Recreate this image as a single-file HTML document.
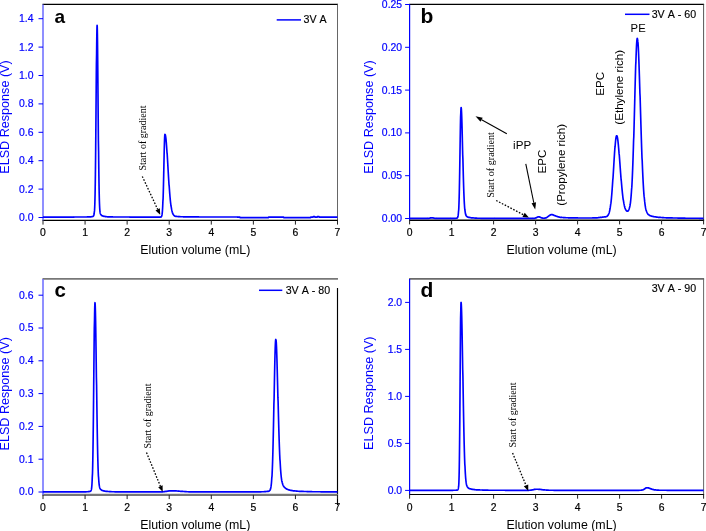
<!DOCTYPE html>
<html lang="en"><head><meta charset="utf-8"><title>ELSD chromatograms</title>
<style>html,body{margin:0;padding:0;background:#fff}svg{display:block}</style>
</head><body>
<svg width="706" height="531" viewBox="0 0 706 531" font-family='"Liberation Sans", Arial, Helvetica, sans-serif'>
<rect width="706" height="531" fill="#fff"/>
<line x1="42.5" y1="4.4" x2="338.0" y2="4.4" stroke="#000" stroke-width="1.3"/>
<line x1="337.5" y1="4.4" x2="337.5" y2="220.4" stroke="#666" stroke-width="1"/>
<line x1="42.5" y1="220.4" x2="338.0" y2="220.4" stroke="#000" stroke-width="1.3"/>
<line x1="43.0" y1="4.4" x2="43.0" y2="220.4" stroke="#6a6aff" stroke-width="1.5"/>
<line x1="43.00" y1="220.4" x2="43.00" y2="224.6" stroke="#222" stroke-width="1"/>
<text x="43.00" y="236.3" text-anchor="middle" font-size="10.4" fill="#000" stroke="#000" stroke-width="0.2">0</text>
<line x1="85.07" y1="220.4" x2="85.07" y2="224.6" stroke="#222" stroke-width="1"/>
<text x="85.07" y="236.3" text-anchor="middle" font-size="10.4" fill="#000" stroke="#000" stroke-width="0.2">1</text>
<line x1="127.14" y1="220.4" x2="127.14" y2="224.6" stroke="#222" stroke-width="1"/>
<text x="127.14" y="236.3" text-anchor="middle" font-size="10.4" fill="#000" stroke="#000" stroke-width="0.2">2</text>
<line x1="169.21" y1="220.4" x2="169.21" y2="224.6" stroke="#222" stroke-width="1"/>
<text x="169.21" y="236.3" text-anchor="middle" font-size="10.4" fill="#000" stroke="#000" stroke-width="0.2">3</text>
<line x1="211.29" y1="220.4" x2="211.29" y2="224.6" stroke="#222" stroke-width="1"/>
<text x="211.29" y="236.3" text-anchor="middle" font-size="10.4" fill="#000" stroke="#000" stroke-width="0.2">4</text>
<line x1="253.36" y1="220.4" x2="253.36" y2="224.6" stroke="#222" stroke-width="1"/>
<text x="253.36" y="236.3" text-anchor="middle" font-size="10.4" fill="#000" stroke="#000" stroke-width="0.2">5</text>
<line x1="295.43" y1="220.4" x2="295.43" y2="224.6" stroke="#222" stroke-width="1"/>
<text x="295.43" y="236.3" text-anchor="middle" font-size="10.4" fill="#000" stroke="#000" stroke-width="0.2">6</text>
<line x1="337.50" y1="220.4" x2="337.50" y2="224.6" stroke="#222" stroke-width="1"/>
<text x="337.50" y="236.3" text-anchor="middle" font-size="10.4" fill="#000" stroke="#000" stroke-width="0.2">7</text>
<line x1="38.5" y1="217.50" x2="43.0" y2="217.50" stroke="#0000ff" stroke-width="1"/>
<text x="33.5" y="220.90" text-anchor="end" font-size="10.4" fill="#0000ff" stroke="#0000ff" stroke-width="0.2">0.0</text>
<line x1="38.5" y1="189.10" x2="43.0" y2="189.10" stroke="#0000ff" stroke-width="1"/>
<text x="33.5" y="192.50" text-anchor="end" font-size="10.4" fill="#0000ff" stroke="#0000ff" stroke-width="0.2">0.2</text>
<line x1="38.5" y1="160.70" x2="43.0" y2="160.70" stroke="#0000ff" stroke-width="1"/>
<text x="33.5" y="164.10" text-anchor="end" font-size="10.4" fill="#0000ff" stroke="#0000ff" stroke-width="0.2">0.4</text>
<line x1="38.5" y1="132.30" x2="43.0" y2="132.30" stroke="#0000ff" stroke-width="1"/>
<text x="33.5" y="135.70" text-anchor="end" font-size="10.4" fill="#0000ff" stroke="#0000ff" stroke-width="0.2">0.6</text>
<line x1="38.5" y1="103.90" x2="43.0" y2="103.90" stroke="#0000ff" stroke-width="1"/>
<text x="33.5" y="107.30" text-anchor="end" font-size="10.4" fill="#0000ff" stroke="#0000ff" stroke-width="0.2">0.8</text>
<line x1="38.5" y1="75.50" x2="43.0" y2="75.50" stroke="#0000ff" stroke-width="1"/>
<text x="33.5" y="78.90" text-anchor="end" font-size="10.4" fill="#0000ff" stroke="#0000ff" stroke-width="0.2">1.0</text>
<line x1="38.5" y1="47.10" x2="43.0" y2="47.10" stroke="#0000ff" stroke-width="1"/>
<text x="33.5" y="50.50" text-anchor="end" font-size="10.4" fill="#0000ff" stroke="#0000ff" stroke-width="0.2">1.2</text>
<line x1="38.5" y1="18.70" x2="43.0" y2="18.70" stroke="#0000ff" stroke-width="1"/>
<text x="33.5" y="22.10" text-anchor="end" font-size="10.4" fill="#0000ff" stroke="#0000ff" stroke-width="0.2">1.4</text>
<polyline points="43.0,217.1 43.1,217.1 43.2,217.1 43.3,217.1 43.4,217.1 43.5,217.1 43.6,217.1 43.7,217.1 43.8,217.1 43.9,217.1 44.1,217.1 44.2,217.1 44.3,217.1 44.4,217.1 44.5,217.1 44.6,217.1 44.7,217.1 44.8,217.1 44.9,217.1 45.0,217.1 45.1,217.1 45.2,217.1 45.3,217.1 45.4,217.1 45.5,217.1 45.6,217.1 45.7,217.1 45.8,217.1 45.9,217.1 46.1,217.1 46.2,217.1 46.3,217.1 46.4,217.1 46.5,217.1 46.6,217.1 46.7,217.1 46.8,217.1 46.9,217.1 47.0,217.1 47.1,217.1 47.2,217.1 47.3,217.1 47.4,217.1 47.5,217.1 47.6,217.1 47.7,217.1 47.8,217.1 47.9,217.1 48.1,217.1 48.2,217.1 48.3,217.1 48.4,217.1 48.5,217.1 48.6,217.1 48.7,217.1 48.8,217.1 48.9,217.1 49.0,217.1 49.1,217.1 49.2,217.1 49.3,217.1 49.4,217.1 49.5,217.1 49.6,217.1 49.7,217.1 49.8,217.1 49.9,217.1 50.0,217.1 50.2,217.1 50.3,217.1 50.4,217.1 50.5,217.1 50.6,217.1 50.7,217.1 50.8,217.1 50.9,217.1 51.0,217.1 51.1,217.1 51.2,217.1 51.3,217.1 51.4,217.1 51.5,217.1 51.6,217.1 51.7,217.1 51.8,217.1 51.9,217.1 52.0,217.1 52.2,217.1 52.3,217.1 52.4,217.1 52.5,217.1 52.6,217.1 52.7,217.1 52.8,217.1 52.9,217.1 53.0,217.1 53.1,217.1 53.2,217.1 53.3,217.1 53.4,217.1 53.5,217.1 53.6,217.1 53.7,217.1 53.8,217.1 53.9,217.1 54.0,217.1 54.2,217.1 54.3,217.1 54.4,217.1 54.5,217.1 54.6,217.1 54.7,217.1 54.8,217.1 54.9,217.1 55.0,217.1 55.1,217.1 55.2,217.1 55.3,217.1 55.4,217.1 55.5,217.1 55.6,217.1 55.7,217.1 55.8,217.1 55.9,217.1 56.0,217.1 56.2,217.1 56.3,217.1 56.4,217.1 56.5,217.1 56.6,217.1 56.7,217.1 56.8,217.1 56.9,217.1 57.0,217.1 57.1,217.1 57.2,217.1 57.3,217.1 57.4,217.1 57.5,217.1 57.6,217.1 57.7,217.1 57.8,217.1 57.9,217.1 58.0,217.1 58.2,217.1 58.3,217.1 58.4,217.1 58.5,217.1 58.6,217.1 58.7,217.1 58.8,217.1 58.9,217.1 59.0,217.1 59.1,217.1 59.2,217.1 59.3,217.1 59.4,217.1 59.5,217.1 59.6,217.1 59.7,217.1 59.8,217.1 59.9,217.1 60.0,217.1 60.2,217.1 60.3,217.1 60.4,217.1 60.5,217.1 60.6,217.1 60.7,217.1 60.8,217.1 60.9,217.1 61.0,217.1 61.1,217.1 61.2,217.1 61.3,217.1 61.4,217.1 61.5,217.1 61.6,217.1 61.7,217.1 61.8,217.1 61.9,217.1 62.0,217.1 62.1,217.1 62.3,217.1 62.4,217.1 62.5,217.1 62.6,217.1 62.7,217.1 62.8,217.1 62.9,217.1 63.0,217.1 63.1,217.1 63.2,217.1 63.3,217.1 63.4,217.1 63.5,217.1 63.6,217.1 63.7,217.1 63.8,217.1 63.9,217.1 64.0,217.1 64.1,217.1 64.3,217.1 64.4,217.1 64.5,217.1 64.6,217.1 64.7,217.1 64.8,217.1 64.9,217.1 65.0,217.1 65.1,217.1 65.2,217.1 65.3,217.1 65.4,217.1 65.5,217.1 65.6,217.1 65.7,217.1 65.8,217.1 65.9,217.1 66.0,217.1 66.1,217.1 66.3,217.1 66.4,217.1 66.5,217.1 66.6,217.1 66.7,217.1 66.8,217.1 66.9,217.1 67.0,217.1 67.1,217.1 67.2,217.1 67.3,217.1 67.4,217.1 67.5,217.1 67.6,217.1 67.7,217.1 67.8,217.1 67.9,217.1 68.0,217.1 68.1,217.1 68.3,217.1 68.4,217.1 68.5,217.1 68.6,217.1 68.7,217.1 68.8,217.1 68.9,217.1 69.0,217.1 69.1,217.1 69.2,217.1 69.3,217.1 69.4,217.1 69.5,217.1 69.6,217.1 69.7,217.1 69.8,217.1 69.9,217.1 70.0,217.1 70.1,217.1 70.3,217.1 70.4,217.1 70.5,217.1 70.6,217.1 70.7,217.1 70.8,217.1 70.9,217.1 71.0,217.1 71.1,217.1 71.2,217.1 71.3,217.1 71.4,217.1 71.5,217.1 71.6,217.1 71.7,217.1 71.8,217.1 71.9,217.1 72.0,217.1 72.1,217.1 72.3,217.1 72.4,217.1 72.5,217.1 72.6,217.1 72.7,217.1 72.8,217.1 72.9,217.1 73.0,217.1 73.1,217.1 73.2,217.1 73.3,217.1 73.4,217.1 73.5,217.1 73.6,217.1 73.7,217.1 73.8,217.1 73.9,217.1 74.0,217.1 74.1,217.0 74.2,217.0 74.4,217.0 74.5,217.0 74.6,217.0 74.7,217.0 74.8,217.0 74.9,217.0 75.0,217.0 75.1,217.0 75.2,217.0 75.3,217.0 75.4,217.0 75.5,217.0 75.6,217.0 75.7,217.0 75.8,217.0 75.9,217.0 76.0,217.0 76.1,217.0 76.2,217.0 76.4,217.0 76.5,217.0 76.6,217.0 76.7,217.0 76.8,217.0 76.9,217.0 77.0,217.0 77.1,217.0 77.2,217.0 77.3,217.0 77.4,217.0 77.5,217.0 77.6,217.0 77.7,217.0 77.8,217.0 77.9,217.0 78.0,217.0 78.1,217.0 78.2,217.0 78.4,217.0 78.5,217.0 78.6,217.0 78.7,217.0 78.8,217.0 78.9,217.0 79.0,217.0 79.1,217.0 79.2,217.0 79.3,217.0 79.4,217.0 79.5,217.0 79.6,217.0 79.7,217.0 79.8,217.0 79.9,217.0 80.0,217.0 80.1,217.0 80.2,217.0 80.4,217.0 80.5,217.0 80.6,217.0 80.7,217.0 80.8,217.0 80.9,217.0 81.0,217.0 81.1,217.0 81.2,217.0 81.3,217.0 81.4,217.0 81.5,217.0 81.6,217.0 81.7,217.0 81.8,217.0 81.9,217.0 82.0,217.0 82.1,217.0 82.2,217.0 82.4,217.0 82.5,217.0 82.6,217.0 82.7,217.0 82.8,217.0 82.9,217.0 83.0,217.0 83.1,217.0 83.2,217.0 83.3,217.0 83.4,217.0 83.5,217.0 83.6,217.0 83.7,217.0 83.8,217.0 83.9,217.0 84.0,217.0 84.1,217.0 84.2,217.0 84.3,217.0 84.5,217.0 84.6,217.0 84.7,217.0 84.8,217.0 84.9,217.0 85.0,217.0 85.1,217.0 85.2,217.0 85.3,217.0 85.4,217.0 85.5,217.0 85.6,217.0 85.7,217.0 85.8,217.0 85.9,217.0 86.0,217.0 86.1,217.0 86.2,217.0 86.3,217.0 86.5,217.0 86.6,217.0 86.7,217.0 86.8,217.0 86.9,217.0 87.0,217.0 87.1,216.9 87.2,216.9 87.3,216.9 87.4,216.9 87.5,216.9 87.6,216.9 87.7,216.9 87.8,216.9 87.9,216.9 88.0,216.9 88.1,216.9 88.2,216.9 88.3,216.9 88.5,216.9 88.6,216.9 88.7,216.9 88.8,216.9 88.9,216.9 89.0,216.9 89.1,216.9 89.2,216.9 89.3,216.9 89.4,216.9 89.5,216.9 89.6,216.9 89.7,216.8 89.8,216.8 89.9,216.8 90.0,216.8 90.1,216.8 90.2,216.8 90.3,216.8 90.5,216.8 90.6,216.8 90.7,216.8 90.8,216.8 90.9,216.8 91.0,216.7 91.1,216.7 91.2,216.7 91.3,216.7 91.4,216.7 91.5,216.7 91.6,216.7 91.7,216.7 91.8,216.6 91.9,216.6 92.0,216.6 92.1,216.6 92.2,216.6 92.3,216.5 92.5,216.5 92.6,216.5 92.7,216.5 92.8,216.4 92.9,216.4 93.0,216.4 93.1,216.3 93.2,216.2 93.3,216.2 93.4,216.1 93.5,216.0 93.6,215.8 93.7,215.6 93.8,215.4 93.9,215.0 94.0,214.6 94.1,214.0 94.2,213.2 94.3,212.2 94.5,210.9 94.6,209.3 94.7,207.3 94.8,204.7 94.9,201.6 95.0,197.8 95.1,193.2 95.2,187.8 95.3,181.5 95.4,174.3 95.5,166.1 95.6,156.9 95.7,146.8 95.8,136.0 95.9,124.4 96.0,112.4 96.1,100.0 96.2,87.7 96.3,75.6 96.4,64.2 96.6,53.7 96.7,44.4 96.8,36.7 96.9,30.9 97.0,27.0 97.1,25.4 97.2,26.1 97.3,29.0 97.4,34.1 97.5,41.1 97.6,49.8 97.7,59.9 97.8,70.8 97.9,82.4 98.0,94.5 98.1,106.6 98.2,118.6 98.3,130.1 98.4,141.1 98.6,151.3 98.7,160.7 98.8,169.1 98.9,176.6 99.0,183.2 99.1,188.9 99.2,193.7 99.3,197.8 99.4,201.2 99.5,204.0 99.6,206.3 99.7,208.1 99.8,209.6 99.9,210.8 100.0,211.7 100.1,212.4 100.2,213.0 100.3,213.5 100.4,213.8 100.6,214.1 100.7,214.3 100.8,214.5 100.9,214.7 101.0,214.8 101.1,214.9 101.2,215.0 101.3,215.1 101.4,215.2 101.5,215.3 101.6,215.4 101.7,215.4 101.8,215.5 101.9,215.6 102.0,215.6 102.1,215.7 102.2,215.7 102.3,215.8 102.4,215.8 102.6,215.9 102.7,215.9 102.8,215.9 102.9,216.0 103.0,216.0 103.1,216.0 103.2,216.1 103.3,216.1 103.4,216.1 103.5,216.2 103.6,216.2 103.7,216.2 103.8,216.2 103.9,216.3 104.0,216.3 104.1,216.3 104.2,216.3 104.3,216.4 104.4,216.4 104.6,216.4 104.7,216.4 104.8,216.4 104.9,216.5 105.0,216.5 105.1,216.5 105.2,216.5 105.3,216.5 105.4,216.5 105.5,216.6 105.6,216.6 105.7,216.6 105.8,216.6 105.9,216.6 106.0,216.6 106.1,216.6 106.2,216.6 106.3,216.6 106.4,216.7 106.6,216.7 106.7,216.7 106.8,216.7 106.9,216.7 107.0,216.7 107.1,216.7 107.2,216.7 107.3,216.7 107.4,216.7 107.5,216.7 107.6,216.8 107.7,216.8 107.8,216.8 107.9,216.8 108.0,216.8 108.1,216.8 108.2,216.8 108.3,216.8 108.4,216.8 108.5,216.8 108.7,216.8 108.8,216.8 108.9,216.8 109.0,216.8 109.1,216.8 109.2,216.8 109.3,216.8 109.4,216.9 109.5,216.9 109.6,216.9 109.7,216.9 109.8,216.9 109.9,216.9 110.0,216.9 110.1,216.9 110.2,216.9 110.3,216.9 110.4,216.9 110.5,216.9 110.7,216.9 110.8,216.9 110.9,216.9 111.0,216.9 111.1,216.9 111.2,216.9 111.3,216.9 111.4,216.9 111.5,216.9 111.6,216.9 111.7,216.9 111.8,216.9 111.9,216.9 112.0,216.9 112.1,216.9 112.2,216.9 112.3,216.9 112.4,216.9 112.5,216.9 112.7,216.9 112.8,217.0 112.9,217.0 113.0,217.0 113.1,217.0 113.2,217.0 113.3,217.0 113.4,217.0 113.5,217.0 113.6,217.0 113.7,217.0 113.8,217.0 113.9,217.0 114.0,217.0 114.1,217.0 114.2,217.0 114.3,217.0 114.4,217.0 114.5,217.0 114.7,217.0 114.8,217.0 114.9,217.0 115.0,217.0 115.1,217.0 115.2,217.0 115.3,217.0 115.4,217.0 115.5,217.0 115.6,217.0 115.7,217.0 115.8,217.0 115.9,217.0 116.0,217.0 116.1,217.0 116.2,217.0 116.3,217.0 116.4,217.0 116.5,217.0 116.7,217.0 116.8,217.0 116.9,217.0 117.0,217.0 117.1,217.0 117.2,217.0 117.3,217.0 117.4,217.0 117.5,217.0 117.6,217.0 117.7,217.0 117.8,217.0 117.9,217.0 118.0,217.0 118.1,217.0 118.2,217.0 118.3,217.0 118.4,217.0 118.5,217.0 118.7,217.0 118.8,217.0 118.9,217.0 119.0,217.0 119.1,217.0 119.2,217.0 119.3,217.0 119.4,217.0 119.5,217.0 119.6,217.0 119.7,217.0 119.8,217.0 119.9,217.0 120.0,217.0 120.1,217.0 120.2,217.0 120.3,217.0 120.4,217.0 120.5,217.0 120.6,217.0 120.8,217.0 120.9,217.0 121.0,217.0 121.1,217.0 121.2,217.0 121.3,217.0 121.4,217.0 121.5,217.0 121.6,217.0 121.7,217.0 121.8,217.0 121.9,217.0 122.0,217.0 122.1,217.0 122.2,217.0 122.3,217.0 122.4,217.0 122.5,217.0 122.6,217.0 122.8,217.0 122.9,217.0 123.0,217.0 123.1,217.0 123.2,217.0 123.3,217.0 123.4,217.0 123.5,217.0 123.6,217.0 123.7,217.0 123.8,217.0 123.9,217.0 124.0,217.0 124.1,217.0 124.2,217.0 124.3,217.0 124.4,217.0 124.5,217.0 124.6,217.0 124.8,217.0 124.9,217.0 125.0,217.0 125.1,217.0 125.2,217.0 125.3,217.0 125.4,217.0 125.5,217.0 125.6,217.0 125.7,217.0 125.8,217.0 125.9,217.0 126.0,217.0 126.1,217.0 126.2,217.0 126.3,217.0 126.4,217.0 126.5,217.0 126.6,217.0 126.8,217.0 126.9,217.0 127.0,217.0 127.1,217.0 127.2,217.0 127.3,217.0 127.4,217.0 127.5,217.0 127.6,217.0 127.7,217.0 127.8,217.0 127.9,217.0 128.0,217.0 128.1,217.0 128.2,217.0 128.3,217.0 128.4,217.0 128.5,217.0 128.6,217.0 128.8,217.0 128.9,217.0 129.0,217.0 129.1,217.0 129.2,217.0 129.3,217.0 129.4,217.0 129.5,217.0 129.6,217.0 129.7,217.0 129.8,217.1 129.9,217.1 130.0,217.1 130.1,217.1 130.2,217.1 130.3,217.1 130.4,217.1 130.5,217.1 130.6,217.1 130.8,217.1 130.9,217.1 131.0,217.1 131.1,217.1 131.2,217.1 131.3,217.1 131.4,217.1 131.5,217.1 131.6,217.1 131.7,217.1 131.8,217.1 131.9,217.1 132.0,217.1 132.1,217.1 132.2,217.1 132.3,217.1 132.4,217.1 132.5,217.1 132.6,217.1 132.7,217.1 132.9,217.1 133.0,217.1 133.1,217.1 133.2,217.1 133.3,217.1 133.4,217.1 133.5,217.1 133.6,217.1 133.7,217.1 133.8,217.1 133.9,217.1 134.0,217.1 134.1,217.1 134.2,217.1 134.3,217.1 134.4,217.1 134.5,217.1 134.6,217.1 134.7,217.1 134.9,217.1 135.0,217.1 135.1,217.1 135.2,217.1 135.3,217.1 135.4,217.1 135.5,217.1 135.6,217.1 135.7,217.1 135.8,217.1 135.9,217.1 136.0,217.1 136.1,217.1 136.2,217.1 136.3,217.1 136.4,217.1 136.5,217.1 136.6,217.1 136.7,217.1 136.9,217.1 137.0,217.1 137.1,217.1 137.2,217.1 137.3,217.1 137.4,217.1 137.5,217.1 137.6,217.1 137.7,217.1 137.8,217.1 137.9,217.1 138.0,217.1 138.1,217.1 138.2,217.1 138.3,217.1 138.4,217.1 138.5,217.1 138.6,217.1 138.7,217.1 138.9,217.1 139.0,217.1 139.1,217.1 139.2,217.1 139.3,217.1 139.4,217.1 139.5,217.1 139.6,217.1 139.7,217.1 139.8,217.1 139.9,217.1 140.0,217.1 140.1,217.1 140.2,217.1 140.3,217.1 140.4,217.1 140.5,217.1 140.6,217.1 140.7,217.1 140.9,217.1 141.0,217.1 141.1,217.1 141.2,217.1 141.3,217.1 141.4,217.1 141.5,217.1 141.6,217.1 141.7,217.1 141.8,217.1 141.9,217.1 142.0,217.1 142.1,217.1 142.2,217.1 142.3,217.1 142.4,217.1 142.5,217.1 142.6,217.1 142.7,217.1 142.9,217.1 143.0,217.1 143.1,217.1 143.2,217.1 143.3,217.1 143.4,217.1 143.5,217.1 143.6,217.1 143.7,217.1 143.8,217.1 143.9,217.1 144.0,217.1 144.1,217.1 144.2,217.1 144.3,217.1 144.4,217.1 144.5,217.1 144.6,217.1 144.7,217.1 144.8,217.1 145.0,217.1 145.1,217.1 145.2,217.1 145.3,217.1 145.4,217.1 145.5,217.1 145.6,217.1 145.7,217.1 145.8,217.1 145.9,217.1 146.0,217.1 146.1,217.1 146.2,217.1 146.3,217.1 146.4,217.1 146.5,217.1 146.6,217.1 146.7,217.1 146.8,217.1 147.0,217.1 147.1,217.1 147.2,217.1 147.3,217.1 147.4,217.1 147.5,217.1 147.6,217.1 147.7,217.1 147.8,217.1 147.9,217.1 148.0,217.1 148.1,217.1 148.2,217.1 148.3,217.1 148.4,217.1 148.5,217.1 148.6,217.1 148.7,217.1 148.8,217.1 149.0,217.1 149.1,217.1 149.2,217.1 149.3,217.1 149.4,217.1 149.5,217.1 149.6,217.1 149.7,217.1 149.8,217.1 149.9,217.1 150.0,217.1 150.1,217.1 150.2,217.1 150.3,217.1 150.4,217.1 150.5,217.1 150.6,217.1 150.7,217.1 150.8,217.1 151.0,217.1 151.1,217.1 151.2,217.1 151.3,217.1 151.4,217.1 151.5,217.1 151.6,217.1 151.7,217.1 151.8,217.1 151.9,217.1 152.0,217.1 152.1,217.1 152.2,217.1 152.3,217.1 152.4,217.1 152.5,217.1 152.6,217.1 152.7,217.1 152.8,217.1 153.0,217.1 153.1,217.1 153.2,217.1 153.3,217.1 153.4,217.1 153.5,217.1 153.6,217.1 153.7,217.1 153.8,217.1 153.9,217.1 154.0,217.1 154.1,217.1 154.2,217.1 154.3,217.1 154.4,217.1 154.5,217.1 154.6,217.1 154.7,217.1 154.8,217.1 154.9,217.1 155.1,217.1 155.2,217.1 155.3,217.1 155.4,217.1 155.5,217.1 155.6,217.1 155.7,217.1 155.8,217.1 155.9,217.1 156.0,217.1 156.1,217.1 156.2,217.1 156.3,217.1 156.4,217.1 156.5,217.1 156.6,217.1 156.7,217.1 156.8,217.1 156.9,217.1 157.1,217.1 157.2,217.1 157.3,217.1 157.4,217.1 157.5,217.1 157.6,217.1 157.7,217.1 157.8,217.1 157.9,217.1 158.0,217.1 158.1,217.1 158.2,217.1 158.3,217.1 158.4,217.1 158.5,217.1 158.6,217.1 158.7,217.1 158.8,217.1 158.9,217.1 159.1,217.1 159.2,217.1 159.3,217.1 159.4,217.1 159.5,217.1 159.6,217.1 159.7,217.1 159.8,217.1 159.9,217.1 160.0,217.1 160.1,217.1 160.2,217.1 160.3,217.1 160.4,217.0 160.5,217.0 160.6,217.0 160.7,217.0 160.8,217.0 160.9,217.0 161.1,216.9 161.2,216.8 161.3,216.8 161.4,216.7 161.5,216.5 161.6,216.3 161.7,216.1 161.8,215.7 161.9,215.3 162.0,214.8 162.1,214.2 162.2,213.4 162.3,212.4 162.4,211.2 162.5,209.8 162.6,208.2 162.7,206.2 162.8,204.0 162.9,201.4 163.1,198.6 163.2,195.4 163.3,191.8 163.4,188.0 163.5,183.8 163.6,179.4 163.7,174.9 163.8,170.2 163.9,165.4 164.0,160.7 164.1,156.0 164.2,151.6 164.3,147.6 164.4,143.9 164.5,140.7 164.6,138.1 164.7,136.2 164.8,134.9 164.9,134.4 165.1,134.5 165.2,134.6 165.3,134.8 165.4,135.2 165.5,135.6 165.6,136.2 165.7,136.8 165.8,137.6 165.9,138.4 166.0,139.4 166.1,140.4 166.2,141.5 166.3,142.6 166.4,143.9 166.5,145.2 166.6,146.6 166.7,148.0 166.8,149.5 166.9,151.0 167.0,152.6 167.2,154.2 167.3,155.9 167.4,157.6 167.5,159.3 167.6,161.0 167.7,162.7 167.8,164.5 167.9,166.2 168.0,168.0 168.1,169.7 168.2,171.4 168.3,173.2 168.4,174.9 168.5,176.6 168.6,178.2 168.7,179.9 168.8,181.5 168.9,183.1 169.0,184.6 169.2,186.1 169.3,187.6 169.4,189.0 169.5,190.4 169.6,191.8 169.7,193.1 169.8,194.3 169.9,195.5 170.0,196.7 170.1,197.8 170.2,198.9 170.3,200.0 170.4,201.0 170.5,201.9 170.6,202.8 170.7,203.7 170.8,204.5 170.9,205.3 171.0,206.0 171.2,206.7 171.3,207.4 171.4,208.0 171.5,208.6 171.6,209.2 171.7,209.7 171.8,210.2 171.9,210.7 172.0,211.1 172.1,211.5 172.2,211.9 172.3,212.3 172.4,212.6 172.5,212.9 172.6,213.2 172.7,213.4 172.8,213.7 172.9,213.9 173.0,214.1 173.2,214.3 173.3,214.5 173.4,214.7 173.5,214.8 173.6,215.0 173.7,215.1 173.8,215.2 173.9,215.3 174.0,215.4 174.1,215.5 174.2,215.6 174.3,215.7 174.4,215.8 174.5,215.8 174.6,215.9 174.7,215.9 174.8,216.0 174.9,216.0 175.0,216.1 175.2,216.1 175.3,216.2 175.4,216.2 175.5,216.2 175.6,216.2 175.7,216.3 175.8,216.3 175.9,216.3 176.0,216.3 176.1,216.4 176.2,216.4 176.3,216.4 176.4,216.4 176.5,216.4 176.6,216.4 176.7,216.4 176.8,216.5 176.9,216.5 177.0,216.5 177.2,216.5 177.3,216.5 177.4,216.5 177.5,216.5 177.6,216.5 177.7,216.5 177.8,216.5 177.9,216.5 178.0,216.5 178.1,216.6 178.2,216.6 178.3,216.6 178.4,216.6 178.5,216.6 178.6,216.6 178.7,216.6 178.8,216.6 178.9,216.6 179.0,216.6 179.1,216.6 179.3,216.6 179.4,216.6 179.5,216.6 179.6,216.6 179.7,216.6 179.8,216.6 179.9,216.6 180.0,216.6 180.1,216.6 180.2,216.7 180.3,216.7 180.4,216.7 180.5,216.7 180.6,216.7 180.7,216.7 180.8,216.7 180.9,216.7 181.0,216.7 181.1,216.7 181.3,216.7 181.4,216.7 181.5,216.7 181.6,216.7 181.7,216.7 181.8,216.7 181.9,216.7 182.0,216.7 182.1,216.7 182.2,216.7 182.3,216.7 182.4,216.7 182.5,216.7 182.6,216.7 182.7,216.7 182.8,216.7 182.9,216.7 183.0,216.7 183.1,216.7 183.3,216.7 183.4,216.8 183.5,216.8 183.6,216.8 183.7,216.8 183.8,216.8 183.9,216.8 184.0,216.8 184.1,216.8 184.2,216.8 184.3,216.8 184.4,216.8 184.5,216.8 184.6,216.8 184.7,216.8 184.8,216.8 184.9,216.8 185.0,216.8 185.1,216.8 185.3,216.8 185.4,216.8 185.5,216.8 185.6,216.8 185.7,216.8 185.8,216.8 185.9,216.8 186.0,216.8 186.1,216.8 186.2,216.8 186.3,216.8 186.4,216.8 186.5,216.8 186.6,216.8 186.7,216.8 186.8,216.8 186.9,216.8 187.0,216.8 187.1,216.8 187.3,216.8 187.4,216.8 187.5,216.8 187.6,216.8 187.7,216.8 187.8,216.8 187.9,216.8 188.0,216.8 188.1,216.8 188.2,216.8 188.3,216.8 188.4,216.8 188.5,216.8 188.6,216.9 188.7,216.9 188.8,216.9 188.9,216.9 189.0,216.9 189.1,216.9 189.3,216.9 189.4,216.9 189.5,216.9 189.6,216.9 189.7,216.9 189.8,216.9 189.9,216.9 190.0,216.9 190.1,216.9 190.2,216.9 190.3,216.9 190.4,216.9 190.5,216.9 190.6,216.9 190.7,216.9 190.8,216.9 190.9,216.9 191.0,216.9 191.1,216.9 191.2,216.9 191.4,216.9 191.5,216.9 191.6,216.9 191.7,216.9 191.8,216.9 191.9,216.9 192.0,216.9 192.1,216.9 192.2,216.9 192.3,216.9 192.4,216.9 192.5,216.9 192.6,216.9 192.7,216.9 192.8,216.9 192.9,216.9 193.0,216.9 193.1,216.9 193.2,216.9 193.4,216.9 193.5,216.9 193.6,216.9 193.7,216.9 193.8,216.9 193.9,216.9 194.0,216.9 194.1,216.9 194.2,216.9 194.3,216.9 194.4,216.9 194.5,216.9 194.6,216.9 194.7,216.9 194.8,216.9 194.9,216.9 195.0,216.9 195.1,216.9 195.2,216.9 195.4,216.9 195.5,216.9 195.6,216.9 195.7,216.9 195.8,216.9 195.9,216.9 196.0,216.9 196.1,216.9 196.2,216.9 196.3,216.9 196.4,216.9 196.5,216.9 196.6,216.9 196.7,216.9 196.8,216.9 196.9,216.9 197.0,216.9 197.1,216.9 197.2,216.9 197.4,216.9 197.5,216.9 197.6,216.9 197.7,216.9 197.8,216.9 197.9,216.9 198.0,216.9 198.1,216.9 198.2,216.9 198.3,216.9 198.4,216.9 198.5,216.9 198.6,216.9 198.7,216.9 198.8,216.9 198.9,217.0 199.0,217.0 199.1,217.0 199.2,217.0 199.4,217.0 199.5,217.0 199.6,217.0 199.7,217.0 199.8,217.0 199.9,217.0 200.0,217.0 200.1,217.0 200.2,217.0 200.3,217.0 200.4,217.0 200.5,217.0 200.6,217.0 200.7,217.0 200.8,217.0 200.9,217.0 201.0,217.0 201.1,217.0 201.2,217.0 201.4,217.0 201.5,217.0 201.6,217.0 201.7,217.0 201.8,217.0 201.9,217.0 202.0,217.0 202.1,217.0 202.2,217.0 202.3,217.0 202.4,217.0 202.5,217.0 202.6,217.0 202.7,217.0 202.8,217.0 202.9,217.0 203.0,217.0 203.1,217.0 203.2,217.0 203.3,217.0 203.5,217.0 203.6,217.0 203.7,217.0 203.8,217.0 203.9,217.0 204.0,217.0 204.1,217.0 204.2,217.0 204.3,217.0 204.4,217.0 204.5,217.0 204.6,217.0 204.7,217.0 204.8,217.0 204.9,217.0 205.0,217.0 205.1,217.0 205.2,217.0 205.3,217.0 205.5,217.0 205.6,217.0 205.7,217.0 205.8,217.0 205.9,217.0 206.0,217.0 206.1,217.0 206.2,217.0 206.3,217.0 206.4,217.0 206.5,217.0 206.6,217.0 206.7,217.0 206.8,217.0 206.9,217.0 207.0,217.0 207.1,217.0 207.2,217.0 207.3,217.0 207.5,217.0 207.6,217.0 207.7,217.0 207.8,217.0 207.9,217.0 208.0,217.0 208.1,217.0 208.2,217.0 208.3,217.0 208.4,217.0 208.5,217.0 208.6,217.0 208.7,217.0 208.8,217.0 208.9,217.0 209.0,217.0 209.1,217.0 209.2,217.0 209.3,217.0 209.5,217.0 209.6,217.0 209.7,217.0 209.8,217.0 209.9,217.0 210.0,217.0 210.1,217.0 210.2,217.0 210.3,217.0 210.4,217.0 210.5,217.0 210.6,217.0 210.7,217.0 210.8,217.0 210.9,217.0 211.0,217.0 211.1,217.0 211.2,217.0 211.3,217.0 211.5,217.0 211.6,217.0 211.7,217.0 211.8,217.0 211.9,217.0 212.0,217.0 212.1,217.0 212.2,217.0 212.3,217.0 212.4,217.0 212.5,217.0 212.6,217.0 212.7,217.0 212.8,217.0 212.9,217.0 213.0,217.0 213.1,217.0 213.2,217.0 213.3,217.0 213.5,217.0 213.6,217.0 213.7,217.0 213.8,217.0 213.9,217.0 214.0,217.0 214.1,217.0 214.2,217.0 214.3,217.0 214.4,217.0 214.5,217.0 214.6,217.0 214.7,217.0 214.8,217.0 214.9,217.0 215.0,217.0 215.1,217.0 215.2,217.0 215.3,217.0 215.4,217.0 215.6,217.0 215.7,217.0 215.8,217.0 215.9,217.0 216.0,217.0 216.1,217.0 216.2,217.0 216.3,217.0 216.4,217.0 216.5,217.0 216.6,217.0 216.7,217.0 216.8,217.0 216.9,217.0 217.0,217.0 217.1,217.0 217.2,217.0 217.3,217.0 217.4,217.0 217.6,217.0 217.7,217.0 217.8,217.0 217.9,217.0 218.0,217.0 218.1,217.0 218.2,217.0 218.3,217.0 218.4,217.0 218.5,217.0 218.6,217.0 218.7,217.0 218.8,217.0 218.9,217.0 219.0,217.0 219.1,217.0 219.2,217.0 219.3,217.0 219.4,217.0 219.6,217.0 219.7,217.0 219.8,217.0 219.9,217.0 220.0,217.0 220.1,217.0 220.2,217.0 220.3,217.0 220.4,217.0 220.5,217.0 220.6,217.0 220.7,217.0 220.8,217.0 220.9,217.0 221.0,217.0 221.1,217.0 221.2,217.0 221.3,217.0 221.4,217.0 221.6,217.0 221.7,217.0 221.8,217.0 221.9,217.0 222.0,217.0 222.1,217.0 222.2,217.0 222.3,217.0 222.4,217.0 222.5,217.0 222.6,217.0 222.7,217.0 222.8,217.0 222.9,217.0 223.0,217.0 223.1,217.0 223.2,217.0 223.3,217.0 223.4,217.0 223.6,217.0 223.7,217.0 223.8,217.0 223.9,217.0 224.0,217.0 224.1,217.0 224.2,217.0 224.3,217.0 224.4,217.0 224.5,217.0 224.6,217.0 224.7,217.0 224.8,217.0 224.9,217.0 225.0,217.0 225.1,217.0 225.2,217.0 225.3,217.0 225.4,217.0 225.6,217.0 225.7,217.0 225.8,217.0 225.9,217.0 226.0,217.0 226.1,217.0 226.2,217.0 226.3,217.0 226.4,217.0 226.5,217.0 226.6,217.0 226.7,217.0 226.8,217.0 226.9,217.0 227.0,217.0 227.1,217.0 227.2,217.0 227.3,217.0 227.4,217.0 227.5,217.0 227.7,217.0 227.8,217.0 227.9,217.0 228.0,217.0 228.1,217.0 228.2,217.0 228.3,217.0 228.4,217.0 228.5,217.0 228.6,217.0 228.7,217.0 228.8,217.0 228.9,217.0 229.0,217.0 229.1,217.0 229.2,217.0 229.3,217.0 229.4,217.0 229.5,217.0 229.7,217.0 229.8,217.0 229.9,217.0 230.0,217.0 230.1,217.0 230.2,217.0 230.3,217.0 230.4,217.0 230.5,217.0 230.6,217.0 230.7,217.0 230.8,217.0 230.9,217.0 231.0,217.0 231.1,217.0 231.2,217.0 231.3,217.0 231.4,217.0 231.5,217.0 231.7,217.0 231.8,217.0 231.9,217.0 232.0,217.0 232.1,217.0 232.2,217.0 232.3,217.0 232.4,217.0 232.5,217.0 232.6,217.0 232.7,217.0 232.8,217.0 232.9,217.0 233.0,217.0 233.1,217.0 233.2,217.0 233.3,217.0 233.4,217.0 233.5,217.0 233.7,217.0 233.8,217.0 233.9,217.0 234.0,217.0 234.1,217.0 234.2,217.0 234.3,217.0 234.4,217.0 234.5,217.0 234.6,217.0 234.7,217.0 234.8,217.0 234.9,217.0 235.0,217.0 235.1,217.0 235.2,217.0 235.3,217.0 235.4,217.0 235.5,217.0 235.7,217.0 235.8,217.0 235.9,217.0 236.0,217.0 236.1,217.0 236.2,217.0 236.3,217.0 236.4,217.0 236.5,217.0 236.6,217.0 236.7,217.0 236.8,217.0 236.9,217.0 237.0,217.0 237.1,217.0 237.2,217.0 237.3,217.0 237.4,217.1 237.5,217.1 237.6,217.1 237.8,217.1 237.9,217.1 238.0,217.1 238.1,217.1 238.2,217.1 238.3,217.1 238.4,217.1 238.5,217.1 238.6,217.1 238.7,217.1 238.8,217.1 238.9,217.1 239.0,217.1 239.1,217.1 239.2,217.1 239.3,217.1 239.4,217.1 239.5,217.1 239.6,217.1 239.8,217.1 239.9,217.1 240.0,217.6 240.1,217.6 240.2,217.6 240.3,217.6 240.4,217.6 240.5,217.6 240.6,217.6 240.7,217.6 240.8,217.6 240.9,217.6 241.0,217.6 241.1,217.6 241.2,217.6 241.3,217.6 241.4,217.6 241.5,217.6 241.6,217.6 241.8,217.6 241.9,217.6 242.0,217.6 242.1,217.6 242.2,217.6 242.3,217.6 242.4,217.6 242.5,217.6 242.6,217.6 242.7,217.6 242.8,217.6 242.9,217.6 243.0,217.6 243.1,217.6 243.2,217.6 243.3,217.6 243.4,217.6 243.5,217.6 243.6,217.6 243.8,217.6 243.9,217.6 244.0,217.6 244.1,217.6 244.2,217.6 244.3,217.6 244.4,217.6 244.5,217.6 244.6,217.6 244.7,217.6 244.8,217.6 244.9,217.6 245.0,217.6 245.1,217.6 245.2,217.6 245.3,217.6 245.4,217.6 245.5,217.6 245.6,217.6 245.8,217.6 245.9,217.6 246.0,217.6 246.1,217.6 246.2,217.6 246.3,217.6 246.4,217.6 246.5,217.6 246.6,217.6 246.7,217.6 246.8,217.6 246.9,217.6 247.0,217.6 247.1,217.6 247.2,217.6 247.3,217.6 247.4,217.6 247.5,217.6 247.6,217.6 247.8,217.6 247.9,217.6 248.0,217.6 248.1,217.6 248.2,217.6 248.3,217.6 248.4,217.6 248.5,217.6 248.6,217.6 248.7,217.6 248.8,217.6 248.9,217.6 249.0,217.6 249.1,217.6 249.2,217.6 249.3,217.6 249.4,217.6 249.5,217.6 249.6,217.6 249.7,217.6 249.9,217.6 250.0,217.6 250.1,217.6 250.2,217.6 250.3,217.6 250.4,217.6 250.5,217.6 250.6,217.6 250.7,217.6 250.8,217.6 250.9,217.6 251.0,217.6 251.1,217.6 251.2,217.6 251.3,217.6 251.4,217.6 251.5,217.6 251.6,217.6 251.7,217.6 251.9,217.6 252.0,217.6 252.1,217.6 252.2,217.6 252.3,217.6 252.4,217.6 252.5,217.6 252.6,217.6 252.7,217.6 252.8,217.6 252.9,217.6 253.0,217.6 253.1,217.6 253.2,217.6 253.3,217.6 253.4,217.6 253.5,217.6 253.6,217.6 253.7,217.6 253.9,217.6 254.0,217.6 254.1,217.6 254.2,217.6 254.3,217.6 254.4,217.6 254.5,217.6 254.6,217.6 254.7,217.6 254.8,217.6 254.9,217.6 255.0,217.6 255.1,217.6 255.2,217.6 255.3,217.6 255.4,217.6 255.5,217.6 255.6,217.6 255.7,217.6 255.9,217.6 256.0,217.6 256.1,217.6 256.2,217.6 256.3,217.6 256.4,217.6 256.5,217.6 256.6,217.6 256.7,217.6 256.8,217.6 256.9,217.6 257.0,217.6 257.1,217.6 257.2,217.6 257.3,217.6 257.4,217.6 257.5,217.6 257.6,217.6 257.7,217.6 257.9,217.6 258.0,217.6 258.1,217.6 258.2,217.6 258.3,217.6 258.4,217.6 258.5,217.6 258.6,217.6 258.7,217.6 258.8,217.6 258.9,217.6 259.0,217.6 259.1,217.6 259.2,217.6 259.3,217.6 259.4,217.6 259.5,217.6 259.6,217.6 259.7,217.6 259.9,217.6 260.0,217.6 260.1,217.6 260.2,217.6 260.3,217.6 260.4,217.6 260.5,217.6 260.6,217.6 260.7,217.6 260.8,217.6 260.9,217.6 261.0,217.6 261.1,217.6 261.2,217.6 261.3,217.6 261.4,217.6 261.5,217.6 261.6,217.6 261.7,217.6 261.8,217.6 262.0,217.6 262.1,217.6 262.2,217.6 262.3,217.6 262.4,217.6 262.5,217.6 262.6,217.6 262.7,217.6 262.8,217.6 262.9,217.6 263.0,217.6 263.1,217.6 263.2,217.6 263.3,217.6 263.4,217.6 263.5,217.6 263.6,217.6 263.7,217.6 263.8,217.6 264.0,217.6 264.1,217.6 264.2,217.6 264.3,217.6 264.4,217.6 264.5,217.6 264.6,217.6 264.7,217.6 264.8,217.6 264.9,217.6 265.0,217.6 265.1,217.6 265.2,217.6 265.3,217.6 265.4,217.6 265.5,217.6 265.6,217.6 265.7,217.6 265.8,217.6 266.0,217.6 266.1,217.6 266.2,217.6 266.3,217.6 266.4,217.6 266.5,217.6 266.6,217.6 266.7,217.6 266.8,217.6 266.9,217.6 267.0,217.6 267.1,217.6 267.2,217.6 267.3,217.6 267.4,217.6 267.5,217.6 267.6,217.6 267.7,217.6 267.8,217.6 268.0,217.6 268.1,217.6 268.2,217.6 268.3,217.6 268.4,217.6 268.5,217.6 268.6,217.1 268.7,217.1 268.8,217.1 268.9,217.1 269.0,217.1 269.1,217.1 269.2,217.1 269.3,217.1 269.4,217.1 269.5,217.1 269.6,217.1 269.7,217.1 269.8,217.1 270.0,217.1 270.1,217.1 270.2,217.1 270.3,217.1 270.4,217.1 270.5,217.1 270.6,217.1 270.7,217.1 270.8,217.1 270.9,217.1 271.0,217.1 271.1,217.1 271.2,217.1 271.3,217.1 271.4,217.1 271.5,217.1 271.6,217.1 271.7,217.1 271.8,217.1 272.0,217.1 272.1,217.1 272.2,217.1 272.3,217.1 272.4,217.1 272.5,217.1 272.6,217.1 272.7,217.1 272.8,217.1 272.9,217.1 273.0,217.1 273.1,217.1 273.2,217.1 273.3,217.1 273.4,217.1 273.5,217.1 273.6,217.1 273.7,217.1 273.8,217.1 273.9,217.1 274.1,217.1 274.2,217.1 274.3,217.1 274.4,217.1 274.5,217.1 274.6,217.1 274.7,217.1 274.8,217.1 274.9,217.1 275.0,217.1 275.1,217.1 275.2,217.1 275.3,217.1 275.4,217.1 275.5,217.1 275.6,217.1 275.7,217.1 275.8,217.1 275.9,217.1 276.1,217.1 276.2,217.1 276.3,217.1 276.4,217.1 276.5,217.1 276.6,217.1 276.7,217.1 276.8,217.1 276.9,217.1 277.0,217.1 277.1,217.1 277.2,217.1 277.3,217.1 277.4,217.1 277.5,217.1 277.6,217.1 277.7,217.1 277.8,217.1 277.9,217.1 278.1,217.1 278.2,217.1 278.3,217.1 278.4,217.1 278.5,217.1 278.6,217.1 278.7,217.1 278.8,217.1 278.9,217.1 279.0,217.1 279.1,217.1 279.2,217.1 279.3,217.1 279.4,217.1 279.5,217.1 279.6,217.1 279.7,217.1 279.8,217.1 279.9,217.1 280.1,217.1 280.2,217.1 280.3,217.1 280.4,217.1 280.5,217.1 280.6,217.1 280.7,217.1 280.8,217.1 280.9,217.1 281.0,217.1 281.1,217.1 281.2,217.1 281.3,217.1 281.4,217.1 281.5,217.1 281.6,217.1 281.7,217.1 281.8,217.1 281.9,217.1 282.1,217.1 282.2,217.1 282.3,217.1 282.4,217.1 282.5,217.1 282.6,217.1 282.7,217.1 282.8,217.1 282.9,217.1 283.0,217.1 283.1,217.1 283.2,217.1 283.3,217.1 283.4,217.1 283.5,217.1 283.6,217.1 283.7,217.6 283.8,217.6 283.9,217.6 284.1,217.6 284.2,217.6 284.3,217.6 284.4,217.6 284.5,217.6 284.6,217.6 284.7,217.6 284.8,217.6 284.9,217.6 285.0,217.6 285.1,217.6 285.2,217.6 285.3,217.6 285.4,217.6 285.5,217.6 285.6,217.6 285.7,217.6 285.8,217.6 285.9,217.6 286.0,217.6 286.2,217.6 286.3,217.6 286.4,217.6 286.5,217.6 286.6,217.6 286.7,217.6 286.8,217.6 286.9,217.6 287.0,217.6 287.1,217.6 287.2,217.6 287.3,217.6 287.4,217.6 287.5,217.6 287.6,217.6 287.7,217.6 287.8,217.6 287.9,217.6 288.0,217.6 288.2,217.6 288.3,217.6 288.4,217.6 288.5,217.6 288.6,217.6 288.7,217.6 288.8,217.6 288.9,217.6 289.0,217.6 289.1,217.6 289.2,217.6 289.3,217.6 289.4,217.6 289.5,217.6 289.6,217.6 289.7,217.6 289.8,217.6 289.9,217.6 290.0,217.6 290.2,217.6 290.3,217.6 290.4,217.6 290.5,217.6 290.6,217.6 290.7,217.6 290.8,217.6 290.9,217.6 291.0,217.6 291.1,217.6 291.2,217.6 291.3,217.6 291.4,217.6 291.5,217.6 291.6,217.6 291.7,217.6 291.8,217.6 291.9,217.6 292.0,217.6 292.2,217.6 292.3,217.6 292.4,217.6 292.5,217.6 292.6,217.6 292.7,217.6 292.8,217.6 292.9,217.6 293.0,217.6 293.1,217.6 293.2,217.6 293.3,217.6 293.4,217.6 293.5,217.6 293.6,217.6 293.7,217.6 293.8,217.6 293.9,217.6 294.0,217.6 294.2,217.6 294.3,217.6 294.4,217.6 294.5,217.6 294.6,217.6 294.7,217.6 294.8,217.6 294.9,217.6 295.0,217.6 295.1,217.6 295.2,217.6 295.3,217.6 295.4,217.6 295.5,217.6 295.6,217.6 295.7,217.6 295.8,217.6 295.9,217.6 296.0,217.6 296.2,217.6 296.3,217.6 296.4,217.6 296.5,217.6 296.6,217.6 296.7,217.6 296.8,217.6 296.9,217.6 297.0,217.6 297.1,217.6 297.2,217.6 297.3,217.6 297.4,217.6 297.5,217.6 297.6,217.6 297.7,217.6 297.8,217.6 297.9,217.6 298.0,217.6 298.1,217.6 298.3,217.6 298.4,217.6 298.5,217.6 298.6,217.6 298.7,217.6 298.8,217.6 298.9,217.6 299.0,217.6 299.1,217.6 299.2,217.6 299.3,217.6 299.4,217.6 299.5,217.6 299.6,217.6 299.7,217.6 299.8,217.6 299.9,217.6 300.0,217.6 300.1,217.6 300.3,217.6 300.4,217.6 300.5,217.6 300.6,217.6 300.7,217.6 300.8,217.6 300.9,217.6 301.0,217.6 301.1,217.6 301.2,217.6 301.3,217.6 301.4,217.6 301.5,217.6 301.6,217.6 301.7,217.6 301.8,217.6 301.9,217.6 302.0,217.6 302.1,217.6 302.3,217.6 302.4,217.6 302.5,217.6 302.6,217.6 302.7,217.6 302.8,217.6 302.9,217.6 303.0,217.6 303.1,217.6 303.2,217.6 303.3,217.6 303.4,217.6 303.5,217.6 303.6,217.6 303.7,217.6 303.8,217.6 303.9,217.6 304.0,217.6 304.1,217.6 304.3,217.6 304.4,217.6 304.5,217.6 304.6,217.6 304.7,217.6 304.8,217.6 304.9,217.6 305.0,217.6 305.1,217.6 305.2,217.6 305.3,217.6 305.4,217.6 305.5,217.6 305.6,217.6 305.7,217.6 305.8,217.6 305.9,217.6 306.0,217.6 306.1,217.6 306.3,217.6 306.4,217.6 306.5,217.6 306.6,217.6 306.7,217.6 306.8,217.6 306.9,217.6 307.0,217.6 307.1,217.6 307.2,217.6 307.3,217.6 307.4,217.6 307.5,217.6 307.6,217.6 307.7,217.6 307.8,217.6 307.9,217.6 308.0,217.6 308.1,217.6 308.2,217.6 308.4,217.6 308.5,217.6 308.6,217.6 308.7,217.6 308.8,217.6 308.9,217.6 309.0,217.6 309.1,217.6 309.2,217.6 309.3,217.6 309.4,217.6 309.5,217.6 309.6,217.6 309.7,217.6 309.8,217.6 309.9,217.6 310.0,217.6 310.1,217.6 310.2,217.6 310.4,217.6 310.5,217.6 310.6,217.6 310.7,217.1 310.8,217.1 310.9,217.1 311.0,217.1 311.1,217.1 311.2,217.1 311.3,217.1 311.4,217.1 311.5,217.1 311.6,217.1 311.7,217.1 311.8,217.1 311.9,217.1 312.0,217.1 312.1,217.1 312.2,217.1 312.4,217.1 312.5,217.1 312.6,217.1 312.7,217.1 312.8,217.1 312.9,217.1 313.0,217.1 313.1,217.1 313.2,216.6 313.3,216.6 313.4,216.6 313.5,216.6 313.6,216.6 313.7,216.6 313.8,216.6 313.9,216.6 314.0,216.6 314.1,216.6 314.2,216.6 314.4,216.6 314.5,216.6 314.6,216.6 314.7,216.6 314.8,216.6 314.9,217.1 315.0,217.1 315.1,217.1 315.2,217.1 315.3,217.1 315.4,217.1 315.5,217.1 315.6,217.1 315.7,217.1 315.8,217.1 315.9,217.1 316.0,217.1 316.1,217.1 316.2,217.1 316.4,217.1 316.5,217.1 316.6,217.1 316.7,217.1 316.8,217.1 316.9,217.1 317.0,217.1 317.1,217.1 317.2,217.1 317.3,217.1 317.4,216.6 317.5,216.6 317.6,216.6 317.7,216.6 317.8,216.6 317.9,216.6 318.0,216.6 318.1,216.6 318.2,216.6 318.4,216.6 318.5,216.6 318.6,216.6 318.7,216.6 318.8,216.6 318.9,216.6 319.0,216.6 319.1,217.1 319.2,217.1 319.3,217.1 319.4,217.1 319.5,217.1 319.6,217.1 319.7,217.1 319.8,217.1 319.9,217.1 320.0,217.1 320.1,217.1 320.2,217.1 320.3,217.1 320.5,217.1 320.6,217.1 320.7,217.1 320.8,217.1 320.9,217.1 321.0,217.1 321.1,217.1 321.2,217.1 321.3,217.1 321.4,217.1 321.5,217.1 321.6,217.1 321.7,217.1 321.8,217.1 321.9,217.1 322.0,217.1 322.1,217.1 322.2,217.1 322.3,217.1 322.5,217.1 322.6,217.1 322.7,217.1 322.8,217.1 322.9,217.1 323.0,217.1 323.1,217.1 323.2,217.1 323.3,217.1 323.4,217.1 323.5,217.1 323.6,217.1 323.7,217.1 323.8,217.1 323.9,217.1 324.0,217.1 324.1,217.1 324.2,217.1 324.3,217.1 324.5,217.1 324.6,217.1 324.7,217.1 324.8,217.1 324.9,217.1 325.0,217.1 325.1,217.1 325.2,217.1 325.3,217.1 325.4,217.1 325.5,217.1 325.6,217.1 325.7,217.1 325.8,217.1 325.9,217.1 326.0,217.1 326.1,217.1 326.2,217.1 326.3,217.1 326.5,217.1 326.6,217.1 326.7,217.1 326.8,217.1 326.9,217.1 327.0,217.1 327.1,217.1 327.2,217.1 327.3,217.1 327.4,217.1 327.5,217.1 327.6,217.1 327.7,217.1 327.8,217.1 327.9,217.1 328.0,217.1 328.1,217.1 328.2,217.1 328.3,217.1 328.5,217.1 328.6,217.1 328.7,217.1 328.8,217.1 328.9,217.1 329.0,217.1 329.1,217.1 329.2,217.1 329.3,217.1 329.4,217.1 329.5,217.1 329.6,217.1 329.7,217.1 329.8,217.1 329.9,217.1 330.0,217.1 330.1,217.1 330.2,217.1 330.3,217.1 330.5,217.1 330.6,217.1 330.7,217.1 330.8,217.1 330.9,217.1 331.0,217.1 331.1,217.1 331.2,217.1 331.3,217.1 331.4,217.1 331.5,217.1 331.6,217.1 331.7,217.1 331.8,217.1 331.9,217.1 332.0,217.1 332.1,217.1 332.2,217.1 332.3,217.1 332.4,217.1 332.6,217.1 332.7,217.1 332.8,217.1 332.9,217.1 333.0,217.1 333.1,217.1 333.2,217.1 333.3,217.1 333.4,217.1 333.5,217.1 333.6,217.1 333.7,217.1 333.8,217.1 333.9,217.1 334.0,217.1 334.1,217.1 334.2,217.1 334.3,217.1 334.4,217.1 334.6,217.1 334.7,217.1 334.8,217.1 334.9,217.1 335.0,217.1 335.1,217.1 335.2,217.1 335.3,217.1 335.4,217.1 335.5,217.1 335.6,217.1 335.7,217.1 335.8,217.1 335.9,217.1 336.0,217.1 336.1,217.1 336.2,217.1 336.3,217.1 336.4,217.1 336.6,217.1 336.7,217.1 336.8,217.1 336.9,217.1 337.0,217.1 337.1,217.1 337.2,217.1 337.3,217.1 337.4,217.1 337.5,217.1" fill="none" stroke="#0000ff" stroke-width="1.65" stroke-linejoin="round"/>
<text x="195.25" y="254.0" text-anchor="middle" font-size="12.4" fill="#000">Elution volume (mL)</text>
<text transform="translate(9.2,117.0) rotate(-90)" text-anchor="middle" font-size="12.6" fill="#0000ff">ELSD Response (V)</text>
<text x="54.5" y="23.2" font-size="19" font-weight="bold" fill="#000">a</text>
<line x1="276.7" y1="19.9" x2="301.0" y2="19.9" stroke="#0000ff" stroke-width="1.5"/>
<text x="303.5" y="23.1" font-size="10.65" style="font-kerning:none" fill="#000" stroke="#000" stroke-width="0.15">3V A</text>
<text transform="translate(146.3,138.0) rotate(-90)" text-anchor="middle" font-family='"Liberation Serif", "Times New Roman", serif' font-size="10" fill="#000">Start of gradient</text>
<line x1="142.30" y1="176.40" x2="157.67" y2="209.36" stroke="#000" stroke-width="1.3" stroke-dasharray="1.6 1.6"/>
<polygon points="160.20,214.80 155.49,210.38 159.84,208.35" fill="#000"/>
<line x1="409.1" y1="4.4" x2="704.1" y2="4.4" stroke="#000" stroke-width="1.3"/>
<line x1="703.6" y1="4.4" x2="703.6" y2="220.2" stroke="#555" stroke-width="1"/>
<line x1="409.1" y1="220.2" x2="704.1" y2="220.2" stroke="#000" stroke-width="1.6"/>
<line x1="409.6" y1="4.4" x2="409.6" y2="220.2" stroke="#0000ff" stroke-width="1.2"/>
<line x1="409.60" y1="220.2" x2="409.60" y2="224.39999999999998" stroke="#222" stroke-width="1"/>
<text x="409.60" y="236.3" text-anchor="middle" font-size="10.4" fill="#000" stroke="#000" stroke-width="0.2">0</text>
<line x1="451.60" y1="220.2" x2="451.60" y2="224.39999999999998" stroke="#222" stroke-width="1"/>
<text x="451.60" y="236.3" text-anchor="middle" font-size="10.4" fill="#000" stroke="#000" stroke-width="0.2">1</text>
<line x1="493.60" y1="220.2" x2="493.60" y2="224.39999999999998" stroke="#222" stroke-width="1"/>
<text x="493.60" y="236.3" text-anchor="middle" font-size="10.4" fill="#000" stroke="#000" stroke-width="0.2">2</text>
<line x1="535.60" y1="220.2" x2="535.60" y2="224.39999999999998" stroke="#222" stroke-width="1"/>
<text x="535.60" y="236.3" text-anchor="middle" font-size="10.4" fill="#000" stroke="#000" stroke-width="0.2">3</text>
<line x1="577.60" y1="220.2" x2="577.60" y2="224.39999999999998" stroke="#222" stroke-width="1"/>
<text x="577.60" y="236.3" text-anchor="middle" font-size="10.4" fill="#000" stroke="#000" stroke-width="0.2">4</text>
<line x1="619.60" y1="220.2" x2="619.60" y2="224.39999999999998" stroke="#222" stroke-width="1"/>
<text x="619.60" y="236.3" text-anchor="middle" font-size="10.4" fill="#000" stroke="#000" stroke-width="0.2">5</text>
<line x1="661.60" y1="220.2" x2="661.60" y2="224.39999999999998" stroke="#222" stroke-width="1"/>
<text x="661.60" y="236.3" text-anchor="middle" font-size="10.4" fill="#000" stroke="#000" stroke-width="0.2">6</text>
<line x1="703.60" y1="220.2" x2="703.60" y2="224.39999999999998" stroke="#222" stroke-width="1"/>
<text x="703.60" y="236.3" text-anchor="middle" font-size="10.4" fill="#000" stroke="#000" stroke-width="0.2">7</text>
<line x1="405.1" y1="218.50" x2="409.6" y2="218.50" stroke="#0000ff" stroke-width="1"/>
<text x="402.1" y="221.90" text-anchor="end" font-size="10.4" fill="#0000ff" stroke="#0000ff" stroke-width="0.2">0.00</text>
<line x1="405.1" y1="175.70" x2="409.6" y2="175.70" stroke="#0000ff" stroke-width="1"/>
<text x="402.1" y="179.10" text-anchor="end" font-size="10.4" fill="#0000ff" stroke="#0000ff" stroke-width="0.2">0.05</text>
<line x1="405.1" y1="132.90" x2="409.6" y2="132.90" stroke="#0000ff" stroke-width="1"/>
<text x="402.1" y="136.30" text-anchor="end" font-size="10.4" fill="#0000ff" stroke="#0000ff" stroke-width="0.2">0.10</text>
<line x1="405.1" y1="90.10" x2="409.6" y2="90.10" stroke="#0000ff" stroke-width="1"/>
<text x="402.1" y="93.50" text-anchor="end" font-size="10.4" fill="#0000ff" stroke="#0000ff" stroke-width="0.2">0.15</text>
<line x1="405.1" y1="47.30" x2="409.6" y2="47.30" stroke="#0000ff" stroke-width="1"/>
<text x="402.1" y="50.70" text-anchor="end" font-size="10.4" fill="#0000ff" stroke="#0000ff" stroke-width="0.2">0.20</text>
<line x1="405.1" y1="4.50" x2="409.6" y2="4.50" stroke="#0000ff" stroke-width="1"/>
<text x="402.1" y="7.90" text-anchor="end" font-size="10.4" fill="#0000ff" stroke="#0000ff" stroke-width="0.2">0.25</text>
<polyline points="409.6,218.4 409.7,218.4 409.8,218.4 409.9,218.4 410.0,218.4 410.1,218.4 410.2,218.4 410.3,218.4 410.4,218.4 410.5,218.4 410.7,218.4 410.8,218.4 410.9,218.4 411.0,218.4 411.1,218.4 411.2,218.4 411.3,218.4 411.4,218.4 411.5,218.4 411.6,218.4 411.7,218.4 411.8,218.4 411.9,218.4 412.0,218.4 412.1,218.4 412.2,218.4 412.3,218.4 412.4,218.4 412.5,218.4 412.6,218.4 412.8,218.4 412.9,218.4 413.0,218.4 413.1,218.4 413.2,218.4 413.3,218.4 413.4,218.4 413.5,218.4 413.6,218.4 413.7,218.4 413.8,218.4 413.9,218.4 414.0,218.4 414.1,218.4 414.2,218.4 414.3,218.4 414.4,218.4 414.5,218.4 414.6,218.4 414.7,218.4 414.9,218.4 415.0,218.4 415.1,218.4 415.2,218.4 415.3,218.4 415.4,218.4 415.5,218.4 415.6,218.4 415.7,218.4 415.8,218.4 415.9,218.4 416.0,218.4 416.1,218.4 416.2,218.4 416.3,218.4 416.4,218.4 416.5,218.4 416.6,218.4 416.7,218.4 416.8,218.4 417.0,218.4 417.1,218.4 417.2,218.4 417.3,218.4 417.4,218.4 417.5,218.4 417.6,218.4 417.7,218.4 417.8,218.4 417.9,218.4 418.0,218.4 418.1,218.4 418.2,218.4 418.3,218.4 418.4,218.4 418.5,218.4 418.6,218.4 418.7,218.4 418.8,218.4 418.9,218.4 419.1,218.4 419.2,218.4 419.3,218.4 419.4,218.4 419.5,218.4 419.6,218.4 419.7,218.4 419.8,218.4 419.9,218.4 420.0,218.4 420.1,218.4 420.2,218.4 420.3,218.4 420.4,218.4 420.5,218.4 420.6,218.4 420.7,218.4 420.8,218.4 420.9,218.4 421.0,218.4 421.2,218.4 421.3,218.4 421.4,218.4 421.5,218.4 421.6,218.4 421.7,218.4 421.8,218.4 421.9,218.4 422.0,218.4 422.1,218.4 422.2,218.4 422.3,218.4 422.4,218.4 422.5,218.4 422.6,218.4 422.7,218.4 422.8,218.4 422.9,218.4 423.0,218.4 423.1,218.4 423.3,218.4 423.4,218.4 423.5,218.4 423.6,218.4 423.7,218.4 423.8,218.4 423.9,218.4 424.0,218.4 424.1,218.4 424.2,218.4 424.3,218.4 424.4,218.4 424.5,218.4 424.6,218.4 424.7,218.4 424.8,218.4 424.9,218.4 425.0,218.4 425.1,218.4 425.3,218.4 425.4,218.4 425.5,218.4 425.6,218.4 425.7,218.4 425.8,218.4 425.9,218.4 426.0,218.4 426.1,218.4 426.2,218.4 426.3,218.4 426.4,218.4 426.5,218.4 426.6,218.4 426.7,218.4 426.8,218.4 426.9,218.4 427.0,218.4 427.1,218.4 427.2,218.4 427.4,218.4 427.5,218.4 427.6,218.4 427.7,218.4 427.8,218.4 427.9,218.3 428.0,218.3 428.1,218.3 428.2,218.3 428.3,218.3 428.4,218.3 428.5,218.3 428.6,218.3 428.7,218.3 428.8,218.3 428.9,218.2 429.0,218.2 429.1,218.2 429.2,218.2 429.3,218.2 429.5,218.2 429.6,218.1 429.7,218.1 429.8,218.1 429.9,218.1 430.0,218.1 430.1,218.0 430.2,218.0 430.3,218.0 430.4,218.0 430.5,217.9 430.6,217.9 430.7,217.9 430.8,217.9 430.9,217.9 431.0,217.9 431.1,217.8 431.2,217.8 431.3,217.8 431.4,217.8 431.6,217.8 431.7,217.8 431.8,217.8 431.9,217.8 432.0,217.8 432.1,217.8 432.2,217.8 432.3,217.8 432.4,217.8 432.5,217.8 432.6,217.8 432.7,217.9 432.8,217.9 432.9,217.9 433.0,217.9 433.1,217.9 433.2,217.9 433.3,218.0 433.4,218.0 433.5,218.0 433.7,218.0 433.8,218.1 433.9,218.1 434.0,218.1 434.1,218.1 434.2,218.1 434.3,218.2 434.4,218.2 434.5,218.2 434.6,218.2 434.7,218.2 434.8,218.2 434.9,218.3 435.0,218.3 435.1,218.3 435.2,218.3 435.3,218.3 435.4,218.3 435.5,218.3 435.6,218.3 435.8,218.3 435.9,218.3 436.0,218.4 436.1,218.4 436.2,218.4 436.3,218.4 436.4,218.4 436.5,218.4 436.6,218.4 436.7,218.4 436.8,218.4 436.9,218.4 437.0,218.4 437.1,218.4 437.2,218.4 437.3,218.4 437.4,218.4 437.5,218.4 437.6,218.4 437.8,218.4 437.9,218.4 438.0,218.4 438.1,218.4 438.2,218.4 438.3,218.4 438.4,218.4 438.5,218.4 438.6,218.4 438.7,218.4 438.8,218.4 438.9,218.4 439.0,218.4 439.1,218.4 439.2,218.4 439.3,218.4 439.4,218.4 439.5,218.4 439.6,218.4 439.7,218.4 439.9,218.4 440.0,218.4 440.1,218.4 440.2,218.4 440.3,218.4 440.4,218.4 440.5,218.4 440.6,218.4 440.7,218.4 440.8,218.4 440.9,218.4 441.0,218.4 441.1,218.4 441.2,218.4 441.3,218.4 441.4,218.4 441.5,218.4 441.6,218.4 441.7,218.4 441.8,218.4 442.0,218.4 442.1,218.4 442.2,218.4 442.3,218.4 442.4,218.4 442.5,218.4 442.6,218.4 442.7,218.4 442.8,218.4 442.9,218.4 443.0,218.4 443.1,218.4 443.2,218.4 443.3,218.4 443.4,218.4 443.5,218.4 443.6,218.4 443.7,218.4 443.8,218.4 443.9,218.4 444.1,218.4 444.2,218.4 444.3,218.4 444.4,218.4 444.5,218.4 444.6,218.4 444.7,218.4 444.8,218.4 444.9,218.4 445.0,218.4 445.1,218.4 445.2,218.4 445.3,218.4 445.4,218.4 445.5,218.4 445.6,218.4 445.7,218.4 445.8,218.4 445.9,218.4 446.0,218.4 446.2,218.4 446.3,218.4 446.4,218.4 446.5,218.4 446.6,218.4 446.7,218.4 446.8,218.4 446.9,218.4 447.0,218.4 447.1,218.4 447.2,218.4 447.3,218.4 447.4,218.4 447.5,218.4 447.6,218.4 447.7,218.4 447.8,218.4 447.9,218.4 448.0,218.4 448.1,218.4 448.3,218.4 448.4,218.4 448.5,218.4 448.6,218.4 448.7,218.4 448.8,218.4 448.9,218.4 449.0,218.4 449.1,218.4 449.2,218.4 449.3,218.4 449.4,218.4 449.5,218.4 449.6,218.4 449.7,218.4 449.8,218.4 449.9,218.4 450.0,218.4 450.1,218.4 450.2,218.4 450.4,218.4 450.5,218.4 450.6,218.4 450.7,218.4 450.8,218.4 450.9,218.4 451.0,218.3 451.1,218.3 451.2,218.3 451.3,218.3 451.4,218.3 451.5,218.3 451.6,218.3 451.7,218.3 451.8,218.3 451.9,218.3 452.0,218.3 452.1,218.3 452.2,218.3 452.4,218.3 452.5,218.3 452.6,218.3 452.7,218.3 452.8,218.3 452.9,218.3 453.0,218.3 453.1,218.3 453.2,218.3 453.3,218.3 453.4,218.3 453.5,218.3 453.6,218.3 453.7,218.3 453.8,218.3 453.9,218.3 454.0,218.3 454.1,218.3 454.2,218.3 454.3,218.3 454.5,218.3 454.6,218.3 454.7,218.3 454.8,218.3 454.9,218.3 455.0,218.3 455.1,218.3 455.2,218.3 455.3,218.3 455.4,218.2 455.5,218.2 455.6,218.2 455.7,218.2 455.8,218.2 455.9,218.2 456.0,218.2 456.1,218.2 456.2,218.2 456.3,218.2 456.4,218.2 456.6,218.2 456.7,218.1 456.8,218.1 456.9,218.1 457.0,218.1 457.1,218.0 457.2,218.0 457.3,217.9 457.4,217.8 457.5,217.7 457.6,217.5 457.7,217.3 457.8,217.1 457.9,216.7 458.0,216.3 458.1,215.7 458.2,215.0 458.3,214.1 458.4,213.0 458.5,211.7 458.7,210.0 458.8,208.1 458.9,205.7 459.0,203.0 459.1,199.9 459.2,196.2 459.3,192.2 459.4,187.6 459.5,182.6 459.6,177.1 459.7,171.2 459.8,165.0 459.9,158.6 460.0,152.0 460.1,145.4 460.2,138.9 460.3,132.7 460.4,126.8 460.5,121.5 460.6,116.9 460.8,113.1 460.9,110.2 461.0,108.4 461.1,107.6 461.2,107.7 461.3,108.4 461.4,109.5 461.5,111.2 461.6,113.3 461.7,115.8 461.8,118.7 461.9,122.0 462.0,125.5 462.1,129.3 462.2,133.4 462.3,137.5 462.4,141.9 462.5,146.2 462.6,150.4 462.7,154.6 462.9,158.9 463.0,163.0 463.1,167.1 463.2,171.0 463.3,174.9 463.4,178.5 463.5,182.0 463.6,185.3 463.7,188.3 463.8,191.2 463.9,193.9 464.0,196.4 464.1,198.6 464.2,200.7 464.3,202.6 464.4,204.3 464.5,205.8 464.6,207.2 464.7,208.4 464.8,209.5 465.0,210.5 465.1,211.3 465.2,212.1 465.3,212.7 465.4,213.3 465.5,213.8 465.6,214.2 465.7,214.6 465.8,214.9 465.9,215.2 466.0,215.4 466.1,215.6 466.2,215.8 466.3,216.0 466.4,216.1 466.5,216.2 466.6,216.3 466.7,216.4 466.8,216.5 467.0,216.6 467.1,216.7 467.2,216.7 467.3,216.8 467.4,216.8 467.5,216.9 467.6,216.9 467.7,217.0 467.8,217.0 467.9,217.0 468.0,217.1 468.1,217.1 468.2,217.1 468.3,217.2 468.4,217.2 468.5,217.2 468.6,217.3 468.7,217.3 468.8,217.3 468.9,217.3 469.1,217.4 469.2,217.4 469.3,217.4 469.4,217.4 469.5,217.4 469.6,217.5 469.7,217.5 469.8,217.5 469.9,217.5 470.0,217.5 470.1,217.6 470.2,217.6 470.3,217.6 470.4,217.6 470.5,217.6 470.6,217.7 470.7,217.7 470.8,217.7 470.9,217.7 471.0,217.7 471.2,217.7 471.3,217.7 471.4,217.8 471.5,217.8 471.6,217.8 471.7,217.8 471.8,217.8 471.9,217.8 472.0,217.8 472.1,217.8 472.2,217.8 472.3,217.9 472.4,217.9 472.5,217.9 472.6,217.9 472.7,217.9 472.8,217.9 472.9,217.9 473.0,217.9 473.1,217.9 473.3,217.9 473.4,217.9 473.5,218.0 473.6,218.0 473.7,218.0 473.8,218.0 473.9,218.0 474.0,218.0 474.1,218.0 474.2,218.0 474.3,218.0 474.4,218.0 474.5,218.0 474.6,218.0 474.7,218.0 474.8,218.0 474.9,218.1 475.0,218.1 475.1,218.1 475.2,218.1 475.4,218.1 475.5,218.1 475.6,218.1 475.7,218.1 475.8,218.1 475.9,218.1 476.0,218.1 476.1,218.1 476.2,218.1 476.3,218.1 476.4,218.1 476.5,218.1 476.6,218.1 476.7,218.1 476.8,218.1 476.9,218.1 477.0,218.2 477.1,218.2 477.2,218.2 477.3,218.2 477.5,218.2 477.6,218.2 477.7,218.2 477.8,218.2 477.9,218.2 478.0,218.2 478.1,218.2 478.2,218.2 478.3,218.2 478.4,218.2 478.5,218.2 478.6,218.2 478.7,218.2 478.8,218.2 478.9,218.2 479.0,218.2 479.1,218.2 479.2,218.2 479.3,218.2 479.4,218.2 479.6,218.2 479.7,218.2 479.8,218.2 479.9,218.2 480.0,218.2 480.1,218.2 480.2,218.2 480.3,218.2 480.4,218.2 480.5,218.2 480.6,218.2 480.7,218.2 480.8,218.3 480.9,218.3 481.0,218.3 481.1,218.3 481.2,218.3 481.3,218.3 481.4,218.3 481.6,218.3 481.7,218.3 481.8,218.3 481.9,218.3 482.0,218.3 482.1,218.3 482.2,218.3 482.3,218.3 482.4,218.3 482.5,218.3 482.6,218.3 482.7,218.3 482.8,218.3 482.9,218.3 483.0,218.3 483.1,218.3 483.2,218.3 483.3,218.3 483.4,218.3 483.5,218.3 483.7,218.3 483.8,218.3 483.9,218.3 484.0,218.3 484.1,218.3 484.2,218.3 484.3,218.3 484.4,218.3 484.5,218.3 484.6,218.3 484.7,218.3 484.8,218.3 484.9,218.3 485.0,218.3 485.1,218.3 485.2,218.3 485.3,218.3 485.4,218.3 485.5,218.3 485.6,218.3 485.8,218.3 485.9,218.3 486.0,218.3 486.1,218.3 486.2,218.3 486.3,218.3 486.4,218.3 486.5,218.3 486.6,218.3 486.7,218.3 486.8,218.3 486.9,218.3 487.0,218.3 487.1,218.3 487.2,218.3 487.3,218.3 487.4,218.3 487.5,218.3 487.6,218.3 487.7,218.3 487.9,218.3 488.0,218.3 488.1,218.3 488.2,218.3 488.3,218.3 488.4,218.3 488.5,218.3 488.6,218.3 488.7,218.3 488.8,218.3 488.9,218.3 489.0,218.3 489.1,218.3 489.2,218.3 489.3,218.3 489.4,218.3 489.5,218.3 489.6,218.3 489.7,218.3 489.8,218.3 490.0,218.3 490.1,218.3 490.2,218.3 490.3,218.3 490.4,218.3 490.5,218.3 490.6,218.3 490.7,218.3 490.8,218.3 490.9,218.3 491.0,218.3 491.1,218.3 491.2,218.3 491.3,218.3 491.4,218.3 491.5,218.3 491.6,218.3 491.7,218.3 491.8,218.3 491.9,218.3 492.1,218.3 492.2,218.3 492.3,218.3 492.4,218.3 492.5,218.3 492.6,218.3 492.7,218.3 492.8,218.3 492.9,218.3 493.0,218.3 493.1,218.3 493.2,218.3 493.3,218.3 493.4,218.3 493.5,218.3 493.6,218.3 493.7,218.3 493.8,218.3 493.9,218.3 494.1,218.3 494.2,218.4 494.3,218.4 494.4,218.4 494.5,218.4 494.6,218.4 494.7,218.4 494.8,218.4 494.9,218.4 495.0,218.4 495.1,218.4 495.2,218.4 495.3,218.4 495.4,218.4 495.5,218.4 495.6,218.4 495.7,218.4 495.8,218.4 495.9,218.4 496.0,218.4 496.2,218.4 496.3,218.4 496.4,218.4 496.5,218.4 496.6,218.4 496.7,218.4 496.8,218.4 496.9,218.4 497.0,218.4 497.1,218.4 497.2,218.4 497.3,218.4 497.4,218.4 497.5,218.4 497.6,218.4 497.7,218.4 497.8,218.4 497.9,218.4 498.0,218.4 498.1,218.4 498.3,218.4 498.4,218.4 498.5,218.4 498.6,218.4 498.7,218.4 498.8,218.4 498.9,218.4 499.0,218.4 499.1,218.4 499.2,218.4 499.3,218.4 499.4,218.4 499.5,218.4 499.6,218.4 499.7,218.4 499.8,218.4 499.9,218.4 500.0,218.4 500.1,218.4 500.2,218.4 500.4,218.4 500.5,218.4 500.6,218.4 500.7,218.4 500.8,218.4 500.9,218.4 501.0,218.4 501.1,218.4 501.2,218.4 501.3,218.4 501.4,218.4 501.5,218.4 501.6,218.4 501.7,218.4 501.8,218.4 501.9,218.4 502.0,218.4 502.1,218.4 502.2,218.4 502.3,218.4 502.5,218.4 502.6,218.4 502.7,218.4 502.8,218.4 502.9,218.4 503.0,218.4 503.1,218.4 503.2,218.4 503.3,218.4 503.4,218.4 503.5,218.4 503.6,218.4 503.7,218.4 503.8,218.4 503.9,218.4 504.0,218.4 504.1,218.4 504.2,218.4 504.3,218.4 504.4,218.4 504.6,218.4 504.7,218.4 504.8,218.4 504.9,218.4 505.0,218.4 505.1,218.4 505.2,218.4 505.3,218.4 505.4,218.4 505.5,218.4 505.6,218.4 505.7,218.4 505.8,218.4 505.9,218.4 506.0,218.4 506.1,218.4 506.2,218.4 506.3,218.4 506.4,218.4 506.5,218.4 506.7,218.4 506.8,218.4 506.9,218.4 507.0,218.4 507.1,218.4 507.2,218.4 507.3,218.4 507.4,218.4 507.5,218.4 507.6,218.4 507.7,218.4 507.8,218.4 507.9,218.4 508.0,218.4 508.1,218.4 508.2,218.4 508.3,218.4 508.4,218.4 508.5,218.4 508.7,218.4 508.8,218.4 508.9,218.4 509.0,218.4 509.1,218.4 509.2,218.4 509.3,218.4 509.4,218.4 509.5,218.4 509.6,218.4 509.7,218.4 509.8,218.4 509.9,218.4 510.0,218.4 510.1,218.4 510.2,218.4 510.3,218.4 510.4,218.4 510.5,218.4 510.6,218.4 510.8,218.4 510.9,218.4 511.0,218.4 511.1,218.4 511.2,218.4 511.3,218.4 511.4,218.4 511.5,218.4 511.6,218.4 511.7,218.4 511.8,218.4 511.9,218.4 512.0,218.4 512.1,218.4 512.2,218.4 512.3,218.4 512.4,218.4 512.5,218.4 512.6,218.4 512.7,218.4 512.9,218.4 513.0,218.4 513.1,218.4 513.2,218.4 513.3,218.4 513.4,218.4 513.5,218.4 513.6,218.4 513.7,218.4 513.8,218.4 513.9,218.4 514.0,218.4 514.1,218.4 514.2,218.4 514.3,218.4 514.4,218.4 514.5,218.4 514.6,218.4 514.7,218.4 514.8,218.4 515.0,218.4 515.1,218.4 515.2,218.4 515.3,218.4 515.4,218.4 515.5,218.4 515.6,218.4 515.7,218.4 515.8,218.4 515.9,218.4 516.0,218.4 516.1,218.4 516.2,218.4 516.3,218.4 516.4,218.4 516.5,218.4 516.6,218.4 516.7,218.4 516.8,218.4 516.9,218.4 517.1,218.4 517.2,218.4 517.3,218.4 517.4,218.4 517.5,218.4 517.6,218.4 517.7,218.4 517.8,218.4 517.9,218.4 518.0,218.4 518.1,218.4 518.2,218.4 518.3,218.4 518.4,218.4 518.5,218.4 518.6,218.4 518.7,218.4 518.8,218.4 518.9,218.4 519.0,218.4 519.2,218.4 519.3,218.4 519.4,218.4 519.5,218.4 519.6,218.4 519.7,218.4 519.8,218.4 519.9,218.4 520.0,218.4 520.1,218.4 520.2,218.4 520.3,218.4 520.4,218.4 520.5,218.4 520.6,218.4 520.7,218.4 520.8,218.4 520.9,218.4 521.0,218.4 521.1,218.4 521.3,218.4 521.4,218.4 521.5,218.4 521.6,218.4 521.7,218.4 521.8,218.4 521.9,218.4 522.0,218.4 522.1,218.4 522.2,218.4 522.3,218.4 522.4,218.4 522.5,218.4 522.6,218.4 522.7,218.4 522.8,218.4 522.9,218.4 523.0,218.4 523.1,218.4 523.3,218.4 523.4,218.4 523.5,218.4 523.6,218.4 523.7,218.4 523.8,218.4 523.9,218.4 524.0,218.4 524.1,218.4 524.2,218.4 524.3,218.4 524.4,218.4 524.5,218.4 524.6,218.4 524.7,218.4 524.8,218.4 524.9,218.4 525.0,218.4 525.1,218.4 525.2,218.4 525.4,218.4 525.5,218.4 525.6,218.4 525.7,218.4 525.8,218.4 525.9,218.4 526.0,218.4 526.1,218.4 526.2,218.4 526.3,218.4 526.4,218.4 526.5,218.4 526.6,218.4 526.7,218.4 526.8,218.4 526.9,218.4 527.0,218.4 527.1,218.4 527.2,218.4 527.3,218.4 527.5,218.4 527.6,218.4 527.7,218.4 527.8,218.4 527.9,218.4 528.0,218.4 528.1,218.4 528.2,218.4 528.3,218.4 528.4,218.4 528.5,218.4 528.6,218.4 528.7,218.4 528.8,218.4 528.9,218.4 529.0,218.4 529.1,218.4 529.2,218.4 529.3,218.4 529.4,218.4 529.6,218.4 529.7,218.4 529.8,218.4 529.9,218.4 530.0,218.4 530.1,218.4 530.2,218.4 530.3,218.4 530.4,218.4 530.5,218.4 530.6,218.4 530.7,218.4 530.8,218.4 530.9,218.4 531.0,218.4 531.1,218.4 531.2,218.4 531.3,218.4 531.4,218.4 531.5,218.4 531.7,218.4 531.8,218.4 531.9,218.4 532.0,218.4 532.1,218.4 532.2,218.4 532.3,218.4 532.4,218.4 532.5,218.4 532.6,218.4 532.7,218.3 532.8,218.3 532.9,218.3 533.0,218.3 533.1,218.3 533.2,218.3 533.3,218.3 533.4,218.3 533.5,218.3 533.6,218.3 533.8,218.3 533.9,218.3 534.0,218.3 534.1,218.3 534.2,218.3 534.3,218.3 534.4,218.3 534.5,218.2 534.6,218.2 534.7,218.2 534.8,218.2 534.9,218.2 535.0,218.1 535.1,218.1 535.2,218.1 535.3,218.0 535.4,218.0 535.5,218.0 535.6,217.9 535.8,217.9 535.9,217.9 536.0,217.8 536.1,217.8 536.2,217.7 536.3,217.7 536.4,217.6 536.5,217.6 536.6,217.5 536.7,217.5 536.8,217.4 536.9,217.3 537.0,217.3 537.1,217.2 537.2,217.2 537.3,217.1 537.4,217.1 537.5,217.0 537.6,217.0 537.7,217.0 537.9,216.9 538.0,216.9 538.1,216.9 538.2,216.8 538.3,216.8 538.4,216.8 538.5,216.8 538.6,216.8 538.7,216.8 538.8,216.8 538.9,216.8 539.0,216.8 539.1,216.9 539.2,216.9 539.3,216.9 539.4,216.9 539.5,217.0 539.6,217.0 539.7,217.0 539.8,217.1 540.0,217.1 540.1,217.1 540.2,217.2 540.3,217.2 540.4,217.3 540.5,217.3 540.6,217.4 540.7,217.4 540.8,217.5 540.9,217.5 541.0,217.5 541.1,217.6 541.2,217.6 541.3,217.7 541.4,217.7 541.5,217.8 541.6,217.8 541.7,217.8 541.8,217.9 541.9,217.9 542.1,217.9 542.2,218.0 542.3,218.0 542.4,218.0 542.5,218.0 542.6,218.1 542.7,218.1 542.8,218.1 542.9,218.1 543.0,218.1 543.1,218.1 543.2,218.2 543.3,218.2 543.4,218.2 543.5,218.2 543.6,218.2 543.7,218.2 543.8,218.2 543.9,218.2 544.0,218.2 544.2,218.2 544.3,218.2 544.4,218.1 544.5,218.1 544.6,218.1 544.7,218.1 544.8,218.1 544.9,218.1 545.0,218.1 545.1,218.0 545.2,218.0 545.3,218.0 545.4,218.0 545.5,217.9 545.6,217.9 545.7,217.9 545.8,217.8 545.9,217.8 546.0,217.8 546.1,217.7 546.3,217.7 546.4,217.6 546.5,217.6 546.6,217.5 546.7,217.5 546.8,217.4 546.9,217.4 547.0,217.3 547.1,217.2 547.2,217.2 547.3,217.1 547.4,217.0 547.5,217.0 547.6,216.9 547.7,216.8 547.8,216.7 547.9,216.7 548.0,216.6 548.1,216.5 548.2,216.4 548.4,216.3 548.5,216.2 548.6,216.2 548.7,216.1 548.8,216.0 548.9,215.9 549.0,215.8 549.1,215.7 549.2,215.7 549.3,215.6 549.4,215.5 549.5,215.4 549.6,215.3 549.7,215.3 549.8,215.2 549.9,215.1 550.0,215.1 550.1,215.0 550.2,214.9 550.4,214.9 550.5,214.8 550.6,214.8 550.7,214.7 550.8,214.7 550.9,214.7 551.0,214.6 551.1,214.6 551.2,214.6 551.3,214.6 551.4,214.6 551.5,214.6 551.6,214.6 551.7,214.6 551.8,214.6 551.9,214.6 552.0,214.6 552.1,214.6 552.2,214.6 552.3,214.6 552.5,214.7 552.6,214.7 552.7,214.7 552.8,214.8 552.9,214.8 553.0,214.8 553.1,214.9 553.2,214.9 553.3,214.9 553.4,215.0 553.5,215.0 553.6,215.1 553.7,215.1 553.8,215.2 553.9,215.2 554.0,215.3 554.1,215.3 554.2,215.4 554.3,215.4 554.4,215.5 554.6,215.5 554.7,215.6 554.8,215.6 554.9,215.6 555.0,215.6 555.1,215.7 555.2,215.7 555.3,215.7 555.4,215.8 555.5,215.8 555.6,215.8 555.7,215.9 555.8,215.9 555.9,216.0 556.0,216.0 556.1,216.0 556.2,216.1 556.3,216.1 556.4,216.2 556.5,216.2 556.7,216.2 556.8,216.3 556.9,216.3 557.0,216.4 557.1,216.4 557.2,216.4 557.3,216.5 557.4,216.5 557.5,216.5 557.6,216.6 557.7,216.6 557.8,216.6 557.9,216.7 558.0,216.7 558.1,216.7 558.2,216.8 558.3,216.8 558.4,216.8 558.5,216.9 558.6,216.9 558.8,216.9 558.9,217.0 559.0,217.0 559.1,217.0 559.2,217.0 559.3,217.1 559.4,217.1 559.5,217.1 559.6,217.1 559.7,217.1 559.8,217.2 559.9,217.2 560.0,217.2 560.1,217.2 560.2,217.2 560.3,217.3 560.4,217.3 560.5,217.3 560.6,217.3 560.7,217.3 560.9,217.3 561.0,217.3 561.1,217.4 561.2,217.4 561.3,217.4 561.4,217.4 561.5,217.4 561.6,217.4 561.7,217.4 561.8,217.4 561.9,217.4 562.0,217.5 562.1,217.5 562.2,217.5 562.3,217.5 562.4,217.5 562.5,217.5 562.6,217.5 562.7,217.5 562.8,217.5 563.0,217.5 563.1,217.5 563.2,217.5 563.3,217.5 563.4,217.6 563.5,217.6 563.6,217.6 563.7,217.6 563.8,217.6 563.9,217.6 564.0,217.6 564.1,217.6 564.2,217.6 564.3,217.6 564.4,217.6 564.5,217.6 564.6,217.6 564.7,217.6 564.8,217.6 565.0,217.6 565.1,217.6 565.2,217.6 565.3,217.6 565.4,217.6 565.5,217.7 565.6,217.7 565.7,217.7 565.8,217.7 565.9,217.7 566.0,217.7 566.1,217.7 566.2,217.7 566.3,217.7 566.4,217.7 566.5,217.7 566.6,217.7 566.7,217.7 566.8,217.7 566.9,217.7 567.1,217.7 567.2,217.7 567.3,217.7 567.4,217.7 567.5,217.7 567.6,217.7 567.7,217.7 567.8,217.7 567.9,217.7 568.0,217.7 568.1,217.7 568.2,217.7 568.3,217.7 568.4,217.8 568.5,217.8 568.6,217.8 568.7,217.8 568.8,217.8 568.9,217.8 569.0,217.8 569.2,217.8 569.3,217.8 569.4,217.8 569.5,217.8 569.6,217.8 569.7,217.8 569.8,217.8 569.9,217.8 570.0,217.8 570.1,217.8 570.2,217.8 570.3,217.8 570.4,217.8 570.5,217.8 570.6,217.8 570.7,217.8 570.8,217.8 570.9,217.8 571.0,217.8 571.1,217.8 571.3,217.8 571.4,217.8 571.5,217.8 571.6,217.8 571.7,217.8 571.8,217.8 571.9,217.8 572.0,217.8 572.1,217.9 572.2,217.9 572.3,217.9 572.4,217.9 572.5,217.9 572.6,217.9 572.7,217.9 572.8,217.9 572.9,217.9 573.0,217.9 573.1,217.9 573.2,217.9 573.4,217.9 573.5,217.9 573.6,217.9 573.7,217.9 573.8,217.9 573.9,217.9 574.0,217.9 574.1,217.9 574.2,217.9 574.3,217.9 574.4,217.9 574.5,217.9 574.6,217.9 574.7,217.9 574.8,217.9 574.9,217.9 575.0,217.9 575.1,217.9 575.2,217.9 575.3,217.9 575.5,217.9 575.6,217.9 575.7,217.9 575.8,217.9 575.9,217.9 576.0,217.9 576.1,217.9 576.2,217.9 576.3,217.9 576.4,217.9 576.5,217.9 576.6,217.9 576.7,217.9 576.8,217.9 576.9,217.9 577.0,217.9 577.1,217.9 577.2,217.9 577.3,217.9 577.4,217.9 577.6,217.9 577.7,217.9 577.8,218.0 577.9,218.0 578.0,218.0 578.1,218.0 578.2,218.0 578.3,218.0 578.4,218.0 578.5,218.0 578.6,218.0 578.7,218.0 578.8,218.0 578.9,218.0 579.0,218.0 579.1,218.0 579.2,218.0 579.3,218.0 579.4,218.0 579.6,218.0 579.7,218.0 579.8,218.0 579.9,218.0 580.0,218.0 580.1,218.0 580.2,218.0 580.3,218.0 580.4,218.0 580.5,218.0 580.6,218.0 580.7,218.0 580.8,218.0 580.9,218.0 581.0,218.0 581.1,218.0 581.2,218.0 581.3,218.0 581.4,218.0 581.5,218.0 581.7,218.0 581.8,218.0 581.9,218.0 582.0,218.0 582.1,218.0 582.2,218.0 582.3,218.0 582.4,218.0 582.5,218.0 582.6,218.0 582.7,218.0 582.8,218.0 582.9,218.0 583.0,218.0 583.1,218.0 583.2,218.0 583.3,218.0 583.4,218.0 583.5,218.0 583.6,218.0 583.8,218.0 583.9,218.0 584.0,218.0 584.1,218.0 584.2,218.0 584.3,218.0 584.4,218.0 584.5,218.0 584.6,218.0 584.7,218.0 584.8,218.0 584.9,218.0 585.0,218.0 585.1,218.0 585.2,218.0 585.3,218.0 585.4,218.0 585.5,218.0 585.6,218.0 585.7,218.0 585.9,218.0 586.0,218.0 586.1,218.0 586.2,218.0 586.3,218.0 586.4,218.0 586.5,218.0 586.6,218.0 586.7,218.0 586.8,218.0 586.9,218.0 587.0,218.0 587.1,218.0 587.2,218.0 587.3,218.0 587.4,218.0 587.5,218.0 587.6,218.0 587.7,218.0 587.8,218.0 588.0,218.0 588.1,218.0 588.2,218.0 588.3,218.0 588.4,218.0 588.5,218.0 588.6,218.0 588.7,218.0 588.8,218.0 588.9,218.0 589.0,218.0 589.1,218.0 589.2,218.0 589.3,218.0 589.4,218.0 589.5,218.0 589.6,218.0 589.7,218.0 589.8,218.0 589.9,218.0 590.1,218.0 590.2,218.0 590.3,218.0 590.4,218.0 590.5,218.0 590.6,218.0 590.7,218.0 590.8,218.0 590.9,218.0 591.0,218.0 591.1,218.0 591.2,218.0 591.3,218.0 591.4,218.0 591.5,218.0 591.6,218.0 591.7,218.0 591.8,218.0 591.9,218.0 592.1,218.0 592.2,218.0 592.3,218.0 592.4,218.0 592.5,217.9 592.6,217.9 592.7,217.9 592.8,217.9 592.9,217.9 593.0,217.9 593.1,217.9 593.2,217.9 593.3,217.9 593.4,217.9 593.5,217.9 593.6,217.9 593.7,217.9 593.8,217.9 593.9,217.9 594.0,217.9 594.2,217.9 594.3,217.9 594.4,217.9 594.5,217.9 594.6,217.9 594.7,217.9 594.8,217.9 594.9,217.9 595.0,217.9 595.1,217.9 595.2,217.9 595.3,217.9 595.4,217.9 595.5,217.9 595.6,217.9 595.7,217.8 595.8,217.8 595.9,217.8 596.0,217.8 596.1,217.8 596.3,217.8 596.4,217.8 596.5,217.8 596.6,217.8 596.7,217.8 596.8,217.8 596.9,217.8 597.0,217.8 597.1,217.8 597.2,217.8 597.3,217.7 597.4,217.7 597.5,217.7 597.6,217.7 597.7,217.7 597.8,217.7 597.9,217.7 598.0,217.7 598.1,217.7 598.2,217.7 598.4,217.6 598.5,217.6 598.6,217.6 598.7,217.6 598.8,217.6 598.9,217.6 599.0,217.6 599.1,217.6 599.2,217.5 599.3,217.5 599.4,217.5 599.5,217.5 599.6,217.5 599.7,217.5 599.8,217.5 599.9,217.5 600.0,217.4 600.1,217.4 600.2,217.4 600.3,217.4 600.5,217.4 600.6,217.4 600.7,217.4 600.8,217.3 600.9,217.3 601.0,217.3 601.1,217.3 601.2,217.3 601.3,217.3 601.4,217.3 601.5,217.2 601.6,217.2 601.7,217.2 601.8,217.2 601.9,217.2 602.0,217.2 602.1,217.2 602.2,217.2 602.3,217.1 602.4,217.1 602.6,217.1 602.7,217.1 602.8,217.1 602.9,217.1 603.0,217.1 603.1,217.1 603.2,217.0 603.3,217.0 603.4,217.0 603.5,217.0 603.6,217.0 603.7,217.0 603.8,217.0 603.9,217.0 604.0,217.0 604.1,217.0 604.2,216.9 604.3,216.9 604.4,216.9 604.5,216.9 604.7,216.9 604.8,216.9 604.9,216.9 605.0,216.9 605.1,216.8 605.2,216.8 605.3,216.8 605.4,216.8 605.5,216.8 605.6,216.8 605.7,216.7 605.8,216.7 605.9,216.7 606.0,216.7 606.1,216.6 606.2,216.6 606.3,216.6 606.4,216.5 606.5,216.5 606.7,216.4 606.8,216.4 606.9,216.3 607.0,216.3 607.1,216.2 607.2,216.1 607.3,216.1 607.4,216.0 607.5,215.9 607.6,215.8 607.7,215.7 607.8,215.5 607.9,215.4 608.0,215.3 608.1,215.1 608.2,214.9 608.3,214.7 608.4,214.5 608.5,214.3 608.6,214.1 608.8,213.8 608.9,213.6 609.0,213.3 609.1,213.0 609.2,212.6 609.3,212.3 609.4,211.9 609.5,211.5 609.6,211.1 609.7,210.6 609.8,210.1 609.9,209.6 610.0,209.0 610.1,208.5 610.2,207.8 610.3,207.2 610.4,206.5 610.5,205.8 610.6,205.0 610.7,204.2 610.9,203.4 611.0,202.5 611.1,201.6 611.2,200.6 611.3,199.6 611.4,198.6 611.5,197.5 611.6,196.3 611.7,195.2 611.8,194.0 611.9,192.7 612.0,191.4 612.1,190.1 612.2,188.7 612.3,187.3 612.4,185.9 612.5,184.4 612.6,182.9 612.7,181.4 612.8,179.8 613.0,178.2 613.1,176.6 613.2,175.0 613.3,173.4 613.4,171.7 613.5,170.0 613.6,168.4 613.7,166.7 613.8,165.0 613.9,163.3 614.0,161.7 614.1,160.0 614.2,158.4 614.3,156.8 614.4,155.2 614.5,153.7 614.6,152.1 614.7,150.7 614.8,149.2 614.9,147.8 615.1,146.5 615.2,145.2 615.3,144.0 615.4,142.9 615.5,141.8 615.6,140.8 615.7,139.9 615.8,139.1 615.9,138.3 616.0,137.7 616.1,137.1 616.2,136.6 616.3,136.2 616.4,136.0 616.5,135.8 616.6,135.7 616.7,135.7 616.8,135.8 616.9,135.9 617.0,136.2 617.2,136.5 617.3,136.9 617.4,137.3 617.5,137.9 617.6,138.5 617.7,139.1 617.8,139.9 617.9,140.6 618.0,141.5 618.1,142.4 618.2,143.4 618.3,144.4 618.4,145.4 618.5,146.5 618.6,147.7 618.7,148.8 618.8,150.1 618.9,151.3 619.0,152.6 619.1,153.9 619.3,155.2 619.4,156.5 619.5,157.9 619.6,159.2 619.7,160.6 619.8,162.0 619.9,163.4 620.0,164.7 620.1,166.1 620.2,167.5 620.3,168.9 620.4,170.3 620.5,171.6 620.6,173.0 620.7,174.3 620.8,175.6 620.9,176.9 621.0,178.2 621.1,179.5 621.3,180.8 621.4,182.0 621.5,183.2 621.6,184.4 621.7,185.5 621.8,186.7 621.9,187.8 622.0,188.9 622.1,189.9 622.2,190.9 622.3,191.9 622.4,192.9 622.5,193.8 622.6,194.7 622.7,195.6 622.8,196.5 622.9,197.3 623.0,198.1 623.1,198.8 623.2,199.6 623.4,200.3 623.5,200.9 623.6,201.6 623.7,202.2 623.8,202.8 623.9,203.4 624.0,203.9 624.1,204.4 624.2,204.9 624.3,205.4 624.4,205.9 624.5,206.3 624.6,206.7 624.7,207.1 624.8,207.4 624.9,207.8 625.0,208.1 625.1,208.4 625.2,208.7 625.3,208.9 625.5,209.2 625.6,209.4 625.7,209.6 625.8,209.8 625.9,210.0 626.0,210.2 626.1,210.3 626.2,210.5 626.3,210.6 626.4,210.7 626.5,210.8 626.6,210.9 626.7,211.0 626.8,211.0 626.9,211.1 627.0,211.1 627.1,211.1 627.2,211.2 627.3,211.2 627.4,211.2 627.6,211.1 627.7,211.1 627.8,211.1 627.9,211.0 628.0,210.9 628.1,210.9 628.2,210.8 628.3,210.6 628.4,210.5 628.5,210.4 628.6,210.2 628.7,210.0 628.8,209.8 628.9,209.6 629.0,209.3 629.1,209.0 629.2,208.7 629.3,208.4 629.4,208.0 629.5,207.6 629.7,207.2 629.8,206.7 629.9,206.2 630.0,205.7 630.1,205.1 630.2,204.5 630.3,203.8 630.4,203.1 630.5,202.3 630.6,201.4 630.7,200.5 630.8,199.5 630.9,198.5 631.0,197.4 631.1,196.2 631.2,194.9 631.3,193.6 631.4,192.2 631.5,190.7 631.6,189.1 631.8,187.4 631.9,185.6 632.0,183.8 632.1,181.8 632.2,179.7 632.3,177.6 632.4,175.3 632.5,172.9 632.6,170.4 632.7,167.9 632.8,165.2 632.9,162.4 633.0,159.5 633.1,156.5 633.2,153.4 633.3,150.2 633.4,147.0 633.5,143.6 633.6,140.2 633.8,136.6 633.9,133.0 634.0,129.4 634.1,125.6 634.2,121.8 634.3,118.0 634.4,114.1 634.5,110.2 634.6,106.3 634.7,102.4 634.8,98.4 634.9,94.5 635.0,90.6 635.1,86.8 635.2,83.0 635.3,79.2 635.4,75.5 635.5,72.0 635.6,68.5 635.7,65.1 635.9,61.9 636.0,58.8 636.1,55.9 636.2,53.2 636.3,50.7 636.4,48.3 636.5,46.2 636.6,44.3 636.7,42.7 636.8,41.3 636.9,40.2 637.0,39.3 637.1,38.7 637.2,38.4 637.3,38.4 637.4,38.6 637.5,39.0 637.6,39.6 637.7,40.4 637.8,41.4 638.0,42.6 638.1,44.0 638.2,45.6 638.3,47.4 638.4,49.4 638.5,51.5 638.6,53.7 638.7,56.2 638.8,58.7 638.9,61.4 639.0,64.2 639.1,67.1 639.2,70.1 639.3,73.2 639.4,76.3 639.5,79.6 639.6,82.9 639.7,86.2 639.8,89.6 639.9,93.1 640.1,96.5 640.2,100.0 640.3,103.5 640.4,107.0 640.5,110.4 640.6,113.9 640.7,117.3 640.8,120.8 640.9,124.2 641.0,127.5 641.1,130.8 641.2,134.1 641.3,137.3 641.4,140.4 641.5,143.5 641.6,146.6 641.7,149.5 641.8,152.4 641.9,155.2 642.0,158.0 642.2,160.6 642.3,163.2 642.4,165.7 642.5,168.2 642.6,170.5 642.7,172.8 642.8,175.0 642.9,177.1 643.0,179.1 643.1,181.1 643.2,182.9 643.3,184.7 643.4,186.4 643.5,188.1 643.6,189.7 643.7,191.1 643.8,192.6 643.9,193.9 644.0,195.2 644.1,196.4 644.3,197.6 644.4,198.7 644.5,199.7 644.6,200.7 644.7,201.7 644.8,202.5 644.9,203.4 645.0,204.2 645.1,204.9 645.2,205.6 645.3,206.2 645.4,206.8 645.5,207.4 645.6,208.0 645.7,208.5 645.8,208.9 645.9,209.4 646.0,209.8 646.1,210.2 646.2,210.6 646.4,210.9 646.5,211.2 646.6,211.5 646.7,211.8 646.8,212.0 646.9,212.3 647.0,212.5 647.1,212.7 647.2,212.9 647.3,213.1 647.4,213.3 647.5,213.5 647.6,213.6 647.7,213.8 647.8,213.9 647.9,214.0 648.0,214.1 648.1,214.3 648.2,214.4 648.4,214.5 648.5,214.6 648.6,214.6 648.7,214.7 648.8,214.8 648.9,214.9 649.0,215.0 649.1,215.0 649.2,215.1 649.3,215.2 649.4,215.2 649.5,215.3 649.6,215.3 649.7,215.4 649.8,215.4 649.9,215.5 650.0,215.5 650.1,215.6 650.2,215.6 650.3,215.7 650.5,215.7 650.6,215.7 650.7,215.8 650.8,215.8 650.9,215.9 651.0,215.9 651.1,215.9 651.2,216.0 651.3,216.0 651.4,216.0 651.5,216.1 651.6,216.1 651.7,216.1 651.8,216.2 651.9,216.2 652.0,216.2 652.1,216.2 652.2,216.3 652.3,216.3 652.4,216.3 652.6,216.3 652.7,216.4 652.8,216.4 652.9,216.4 653.0,216.4 653.1,216.5 653.2,216.5 653.3,216.5 653.4,216.5 653.5,216.6 653.6,216.6 653.7,216.6 653.8,216.6 653.9,216.6 654.0,216.7 654.1,216.7 654.2,216.7 654.3,216.7 654.4,216.7 654.5,216.7 654.7,216.8 654.8,216.8 654.9,216.8 655.0,216.8 655.1,216.8 655.2,216.8 655.3,216.9 655.4,216.9 655.5,216.9 655.6,216.9 655.7,216.9 655.8,216.9 655.9,217.0 656.0,217.0 656.1,217.0 656.2,217.0 656.3,217.0 656.4,217.0 656.5,217.0 656.6,217.1 656.8,217.1 656.9,217.1 657.0,217.1 657.1,217.1 657.2,217.1 657.3,217.1 657.4,217.1 657.5,217.2 657.6,217.2 657.7,217.2 657.8,217.2 657.9,217.2 658.0,217.2 658.1,217.2 658.2,217.2 658.3,217.2 658.4,217.3 658.5,217.3 658.6,217.3 658.7,217.3 658.9,217.3 659.0,217.3 659.1,217.3 659.2,217.3 659.3,217.3 659.4,217.3 659.5,217.3 659.6,217.4 659.7,217.4 659.8,217.4 659.9,217.4 660.0,217.4 660.1,217.4 660.2,217.4 660.3,217.4 660.4,217.4 660.5,217.4 660.6,217.4 660.7,217.5 660.8,217.5 661.0,217.5 661.1,217.5 661.2,217.5 661.3,217.5 661.4,217.5 661.5,217.5 661.6,217.5 661.7,217.5 661.8,217.5 661.9,217.5 662.0,217.5 662.1,217.5 662.2,217.6 662.3,217.6 662.4,217.6 662.5,217.6 662.6,217.6 662.7,217.6 662.8,217.6 663.0,217.6 663.1,217.6 663.2,217.6 663.3,217.6 663.4,217.6 663.5,217.6 663.6,217.6 663.7,217.6 663.8,217.6 663.9,217.6 664.0,217.7 664.1,217.7 664.2,217.7 664.3,217.7 664.4,217.7 664.5,217.7 664.6,217.7 664.7,217.7 664.8,217.7 664.9,217.7 665.1,217.7 665.2,217.7 665.3,217.7 665.4,217.7 665.5,217.7 665.6,217.7 665.7,217.7 665.8,217.7 665.9,217.7 666.0,217.7 666.1,217.7 666.2,217.8 666.3,217.8 666.4,217.8 666.5,217.8 666.6,217.8 666.7,217.8 666.8,217.8 666.9,217.8 667.0,217.8 667.2,217.8 667.3,217.8 667.4,217.8 667.5,217.8 667.6,217.8 667.7,217.8 667.8,217.8 667.9,217.8 668.0,217.8 668.1,217.8 668.2,217.8 668.3,217.8 668.4,217.8 668.5,217.8 668.6,217.8 668.7,217.8 668.8,217.8 668.9,217.9 669.0,217.9 669.1,217.9 669.3,217.9 669.4,217.9 669.5,217.9 669.6,217.9 669.7,217.9 669.8,217.9 669.9,217.9 670.0,217.9 670.1,217.9 670.2,217.9 670.3,217.9 670.4,217.9 670.5,217.9 670.6,217.9 670.7,217.9 670.8,217.9 670.9,217.9 671.0,217.9 671.1,217.9 671.2,217.9 671.4,217.9 671.5,217.9 671.6,217.9 671.7,217.9 671.8,217.9 671.9,217.9 672.0,217.9 672.1,217.9 672.2,217.9 672.3,217.9 672.4,217.9 672.5,218.0 672.6,218.0 672.7,218.0 672.8,218.0 672.9,218.0 673.0,218.0 673.1,218.0 673.2,218.0 673.3,218.0 673.5,218.0 673.6,218.0 673.7,218.0 673.8,218.0 673.9,218.0 674.0,218.0 674.1,218.0 674.2,218.0 674.3,218.0 674.4,218.0 674.5,218.0 674.6,218.0 674.7,218.0 674.8,218.0 674.9,218.0 675.0,218.0 675.1,218.0 675.2,218.0 675.3,218.0 675.4,218.0 675.6,218.0 675.7,218.0 675.8,218.0 675.9,218.0 676.0,218.0 676.1,218.0 676.2,218.0 676.3,218.0 676.4,218.0 676.5,218.0 676.6,218.0 676.7,218.0 676.8,218.0 676.9,218.0 677.0,218.0 677.1,218.0 677.2,218.0 677.3,218.0 677.4,218.0 677.6,218.1 677.7,218.1 677.8,218.1 677.9,218.1 678.0,218.1 678.1,218.1 678.2,218.1 678.3,218.1 678.4,218.1 678.5,218.1 678.6,218.1 678.7,218.1 678.8,218.1 678.9,218.1 679.0,218.1 679.1,218.1 679.2,218.1 679.3,218.1 679.4,218.1 679.5,218.1 679.7,218.1 679.8,218.1 679.9,218.1 680.0,218.1 680.1,218.1 680.2,218.1 680.3,218.1 680.4,218.1 680.5,218.1 680.6,218.1 680.7,218.1 680.8,218.1 680.9,218.1 681.0,218.1 681.1,218.1 681.2,218.1 681.3,218.1 681.4,218.1 681.5,218.1 681.6,218.1 681.8,218.1 681.9,218.1 682.0,218.1 682.1,218.1 682.2,218.1 682.3,218.1 682.4,218.1 682.5,218.1 682.6,218.1 682.7,218.1 682.8,218.1 682.9,218.1 683.0,218.1 683.1,218.1 683.2,218.1 683.3,218.1 683.4,218.1 683.5,218.1 683.6,218.1 683.7,218.1 683.9,218.1 684.0,218.1 684.1,218.1 684.2,218.1 684.3,218.1 684.4,218.1 684.5,218.1 684.6,218.1 684.7,218.1 684.8,218.1 684.9,218.1 685.0,218.1 685.1,218.1 685.2,218.2 685.3,218.2 685.4,218.2 685.5,218.2 685.6,218.2 685.7,218.2 685.8,218.2 686.0,218.2 686.1,218.2 686.2,218.2 686.3,218.2 686.4,218.2 686.5,218.2 686.6,218.2 686.7,218.2 686.8,218.2 686.9,218.2 687.0,218.2 687.1,218.2 687.2,218.2 687.3,218.2 687.4,218.2 687.5,218.2 687.6,218.2 687.7,218.2 687.8,218.2 687.9,218.2 688.1,218.2 688.2,218.2 688.3,218.2 688.4,218.2 688.5,218.2 688.6,218.2 688.7,218.2 688.8,218.2 688.9,218.2 689.0,218.2 689.1,218.2 689.2,218.2 689.3,218.2 689.4,218.2 689.5,218.2 689.6,218.2 689.7,218.2 689.8,218.2 689.9,218.2 690.1,218.2 690.2,218.2 690.3,218.2 690.4,218.2 690.5,218.2 690.6,218.2 690.7,218.2 690.8,218.2 690.9,218.2 691.0,218.2 691.1,218.2 691.2,218.2 691.3,218.2 691.4,218.2 691.5,218.2 691.6,218.2 691.7,218.2 691.8,218.2 691.9,218.2 692.0,218.2 692.2,218.2 692.3,218.2 692.4,218.2 692.5,218.2 692.6,218.2 692.7,218.2 692.8,218.2 692.9,218.2 693.0,218.2 693.1,218.2 693.2,218.2 693.3,218.2 693.4,218.2 693.5,218.2 693.6,218.2 693.7,218.2 693.8,218.2 693.9,218.2 694.0,218.2 694.1,218.2 694.3,218.2 694.4,218.2 694.5,218.2 694.6,218.2 694.7,218.2 694.8,218.2 694.9,218.2 695.0,218.2 695.1,218.2 695.2,218.2 695.3,218.2 695.4,218.2 695.5,218.2 695.6,218.2 695.7,218.2 695.8,218.2 695.9,218.2 696.0,218.2 696.1,218.2 696.2,218.2 696.4,218.2 696.5,218.2 696.6,218.2 696.7,218.2 696.8,218.2 696.9,218.2 697.0,218.2 697.1,218.2 697.2,218.2 697.3,218.2 697.4,218.2 697.5,218.2 697.6,218.2 697.7,218.2 697.8,218.2 697.9,218.2 698.0,218.2 698.1,218.2 698.2,218.2 698.3,218.2 698.5,218.2 698.6,218.2 698.7,218.2 698.8,218.2 698.9,218.2 699.0,218.2 699.1,218.2 699.2,218.2 699.3,218.2 699.4,218.3 699.5,218.3 699.6,218.3 699.7,218.3 699.8,218.3 699.9,218.3 700.0,218.3 700.1,218.3 700.2,218.3 700.3,218.3 700.4,218.3 700.6,218.3 700.7,218.3 700.8,218.3 700.9,218.3 701.0,218.3 701.1,218.3 701.2,218.3 701.3,218.3 701.4,218.3 701.5,218.3 701.6,218.3 701.7,218.3 701.8,218.3 701.9,218.3 702.0,218.3 702.1,218.3 702.2,218.3 702.3,218.3 702.4,218.3 702.5,218.3 702.7,218.3 702.8,218.3 702.9,218.3 703.0,218.3 703.1,218.3 703.2,218.3 703.3,218.3 703.4,218.3 703.5,218.3 703.6,218.3" fill="none" stroke="#0000ff" stroke-width="1.65" stroke-linejoin="round"/>
<text x="561.60" y="254.0" text-anchor="middle" font-size="12.4" fill="#000">Elution volume (mL)</text>
<text transform="translate(373.0,117.0) rotate(-90)" text-anchor="middle" font-size="12.6" fill="#0000ff">ELSD Response (V)</text>
<text x="420.5" y="23.2" font-size="21" font-weight="bold" fill="#000">b</text>
<line x1="625" y1="14.3" x2="649.5" y2="14.3" stroke="#0000ff" stroke-width="1.5"/>
<text x="651.7" y="18.0" font-size="10.65" style="font-kerning:none" fill="#000" stroke="#000" stroke-width="0.15">3V A - 60</text>
<text transform="translate(494.0,165.0) rotate(-90)" text-anchor="middle" font-family='"Liberation Serif", "Times New Roman", serif' font-size="10.1" fill="#000">Start of gradient</text>
<line x1="496.20" y1="200.50" x2="523.58" y2="214.82" stroke="#000" stroke-width="1.3" stroke-dasharray="1.6 1.6"/>
<polygon points="528.90,217.60 522.47,216.95 524.70,212.69" fill="#000"/>
<line x1="42.5" y1="278.9" x2="338.0" y2="278.9" stroke="#777" stroke-width="1.7"/>
<line x1="337.5" y1="288" x2="337.5" y2="505" stroke="#000" stroke-width="1.15"/>
<line x1="42.5" y1="494.9" x2="338.0" y2="494.9" stroke="#777" stroke-width="2.2"/>
<line x1="43.0" y1="278.9" x2="43.0" y2="494.9" stroke="#6a6aff" stroke-width="1.5"/>
<line x1="43.00" y1="494.9" x2="43.00" y2="499.09999999999997" stroke="#222" stroke-width="1"/>
<text x="43.00" y="510.5" text-anchor="middle" font-size="10.4" fill="#000" stroke="#000" stroke-width="0.2">0</text>
<line x1="85.07" y1="494.9" x2="85.07" y2="499.09999999999997" stroke="#222" stroke-width="1"/>
<text x="85.07" y="510.5" text-anchor="middle" font-size="10.4" fill="#000" stroke="#000" stroke-width="0.2">1</text>
<line x1="127.14" y1="494.9" x2="127.14" y2="499.09999999999997" stroke="#222" stroke-width="1"/>
<text x="127.14" y="510.5" text-anchor="middle" font-size="10.4" fill="#000" stroke="#000" stroke-width="0.2">2</text>
<line x1="169.21" y1="494.9" x2="169.21" y2="499.09999999999997" stroke="#222" stroke-width="1"/>
<text x="169.21" y="510.5" text-anchor="middle" font-size="10.4" fill="#000" stroke="#000" stroke-width="0.2">3</text>
<line x1="211.29" y1="494.9" x2="211.29" y2="499.09999999999997" stroke="#222" stroke-width="1"/>
<text x="211.29" y="510.5" text-anchor="middle" font-size="10.4" fill="#000" stroke="#000" stroke-width="0.2">4</text>
<line x1="253.36" y1="494.9" x2="253.36" y2="499.09999999999997" stroke="#222" stroke-width="1"/>
<text x="253.36" y="510.5" text-anchor="middle" font-size="10.4" fill="#000" stroke="#000" stroke-width="0.2">5</text>
<line x1="295.43" y1="494.9" x2="295.43" y2="499.09999999999997" stroke="#222" stroke-width="1"/>
<text x="295.43" y="510.5" text-anchor="middle" font-size="10.4" fill="#000" stroke="#000" stroke-width="0.2">6</text>
<line x1="337.50" y1="494.9" x2="337.50" y2="499.09999999999997" stroke="#222" stroke-width="1"/>
<text x="337.50" y="510.5" text-anchor="middle" font-size="10.4" fill="#000" stroke="#000" stroke-width="0.2">7</text>
<line x1="38.5" y1="492.00" x2="43.0" y2="492.00" stroke="#0000ff" stroke-width="1"/>
<text x="33.5" y="495.40" text-anchor="end" font-size="10.4" fill="#0000ff" stroke="#0000ff" stroke-width="0.2">0.0</text>
<line x1="38.5" y1="459.20" x2="43.0" y2="459.20" stroke="#0000ff" stroke-width="1"/>
<text x="33.5" y="462.60" text-anchor="end" font-size="10.4" fill="#0000ff" stroke="#0000ff" stroke-width="0.2">0.1</text>
<line x1="38.5" y1="426.40" x2="43.0" y2="426.40" stroke="#0000ff" stroke-width="1"/>
<text x="33.5" y="429.80" text-anchor="end" font-size="10.4" fill="#0000ff" stroke="#0000ff" stroke-width="0.2">0.2</text>
<line x1="38.5" y1="393.60" x2="43.0" y2="393.60" stroke="#0000ff" stroke-width="1"/>
<text x="33.5" y="397.00" text-anchor="end" font-size="10.4" fill="#0000ff" stroke="#0000ff" stroke-width="0.2">0.3</text>
<line x1="38.5" y1="360.80" x2="43.0" y2="360.80" stroke="#0000ff" stroke-width="1"/>
<text x="33.5" y="364.20" text-anchor="end" font-size="10.4" fill="#0000ff" stroke="#0000ff" stroke-width="0.2">0.4</text>
<line x1="38.5" y1="328.00" x2="43.0" y2="328.00" stroke="#0000ff" stroke-width="1"/>
<text x="33.5" y="331.40" text-anchor="end" font-size="10.4" fill="#0000ff" stroke="#0000ff" stroke-width="0.2">0.5</text>
<line x1="38.5" y1="295.20" x2="43.0" y2="295.20" stroke="#0000ff" stroke-width="1"/>
<text x="33.5" y="298.60" text-anchor="end" font-size="10.4" fill="#0000ff" stroke="#0000ff" stroke-width="0.2">0.6</text>
<polyline points="43.0,491.9 43.1,491.9 43.2,491.9 43.3,491.9 43.4,491.9 43.5,491.9 43.6,491.9 43.7,491.9 43.8,491.9 43.9,491.9 44.1,491.9 44.2,491.9 44.3,491.9 44.4,491.9 44.5,491.9 44.6,491.9 44.7,491.9 44.8,491.9 44.9,491.9 45.0,491.9 45.1,491.9 45.2,491.9 45.3,491.9 45.4,491.9 45.5,491.9 45.6,491.9 45.7,491.9 45.8,491.9 45.9,491.9 46.1,491.9 46.2,491.9 46.3,491.9 46.4,491.9 46.5,491.9 46.6,491.9 46.7,491.9 46.8,491.9 46.9,491.9 47.0,491.9 47.1,491.9 47.2,491.9 47.3,491.9 47.4,491.9 47.5,491.9 47.6,491.9 47.7,491.9 47.8,491.9 47.9,491.9 48.1,491.9 48.2,491.9 48.3,491.9 48.4,491.9 48.5,491.9 48.6,491.9 48.7,491.9 48.8,491.9 48.9,491.9 49.0,491.9 49.1,491.9 49.2,491.9 49.3,491.9 49.4,491.9 49.5,491.9 49.6,491.9 49.7,491.9 49.8,491.9 49.9,491.9 50.0,491.9 50.2,491.9 50.3,491.9 50.4,491.9 50.5,491.9 50.6,491.9 50.7,491.9 50.8,491.9 50.9,491.9 51.0,491.9 51.1,491.9 51.2,491.9 51.3,491.9 51.4,491.9 51.5,491.9 51.6,491.9 51.7,491.9 51.8,491.9 51.9,491.9 52.0,491.9 52.2,491.9 52.3,491.9 52.4,491.9 52.5,491.9 52.6,491.9 52.7,491.9 52.8,491.9 52.9,491.9 53.0,491.9 53.1,491.9 53.2,491.9 53.3,491.9 53.4,491.9 53.5,491.9 53.6,491.9 53.7,491.9 53.8,491.9 53.9,491.9 54.0,491.9 54.2,491.9 54.3,491.9 54.4,491.9 54.5,491.9 54.6,491.9 54.7,491.9 54.8,491.9 54.9,491.9 55.0,491.9 55.1,491.9 55.2,491.9 55.3,491.9 55.4,491.9 55.5,491.9 55.6,491.9 55.7,491.9 55.8,491.9 55.9,491.9 56.0,491.9 56.2,491.9 56.3,491.9 56.4,491.9 56.5,491.9 56.6,491.9 56.7,491.9 56.8,491.9 56.9,491.9 57.0,491.9 57.1,491.9 57.2,491.9 57.3,491.9 57.4,491.9 57.5,491.9 57.6,491.9 57.7,491.9 57.8,491.9 57.9,491.9 58.0,491.9 58.2,491.9 58.3,491.9 58.4,491.9 58.5,491.9 58.6,491.9 58.7,491.9 58.8,491.9 58.9,491.9 59.0,491.9 59.1,491.9 59.2,491.9 59.3,491.9 59.4,491.9 59.5,491.9 59.6,491.9 59.7,491.9 59.8,491.9 59.9,491.9 60.0,491.9 60.2,491.9 60.3,491.9 60.4,491.9 60.5,491.9 60.6,491.9 60.7,491.9 60.8,491.9 60.9,491.9 61.0,491.9 61.1,491.9 61.2,491.9 61.3,491.9 61.4,491.9 61.5,491.9 61.6,491.9 61.7,491.9 61.8,491.9 61.9,491.9 62.0,491.9 62.1,491.9 62.3,491.9 62.4,491.9 62.5,491.9 62.6,491.9 62.7,491.9 62.8,491.9 62.9,491.9 63.0,491.9 63.1,491.9 63.2,491.9 63.3,491.9 63.4,491.9 63.5,491.9 63.6,491.9 63.7,491.9 63.8,491.9 63.9,491.9 64.0,491.9 64.1,491.9 64.3,491.9 64.4,491.9 64.5,491.9 64.6,491.9 64.7,491.9 64.8,491.9 64.9,491.9 65.0,491.9 65.1,491.9 65.2,491.9 65.3,491.9 65.4,491.9 65.5,491.9 65.6,491.9 65.7,491.9 65.8,491.9 65.9,491.9 66.0,491.9 66.1,491.9 66.3,491.9 66.4,491.9 66.5,491.9 66.6,491.9 66.7,491.9 66.8,491.9 66.9,491.9 67.0,491.9 67.1,491.9 67.2,491.9 67.3,491.9 67.4,491.9 67.5,491.9 67.6,491.9 67.7,491.9 67.8,491.9 67.9,491.9 68.0,491.9 68.1,491.9 68.3,491.9 68.4,491.9 68.5,491.9 68.6,491.9 68.7,491.9 68.8,491.9 68.9,491.9 69.0,491.9 69.1,491.9 69.2,491.9 69.3,491.9 69.4,491.9 69.5,491.9 69.6,491.9 69.7,491.9 69.8,491.9 69.9,491.9 70.0,491.9 70.1,491.9 70.3,491.9 70.4,491.9 70.5,491.9 70.6,491.9 70.7,491.9 70.8,491.9 70.9,491.9 71.0,491.9 71.1,491.9 71.2,491.9 71.3,491.9 71.4,491.9 71.5,491.9 71.6,491.9 71.7,491.9 71.8,491.9 71.9,491.9 72.0,491.9 72.1,491.9 72.3,491.9 72.4,491.9 72.5,491.9 72.6,491.9 72.7,491.9 72.8,491.9 72.9,491.9 73.0,491.9 73.1,491.9 73.2,491.9 73.3,491.9 73.4,491.9 73.5,491.9 73.6,491.9 73.7,491.9 73.8,491.9 73.9,491.9 74.0,491.9 74.1,491.9 74.2,491.9 74.4,491.9 74.5,491.9 74.6,491.9 74.7,491.9 74.8,491.9 74.9,491.9 75.0,491.9 75.1,491.9 75.2,491.9 75.3,491.9 75.4,491.9 75.5,491.9 75.6,491.9 75.7,491.9 75.8,491.9 75.9,491.9 76.0,491.9 76.1,491.9 76.2,491.9 76.4,491.9 76.5,491.9 76.6,491.9 76.7,491.9 76.8,491.9 76.9,491.9 77.0,491.9 77.1,491.9 77.2,491.9 77.3,491.9 77.4,491.9 77.5,491.9 77.6,491.9 77.7,491.9 77.8,491.9 77.9,491.9 78.0,491.9 78.1,491.9 78.2,491.9 78.4,491.9 78.5,491.9 78.6,491.9 78.7,491.9 78.8,491.9 78.9,491.9 79.0,491.9 79.1,491.9 79.2,491.9 79.3,491.9 79.4,491.9 79.5,491.9 79.6,491.9 79.7,491.9 79.8,491.9 79.9,491.9 80.0,491.9 80.1,491.9 80.2,491.9 80.4,491.9 80.5,491.9 80.6,491.9 80.7,491.9 80.8,491.9 80.9,491.9 81.0,491.9 81.1,491.9 81.2,491.9 81.3,491.9 81.4,491.9 81.5,491.9 81.6,491.9 81.7,491.9 81.8,491.9 81.9,491.9 82.0,491.9 82.1,491.8 82.2,491.8 82.4,491.8 82.5,491.8 82.6,491.8 82.7,491.8 82.8,491.8 82.9,491.8 83.0,491.8 83.1,491.8 83.2,491.8 83.3,491.8 83.4,491.8 83.5,491.8 83.6,491.8 83.7,491.8 83.8,491.8 83.9,491.8 84.0,491.8 84.1,491.8 84.2,491.8 84.3,491.8 84.5,491.8 84.6,491.8 84.7,491.8 84.8,491.8 84.9,491.8 85.0,491.8 85.1,491.8 85.2,491.8 85.3,491.8 85.4,491.8 85.5,491.8 85.6,491.8 85.7,491.8 85.8,491.8 85.9,491.8 86.0,491.8 86.1,491.8 86.2,491.8 86.3,491.8 86.5,491.7 86.6,491.7 86.7,491.7 86.8,491.7 86.9,491.7 87.0,491.7 87.1,491.7 87.2,491.7 87.3,491.7 87.4,491.7 87.5,491.7 87.6,491.7 87.7,491.7 87.8,491.7 87.9,491.7 88.0,491.7 88.1,491.6 88.2,491.6 88.3,491.6 88.5,491.6 88.6,491.6 88.7,491.6 88.8,491.6 88.9,491.6 89.0,491.6 89.1,491.6 89.2,491.5 89.3,491.5 89.4,491.5 89.5,491.5 89.6,491.5 89.7,491.5 89.8,491.4 89.9,491.4 90.0,491.4 90.1,491.4 90.2,491.3 90.3,491.3 90.5,491.2 90.6,491.2 90.7,491.1 90.8,491.0 90.9,490.9 91.0,490.7 91.1,490.5 91.2,490.2 91.3,489.9 91.4,489.5 91.5,488.9 91.6,488.3 91.7,487.4 91.8,486.4 91.9,485.1 92.0,483.5 92.1,481.6 92.2,479.4 92.3,476.6 92.5,473.4 92.6,469.7 92.7,465.4 92.8,460.4 92.9,454.8 93.0,448.4 93.1,441.4 93.2,433.7 93.3,425.4 93.4,416.4 93.5,406.9 93.6,397.0 93.7,386.8 93.8,376.4 93.9,366.0 94.0,355.7 94.1,345.9 94.2,336.6 94.3,328.1 94.5,320.5 94.6,314.1 94.7,309.0 94.8,305.3 94.9,303.2 95.0,302.7 95.1,303.4 95.2,305.0 95.3,307.6 95.4,311.1 95.5,315.5 95.6,320.6 95.7,326.3 95.8,332.7 95.9,339.5 96.0,346.8 96.1,354.1 96.2,361.7 96.3,369.4 96.4,377.2 96.6,385.0 96.7,392.7 96.8,400.3 96.9,407.6 97.0,414.7 97.1,421.4 97.2,427.9 97.3,433.9 97.4,439.6 97.5,444.9 97.6,449.8 97.7,454.3 97.8,458.4 97.9,462.1 98.0,465.5 98.1,468.5 98.2,471.2 98.3,473.7 98.4,475.8 98.6,477.7 98.7,479.3 98.8,480.8 98.9,482.0 99.0,483.1 99.1,484.1 99.2,484.9 99.3,485.6 99.4,486.2 99.5,486.7 99.6,487.2 99.7,487.5 99.8,487.9 99.9,488.2 100.0,488.4 100.1,488.6 100.2,488.8 100.3,489.0 100.4,489.1 100.6,489.3 100.7,489.4 100.8,489.5 100.9,489.6 101.0,489.7 101.1,489.7 101.2,489.8 101.3,489.9 101.4,490.0 101.5,490.0 101.6,490.1 101.7,490.1 101.8,490.2 101.9,490.2 102.0,490.3 102.1,490.3 102.2,490.4 102.3,490.4 102.4,490.5 102.6,490.5 102.7,490.5 102.8,490.6 102.9,490.6 103.0,490.6 103.1,490.7 103.2,490.7 103.3,490.7 103.4,490.8 103.5,490.8 103.6,490.8 103.7,490.9 103.8,490.9 103.9,490.9 104.0,490.9 104.1,491.0 104.2,491.0 104.3,491.0 104.4,491.0 104.6,491.0 104.7,491.1 104.8,491.1 104.9,491.1 105.0,491.1 105.1,491.1 105.2,491.2 105.3,491.2 105.4,491.2 105.5,491.2 105.6,491.2 105.7,491.2 105.8,491.2 105.9,491.3 106.0,491.3 106.1,491.3 106.2,491.3 106.3,491.3 106.4,491.3 106.6,491.3 106.7,491.4 106.8,491.4 106.9,491.4 107.0,491.4 107.1,491.4 107.2,491.4 107.3,491.4 107.4,491.4 107.5,491.4 107.6,491.4 107.7,491.5 107.8,491.5 107.9,491.5 108.0,491.5 108.1,491.5 108.2,491.5 108.3,491.5 108.4,491.5 108.5,491.5 108.7,491.5 108.8,491.5 108.9,491.5 109.0,491.5 109.1,491.5 109.2,491.6 109.3,491.6 109.4,491.6 109.5,491.6 109.6,491.6 109.7,491.6 109.8,491.6 109.9,491.6 110.0,491.6 110.1,491.6 110.2,491.6 110.3,491.6 110.4,491.6 110.5,491.6 110.7,491.6 110.8,491.6 110.9,491.6 111.0,491.6 111.1,491.6 111.2,491.6 111.3,491.7 111.4,491.7 111.5,491.7 111.6,491.7 111.7,491.7 111.8,491.7 111.9,491.7 112.0,491.7 112.1,491.7 112.2,491.7 112.3,491.7 112.4,491.7 112.5,491.7 112.7,491.7 112.8,491.7 112.9,491.7 113.0,491.7 113.1,491.7 113.2,491.7 113.3,491.7 113.4,491.7 113.5,491.7 113.6,491.7 113.7,491.7 113.8,491.7 113.9,491.7 114.0,491.7 114.1,491.7 114.2,491.7 114.3,491.7 114.4,491.7 114.5,491.7 114.7,491.7 114.8,491.7 114.9,491.8 115.0,491.8 115.1,491.8 115.2,491.8 115.3,491.8 115.4,491.8 115.5,491.8 115.6,491.8 115.7,491.8 115.8,491.8 115.9,491.8 116.0,491.8 116.1,491.8 116.2,491.8 116.3,491.8 116.4,491.8 116.5,491.8 116.7,491.8 116.8,491.8 116.9,491.8 117.0,491.8 117.1,491.8 117.2,491.8 117.3,491.8 117.4,491.8 117.5,491.8 117.6,491.8 117.7,491.8 117.8,491.8 117.9,491.8 118.0,491.8 118.1,491.8 118.2,491.8 118.3,491.8 118.4,491.8 118.5,491.8 118.7,491.8 118.8,491.8 118.9,491.8 119.0,491.8 119.1,491.8 119.2,491.8 119.3,491.8 119.4,491.8 119.5,491.8 119.6,491.8 119.7,491.8 119.8,491.8 119.9,491.8 120.0,491.8 120.1,491.8 120.2,491.8 120.3,491.8 120.4,491.8 120.5,491.8 120.6,491.8 120.8,491.8 120.9,491.8 121.0,491.8 121.1,491.8 121.2,491.8 121.3,491.8 121.4,491.8 121.5,491.8 121.6,491.8 121.7,491.8 121.8,491.8 121.9,491.8 122.0,491.8 122.1,491.8 122.2,491.8 122.3,491.8 122.4,491.8 122.5,491.8 122.6,491.8 122.8,491.8 122.9,491.8 123.0,491.8 123.1,491.8 123.2,491.8 123.3,491.8 123.4,491.8 123.5,491.8 123.6,491.8 123.7,491.8 123.8,491.8 123.9,491.8 124.0,491.8 124.1,491.9 124.2,491.9 124.3,491.9 124.4,491.9 124.5,491.9 124.6,491.9 124.8,491.9 124.9,491.9 125.0,491.9 125.1,491.9 125.2,491.9 125.3,491.9 125.4,491.9 125.5,491.9 125.6,491.9 125.7,491.9 125.8,491.9 125.9,491.9 126.0,491.9 126.1,491.9 126.2,491.9 126.3,491.9 126.4,491.9 126.5,491.9 126.6,491.9 126.8,491.9 126.9,491.9 127.0,491.9 127.1,491.9 127.2,491.9 127.3,491.9 127.4,491.9 127.5,491.9 127.6,491.9 127.7,491.9 127.8,491.9 127.9,491.9 128.0,491.9 128.1,491.9 128.2,491.9 128.3,491.9 128.4,491.9 128.5,491.9 128.6,491.9 128.8,491.9 128.9,491.9 129.0,491.9 129.1,491.9 129.2,491.9 129.3,491.9 129.4,491.9 129.5,491.9 129.6,491.9 129.7,491.9 129.8,491.9 129.9,491.9 130.0,491.9 130.1,491.9 130.2,491.9 130.3,491.9 130.4,491.9 130.5,491.9 130.6,491.9 130.8,491.9 130.9,491.9 131.0,491.9 131.1,491.9 131.2,491.9 131.3,491.9 131.4,491.9 131.5,491.9 131.6,491.9 131.7,491.9 131.8,491.9 131.9,491.9 132.0,491.9 132.1,491.9 132.2,491.9 132.3,491.9 132.4,491.9 132.5,491.9 132.6,491.9 132.7,491.9 132.9,491.9 133.0,491.9 133.1,491.9 133.2,491.9 133.3,491.9 133.4,491.9 133.5,491.9 133.6,491.9 133.7,491.9 133.8,491.9 133.9,491.9 134.0,491.9 134.1,491.9 134.2,491.9 134.3,491.9 134.4,491.9 134.5,491.9 134.6,491.9 134.7,491.9 134.9,491.9 135.0,491.9 135.1,491.9 135.2,491.9 135.3,491.9 135.4,491.9 135.5,491.9 135.6,491.9 135.7,491.9 135.8,491.9 135.9,491.9 136.0,491.9 136.1,491.9 136.2,491.9 136.3,491.9 136.4,491.9 136.5,491.9 136.6,491.9 136.7,491.9 136.9,491.9 137.0,491.9 137.1,491.9 137.2,491.9 137.3,491.9 137.4,491.9 137.5,491.9 137.6,491.9 137.7,491.9 137.8,491.9 137.9,491.9 138.0,491.9 138.1,491.9 138.2,491.9 138.3,491.9 138.4,491.9 138.5,491.9 138.6,491.9 138.7,491.9 138.9,491.9 139.0,491.9 139.1,491.9 139.2,491.9 139.3,491.9 139.4,491.9 139.5,491.9 139.6,491.9 139.7,491.9 139.8,491.9 139.9,491.9 140.0,491.9 140.1,491.9 140.2,491.9 140.3,491.9 140.4,491.9 140.5,491.9 140.6,491.9 140.7,491.9 140.9,491.9 141.0,491.9 141.1,491.9 141.2,491.9 141.3,491.9 141.4,491.9 141.5,491.9 141.6,491.9 141.7,491.9 141.8,491.9 141.9,491.9 142.0,491.9 142.1,491.9 142.2,491.9 142.3,491.9 142.4,491.9 142.5,491.9 142.6,491.9 142.7,491.9 142.9,491.9 143.0,491.9 143.1,491.9 143.2,491.9 143.3,491.9 143.4,491.9 143.5,491.9 143.6,491.9 143.7,491.9 143.8,491.9 143.9,491.9 144.0,491.9 144.1,491.9 144.2,491.9 144.3,491.9 144.4,491.9 144.5,491.9 144.6,491.9 144.7,491.9 144.8,491.9 145.0,491.9 145.1,491.9 145.2,491.9 145.3,491.9 145.4,491.9 145.5,491.9 145.6,491.9 145.7,491.9 145.8,491.9 145.9,491.9 146.0,491.9 146.1,491.9 146.2,491.9 146.3,491.9 146.4,491.9 146.5,491.9 146.6,491.9 146.7,491.9 146.8,491.9 147.0,491.9 147.1,491.9 147.2,491.9 147.3,491.9 147.4,491.9 147.5,491.9 147.6,491.9 147.7,491.9 147.8,491.9 147.9,491.9 148.0,491.9 148.1,491.9 148.2,491.9 148.3,491.9 148.4,491.9 148.5,491.9 148.6,491.9 148.7,491.9 148.8,491.9 149.0,491.9 149.1,491.9 149.2,491.9 149.3,491.9 149.4,491.9 149.5,491.9 149.6,491.9 149.7,491.9 149.8,491.9 149.9,491.9 150.0,491.9 150.1,491.9 150.2,491.9 150.3,491.9 150.4,491.9 150.5,491.9 150.6,491.9 150.7,491.9 150.8,491.9 151.0,491.9 151.1,491.9 151.2,491.9 151.3,491.9 151.4,491.9 151.5,491.9 151.6,491.9 151.7,491.9 151.8,491.9 151.9,491.9 152.0,491.9 152.1,491.9 152.2,491.9 152.3,491.9 152.4,491.9 152.5,491.9 152.6,491.9 152.7,491.9 152.8,491.9 153.0,491.9 153.1,491.9 153.2,491.9 153.3,491.9 153.4,491.9 153.5,491.9 153.6,491.9 153.7,491.9 153.8,491.9 153.9,491.9 154.0,491.9 154.1,491.9 154.2,491.9 154.3,491.9 154.4,491.9 154.5,491.9 154.6,491.9 154.7,491.9 154.8,491.9 154.9,491.9 155.1,491.9 155.2,491.9 155.3,491.9 155.4,491.9 155.5,491.9 155.6,491.9 155.7,491.9 155.8,491.9 155.9,491.9 156.0,491.9 156.1,491.9 156.2,491.9 156.3,491.9 156.4,491.9 156.5,491.9 156.6,491.9 156.7,491.9 156.8,491.9 156.9,491.9 157.1,491.9 157.2,491.9 157.3,491.9 157.4,491.9 157.5,491.9 157.6,491.9 157.7,491.9 157.8,491.9 157.9,491.9 158.0,491.9 158.1,491.9 158.2,491.9 158.3,491.9 158.4,491.9 158.5,491.9 158.6,491.9 158.7,491.9 158.8,491.9 158.9,491.9 159.1,491.9 159.2,491.9 159.3,491.9 159.4,491.9 159.5,491.9 159.6,491.9 159.7,491.9 159.8,491.9 159.9,491.9 160.0,491.9 160.1,491.9 160.2,491.9 160.3,491.9 160.4,491.9 160.5,491.9 160.6,491.9 160.7,491.9 160.8,491.9 160.9,491.9 161.1,491.8 161.2,491.8 161.3,491.8 161.4,491.8 161.5,491.8 161.6,491.8 161.7,491.8 161.8,491.8 161.9,491.8 162.0,491.8 162.1,491.8 162.2,491.8 162.3,491.8 162.4,491.8 162.5,491.8 162.6,491.8 162.7,491.8 162.8,491.8 162.9,491.7 163.1,491.7 163.2,491.7 163.3,491.7 163.4,491.7 163.5,491.7 163.6,491.7 163.7,491.7 163.8,491.7 163.9,491.7 164.0,491.6 164.1,491.6 164.2,491.6 164.3,491.6 164.4,491.6 164.5,491.6 164.6,491.6 164.7,491.6 164.8,491.6 164.9,491.5 165.1,491.5 165.2,491.5 165.3,491.5 165.4,491.5 165.5,491.5 165.6,491.4 165.7,491.4 165.8,491.4 165.9,491.4 166.0,491.4 166.1,491.4 166.2,491.4 166.3,491.3 166.4,491.3 166.5,491.3 166.6,491.3 166.7,491.3 166.8,491.3 166.9,491.2 167.0,491.2 167.2,491.2 167.3,491.2 167.4,491.2 167.5,491.2 167.6,491.1 167.7,491.1 167.8,491.1 167.9,491.1 168.0,491.1 168.1,491.1 168.2,491.0 168.3,491.0 168.4,491.0 168.5,491.0 168.6,491.0 168.7,491.0 168.8,490.9 168.9,490.9 169.0,490.9 169.2,490.9 169.3,490.9 169.4,490.9 169.5,490.9 169.6,490.9 169.7,490.9 169.8,490.8 169.9,490.8 170.0,490.8 170.1,490.8 170.2,490.8 170.3,490.8 170.4,490.8 170.5,490.8 170.6,490.8 170.7,490.8 170.8,490.8 170.9,490.8 171.0,490.8 171.2,490.8 171.3,490.8 171.4,490.8 171.5,490.8 171.6,490.8 171.7,490.8 171.8,490.8 171.9,490.8 172.0,490.8 172.1,490.8 172.2,490.8 172.3,490.8 172.4,490.8 172.5,490.8 172.6,490.8 172.7,490.8 172.8,490.8 172.9,490.8 173.0,490.8 173.2,490.8 173.3,490.8 173.4,490.8 173.5,490.8 173.6,490.8 173.7,490.8 173.8,490.8 173.9,490.8 174.0,490.8 174.1,490.8 174.2,490.8 174.3,490.8 174.4,490.8 174.5,490.8 174.6,490.8 174.7,490.9 174.8,490.9 174.9,490.9 175.0,490.9 175.2,490.9 175.3,490.9 175.4,490.9 175.5,490.9 175.6,490.9 175.7,490.9 175.8,490.9 175.9,490.9 176.0,490.9 176.1,490.9 176.2,490.9 176.3,490.9 176.4,490.9 176.5,491.0 176.6,491.0 176.7,491.0 176.8,491.0 176.9,491.0 177.0,491.0 177.2,491.0 177.3,491.0 177.4,491.0 177.5,491.0 177.6,491.0 177.7,491.0 177.8,491.0 177.9,491.0 178.0,491.1 178.1,491.1 178.2,491.1 178.3,491.1 178.4,491.1 178.5,491.1 178.6,491.1 178.7,491.1 178.8,491.1 178.9,491.1 179.0,491.1 179.1,491.1 179.3,491.1 179.4,491.2 179.5,491.2 179.6,491.2 179.7,491.2 179.8,491.2 179.9,491.2 180.0,491.2 180.1,491.2 180.2,491.2 180.3,491.2 180.4,491.2 180.5,491.2 180.6,491.3 180.7,491.3 180.8,491.3 180.9,491.3 181.0,491.3 181.1,491.3 181.3,491.3 181.4,491.3 181.5,491.3 181.6,491.3 181.7,491.3 181.8,491.3 181.9,491.4 182.0,491.4 182.1,491.4 182.2,491.4 182.3,491.4 182.4,491.4 182.5,491.4 182.6,491.4 182.7,491.4 182.8,491.4 182.9,491.4 183.0,491.4 183.1,491.4 183.3,491.5 183.4,491.5 183.5,491.5 183.6,491.5 183.7,491.5 183.8,491.5 183.9,491.5 184.0,491.5 184.1,491.5 184.2,491.5 184.3,491.5 184.4,491.5 184.5,491.5 184.6,491.5 184.7,491.5 184.8,491.6 184.9,491.6 185.0,491.6 185.1,491.6 185.3,491.6 185.4,491.6 185.5,491.6 185.6,491.6 185.7,491.6 185.8,491.6 185.9,491.6 186.0,491.6 186.1,491.6 186.2,491.6 186.3,491.6 186.4,491.6 186.5,491.7 186.6,491.7 186.7,491.7 186.8,491.7 186.9,491.7 187.0,491.7 187.1,491.7 187.3,491.7 187.4,491.7 187.5,491.7 187.6,491.7 187.7,491.7 187.8,491.7 187.9,491.7 188.0,491.7 188.1,491.7 188.2,491.7 188.3,491.7 188.4,491.7 188.5,491.7 188.6,491.7 188.7,491.7 188.8,491.8 188.9,491.8 189.0,491.8 189.1,491.8 189.3,491.8 189.4,491.8 189.5,491.8 189.6,491.8 189.7,491.8 189.8,491.8 189.9,491.8 190.0,491.8 190.1,491.8 190.2,491.8 190.3,491.8 190.4,491.8 190.5,491.8 190.6,491.8 190.7,491.8 190.8,491.8 190.9,491.8 191.0,491.8 191.1,491.8 191.2,491.8 191.4,491.8 191.5,491.8 191.6,491.8 191.7,491.8 191.8,491.8 191.9,491.8 192.0,491.8 192.1,491.8 192.2,491.8 192.3,491.8 192.4,491.9 192.5,491.9 192.6,491.9 192.7,491.9 192.8,491.9 192.9,491.9 193.0,491.9 193.1,491.9 193.2,491.9 193.4,491.9 193.5,491.9 193.6,491.9 193.7,491.9 193.8,491.9 193.9,491.9 194.0,491.9 194.1,491.9 194.2,491.9 194.3,491.9 194.4,491.9 194.5,491.9 194.6,491.9 194.7,491.9 194.8,491.9 194.9,491.9 195.0,491.9 195.1,491.9 195.2,491.9 195.4,491.9 195.5,491.9 195.6,491.9 195.7,491.9 195.8,491.9 195.9,491.9 196.0,491.9 196.1,491.9 196.2,491.9 196.3,491.9 196.4,491.9 196.5,491.9 196.6,491.9 196.7,491.9 196.8,491.9 196.9,491.9 197.0,491.9 197.1,491.9 197.2,491.9 197.4,491.9 197.5,491.9 197.6,491.9 197.7,491.9 197.8,491.9 197.9,491.9 198.0,491.9 198.1,491.9 198.2,491.9 198.3,491.9 198.4,491.9 198.5,491.9 198.6,491.9 198.7,491.9 198.8,491.9 198.9,491.9 199.0,491.9 199.1,491.9 199.2,491.9 199.4,491.9 199.5,491.9 199.6,491.9 199.7,491.9 199.8,491.9 199.9,491.9 200.0,491.9 200.1,491.9 200.2,491.9 200.3,491.9 200.4,491.9 200.5,491.9 200.6,491.9 200.7,491.9 200.8,491.9 200.9,491.9 201.0,491.9 201.1,491.9 201.2,491.9 201.4,491.9 201.5,491.9 201.6,491.9 201.7,491.9 201.8,491.9 201.9,491.9 202.0,491.9 202.1,491.9 202.2,491.9 202.3,491.9 202.4,491.9 202.5,491.9 202.6,491.9 202.7,491.9 202.8,491.9 202.9,491.9 203.0,491.9 203.1,491.9 203.2,491.9 203.3,491.9 203.5,491.9 203.6,491.9 203.7,491.9 203.8,491.9 203.9,491.9 204.0,491.9 204.1,491.9 204.2,491.9 204.3,491.9 204.4,491.9 204.5,491.9 204.6,491.9 204.7,491.9 204.8,491.9 204.9,491.9 205.0,491.9 205.1,491.9 205.2,491.9 205.3,491.9 205.5,491.9 205.6,491.9 205.7,491.9 205.8,491.9 205.9,491.9 206.0,491.9 206.1,491.9 206.2,491.9 206.3,491.9 206.4,491.9 206.5,491.9 206.6,491.9 206.7,491.9 206.8,491.9 206.9,491.9 207.0,491.9 207.1,491.9 207.2,491.9 207.3,491.9 207.5,491.9 207.6,491.9 207.7,491.9 207.8,491.9 207.9,491.9 208.0,491.9 208.1,491.9 208.2,491.9 208.3,491.9 208.4,491.9 208.5,491.9 208.6,491.9 208.7,491.9 208.8,491.9 208.9,491.9 209.0,491.9 209.1,491.9 209.2,491.9 209.3,491.9 209.5,491.9 209.6,491.9 209.7,491.9 209.8,491.9 209.9,491.9 210.0,491.9 210.1,491.9 210.2,491.9 210.3,491.9 210.4,491.9 210.5,491.9 210.6,491.9 210.7,491.9 210.8,491.9 210.9,491.9 211.0,491.9 211.1,491.9 211.2,491.9 211.3,491.9 211.5,491.9 211.6,491.9 211.7,491.9 211.8,491.9 211.9,491.9 212.0,491.9 212.1,491.9 212.2,491.9 212.3,491.9 212.4,491.9 212.5,491.9 212.6,491.9 212.7,491.9 212.8,491.9 212.9,491.9 213.0,491.9 213.1,491.9 213.2,491.9 213.3,491.9 213.5,491.9 213.6,491.9 213.7,491.9 213.8,491.9 213.9,491.9 214.0,491.9 214.1,491.9 214.2,491.9 214.3,491.9 214.4,491.9 214.5,491.9 214.6,491.9 214.7,491.9 214.8,491.9 214.9,491.9 215.0,491.9 215.1,491.9 215.2,491.9 215.3,491.9 215.4,491.9 215.6,491.9 215.7,491.9 215.8,491.9 215.9,491.9 216.0,491.9 216.1,491.9 216.2,491.9 216.3,491.9 216.4,491.9 216.5,491.9 216.6,491.9 216.7,491.9 216.8,491.9 216.9,491.9 217.0,491.9 217.1,491.9 217.2,491.9 217.3,491.9 217.4,491.9 217.6,491.9 217.7,491.9 217.8,491.9 217.9,491.9 218.0,491.9 218.1,491.9 218.2,491.9 218.3,491.9 218.4,491.9 218.5,491.9 218.6,491.9 218.7,491.9 218.8,491.9 218.9,491.9 219.0,491.9 219.1,491.9 219.2,491.9 219.3,491.9 219.4,491.9 219.6,491.9 219.7,491.9 219.8,491.9 219.9,491.9 220.0,491.9 220.1,491.9 220.2,491.9 220.3,491.9 220.4,491.9 220.5,491.9 220.6,491.9 220.7,491.9 220.8,491.9 220.9,491.9 221.0,491.9 221.1,491.9 221.2,491.9 221.3,491.9 221.4,491.9 221.6,491.9 221.7,491.9 221.8,491.9 221.9,491.9 222.0,491.9 222.1,491.9 222.2,491.9 222.3,491.9 222.4,491.9 222.5,491.9 222.6,491.9 222.7,491.9 222.8,491.9 222.9,491.9 223.0,491.9 223.1,491.9 223.2,491.9 223.3,491.9 223.4,491.9 223.6,491.9 223.7,491.9 223.8,491.9 223.9,491.9 224.0,491.9 224.1,491.9 224.2,491.9 224.3,491.9 224.4,491.9 224.5,491.9 224.6,491.9 224.7,491.9 224.8,491.9 224.9,491.9 225.0,491.9 225.1,491.9 225.2,491.9 225.3,491.9 225.4,491.9 225.6,491.9 225.7,491.9 225.8,491.9 225.9,491.9 226.0,491.9 226.1,491.9 226.2,491.9 226.3,491.9 226.4,491.9 226.5,491.9 226.6,491.9 226.7,491.9 226.8,491.9 226.9,491.9 227.0,491.9 227.1,491.9 227.2,491.9 227.3,491.9 227.4,491.9 227.5,491.9 227.7,491.9 227.8,491.9 227.9,491.9 228.0,491.9 228.1,491.9 228.2,491.9 228.3,491.9 228.4,491.9 228.5,491.9 228.6,491.9 228.7,491.9 228.8,491.9 228.9,491.9 229.0,491.9 229.1,491.9 229.2,491.9 229.3,491.9 229.4,491.9 229.5,491.9 229.7,491.9 229.8,491.9 229.9,491.9 230.0,491.9 230.1,491.9 230.2,491.9 230.3,491.9 230.4,491.9 230.5,491.9 230.6,491.9 230.7,491.9 230.8,491.9 230.9,491.9 231.0,491.9 231.1,491.9 231.2,491.9 231.3,491.9 231.4,491.9 231.5,491.9 231.7,491.9 231.8,491.9 231.9,491.9 232.0,491.9 232.1,491.9 232.2,491.9 232.3,491.9 232.4,491.9 232.5,491.9 232.6,491.9 232.7,491.9 232.8,491.9 232.9,491.9 233.0,491.9 233.1,491.9 233.2,491.9 233.3,491.9 233.4,491.9 233.5,491.9 233.7,491.9 233.8,491.9 233.9,491.9 234.0,491.9 234.1,491.9 234.2,491.9 234.3,491.9 234.4,491.9 234.5,491.9 234.6,491.9 234.7,491.9 234.8,491.9 234.9,491.9 235.0,491.9 235.1,491.9 235.2,491.9 235.3,491.9 235.4,491.9 235.5,491.9 235.7,491.9 235.8,491.9 235.9,491.9 236.0,491.9 236.1,491.9 236.2,491.9 236.3,491.9 236.4,491.9 236.5,491.9 236.6,491.9 236.7,491.9 236.8,491.9 236.9,491.9 237.0,491.9 237.1,491.9 237.2,491.9 237.3,491.9 237.4,491.9 237.5,491.9 237.6,491.9 237.8,491.9 237.9,491.9 238.0,491.9 238.1,491.9 238.2,491.9 238.3,491.9 238.4,491.9 238.5,491.9 238.6,491.9 238.7,491.9 238.8,491.9 238.9,491.9 239.0,491.9 239.1,491.9 239.2,491.9 239.3,491.9 239.4,491.9 239.5,491.9 239.6,491.9 239.8,491.9 239.9,491.9 240.0,491.9 240.1,491.9 240.2,491.9 240.3,491.9 240.4,491.9 240.5,491.9 240.6,491.9 240.7,491.9 240.8,491.9 240.9,491.9 241.0,491.9 241.1,491.9 241.2,491.9 241.3,491.9 241.4,491.9 241.5,491.9 241.6,491.9 241.8,491.9 241.9,491.9 242.0,491.9 242.1,491.9 242.2,491.9 242.3,491.9 242.4,491.9 242.5,491.9 242.6,491.9 242.7,491.9 242.8,491.9 242.9,491.9 243.0,491.9 243.1,491.9 243.2,491.9 243.3,491.9 243.4,491.9 243.5,491.9 243.6,491.9 243.8,491.9 243.9,491.9 244.0,491.9 244.1,491.9 244.2,491.9 244.3,491.9 244.4,491.9 244.5,491.9 244.6,491.9 244.7,491.9 244.8,491.9 244.9,491.9 245.0,491.9 245.1,491.9 245.2,491.9 245.3,491.9 245.4,491.9 245.5,491.9 245.6,491.9 245.8,491.9 245.9,491.9 246.0,491.9 246.1,491.9 246.2,491.9 246.3,491.9 246.4,491.9 246.5,491.9 246.6,491.9 246.7,491.9 246.8,491.9 246.9,491.9 247.0,491.9 247.1,491.9 247.2,491.9 247.3,491.9 247.4,491.9 247.5,491.9 247.6,491.9 247.8,491.9 247.9,491.9 248.0,491.9 248.1,491.9 248.2,491.9 248.3,491.9 248.4,491.9 248.5,491.9 248.6,491.9 248.7,491.9 248.8,491.9 248.9,491.9 249.0,491.9 249.1,491.9 249.2,491.9 249.3,491.9 249.4,491.9 249.5,491.9 249.6,491.9 249.7,491.9 249.9,491.9 250.0,491.9 250.1,491.9 250.2,491.9 250.3,491.9 250.4,491.9 250.5,491.9 250.6,491.9 250.7,491.9 250.8,491.9 250.9,491.9 251.0,491.9 251.1,491.9 251.2,491.9 251.3,491.9 251.4,491.9 251.5,491.9 251.6,491.9 251.7,491.9 251.9,491.9 252.0,491.9 252.1,491.9 252.2,491.9 252.3,491.9 252.4,491.9 252.5,491.9 252.6,491.9 252.7,491.9 252.8,491.9 252.9,491.9 253.0,491.9 253.1,491.9 253.2,491.9 253.3,491.9 253.4,491.9 253.5,491.9 253.6,491.9 253.7,491.8 253.9,491.8 254.0,491.8 254.1,491.8 254.2,491.8 254.3,491.8 254.4,491.8 254.5,491.8 254.6,491.8 254.7,491.8 254.8,491.8 254.9,491.8 255.0,491.8 255.1,491.8 255.2,491.8 255.3,491.8 255.4,491.8 255.5,491.8 255.6,491.8 255.7,491.8 255.9,491.8 256.0,491.8 256.1,491.8 256.2,491.8 256.3,491.8 256.4,491.8 256.5,491.8 256.6,491.8 256.7,491.8 256.8,491.8 256.9,491.8 257.0,491.8 257.1,491.8 257.2,491.8 257.3,491.8 257.4,491.8 257.5,491.8 257.6,491.8 257.7,491.8 257.9,491.8 258.0,491.8 258.1,491.8 258.2,491.8 258.3,491.8 258.4,491.8 258.5,491.8 258.6,491.8 258.7,491.8 258.8,491.8 258.9,491.8 259.0,491.8 259.1,491.8 259.2,491.8 259.3,491.8 259.4,491.8 259.5,491.8 259.6,491.8 259.7,491.8 259.9,491.8 260.0,491.8 260.1,491.8 260.2,491.8 260.3,491.8 260.4,491.8 260.5,491.8 260.6,491.8 260.7,491.8 260.8,491.8 260.9,491.8 261.0,491.8 261.1,491.7 261.2,491.7 261.3,491.7 261.4,491.7 261.5,491.7 261.6,491.7 261.7,491.7 261.8,491.7 262.0,491.7 262.1,491.7 262.2,491.7 262.3,491.7 262.4,491.7 262.5,491.7 262.6,491.7 262.7,491.7 262.8,491.7 262.9,491.7 263.0,491.7 263.1,491.7 263.2,491.7 263.3,491.7 263.4,491.7 263.5,491.7 263.6,491.7 263.7,491.7 263.8,491.7 264.0,491.7 264.1,491.6 264.2,491.6 264.3,491.6 264.4,491.6 264.5,491.6 264.6,491.6 264.7,491.6 264.8,491.6 264.9,491.6 265.0,491.6 265.1,491.6 265.2,491.6 265.3,491.6 265.4,491.6 265.5,491.6 265.6,491.6 265.7,491.6 265.8,491.5 266.0,491.5 266.1,491.5 266.2,491.5 266.3,491.5 266.4,491.5 266.5,491.5 266.6,491.5 266.7,491.5 266.8,491.5 266.9,491.4 267.0,491.4 267.1,491.4 267.2,491.4 267.3,491.4 267.4,491.4 267.5,491.4 267.6,491.4 267.7,491.3 267.8,491.3 268.0,491.3 268.1,491.3 268.2,491.3 268.3,491.3 268.4,491.2 268.5,491.2 268.6,491.2 268.7,491.2 268.8,491.1 268.9,491.1 269.0,491.0 269.1,491.0 269.2,490.9 269.3,490.9 269.4,490.8 269.5,490.7 269.6,490.6 269.7,490.5 269.8,490.4 270.0,490.2 270.1,490.1 270.2,489.9 270.3,489.6 270.4,489.4 270.5,489.1 270.6,488.7 270.7,488.3 270.8,487.8 270.9,487.3 271.0,486.7 271.1,486.0 271.2,485.2 271.3,484.3 271.4,483.3 271.5,482.2 271.6,480.9 271.7,479.5 271.8,477.9 272.0,476.2 272.1,474.2 272.2,472.1 272.3,469.8 272.4,467.3 272.5,464.5 272.6,461.6 272.7,458.4 272.8,455.0 272.9,451.3 273.0,447.4 273.1,443.3 273.2,439.0 273.3,434.5 273.4,429.8 273.5,424.9 273.6,419.9 273.7,414.7 273.8,409.4 273.9,404.1 274.1,398.7 274.2,393.4 274.3,388.0 274.4,382.7 274.5,377.6 274.6,372.6 274.7,367.8 274.8,363.2 274.9,359.0 275.0,355.0 275.1,351.4 275.2,348.3 275.3,345.5 275.4,343.3 275.5,341.5 275.6,340.3 275.7,339.6 275.8,339.4 275.9,339.7 276.1,340.4 276.2,341.4 276.3,342.9 276.4,344.7 276.5,346.8 276.6,349.2 276.7,352.0 276.8,355.0 276.9,358.2 277.0,361.6 277.1,365.2 277.2,369.0 277.3,372.9 277.4,376.9 277.5,380.9 277.6,385.0 277.7,389.1 277.8,393.3 277.9,397.4 278.1,401.5 278.2,405.6 278.3,409.6 278.4,413.5 278.5,417.3 278.6,421.1 278.7,424.8 278.8,428.3 278.9,431.7 279.0,435.0 279.1,438.2 279.2,441.3 279.3,444.2 279.4,447.0 279.5,449.7 279.6,452.2 279.7,454.7 279.8,456.9 279.9,459.1 280.1,461.1 280.2,463.0 280.3,464.8 280.4,466.5 280.5,468.1 280.6,469.6 280.7,470.9 280.8,472.2 280.9,473.4 281.0,474.5 281.1,475.5 281.2,476.5 281.3,477.4 281.4,478.2 281.5,478.9 281.6,479.6 281.7,480.3 281.8,480.9 281.9,481.4 282.1,481.9 282.2,482.4 282.3,482.8 282.4,483.2 282.5,483.6 282.6,483.9 282.7,484.2 282.8,484.5 282.9,484.8 283.0,485.0 283.1,485.3 283.2,485.5 283.3,485.7 283.4,485.9 283.5,486.1 283.6,486.2 283.7,486.4 283.8,486.6 283.9,486.7 284.1,486.8 284.2,487.0 284.3,487.1 284.4,487.2 284.5,487.3 284.6,487.4 284.7,487.5 284.8,487.6 284.9,487.7 285.0,487.8 285.1,487.9 285.2,488.0 285.3,488.1 285.4,488.2 285.5,488.2 285.6,488.3 285.7,488.4 285.8,488.5 285.9,488.5 286.0,488.6 286.2,488.6 286.3,488.7 286.4,488.8 286.5,488.8 286.6,488.9 286.7,488.9 286.8,489.0 286.9,489.1 287.0,489.1 287.1,489.2 287.2,489.2 287.3,489.2 287.4,489.3 287.5,489.3 287.6,489.4 287.7,489.4 287.8,489.5 287.9,489.5 288.0,489.5 288.2,489.6 288.3,489.6 288.4,489.7 288.5,489.7 288.6,489.7 288.7,489.8 288.8,489.8 288.9,489.8 289.0,489.9 289.1,489.9 289.2,489.9 289.3,490.0 289.4,490.0 289.5,490.0 289.6,490.0 289.7,490.1 289.8,490.1 289.9,490.1 290.0,490.2 290.2,490.2 290.3,490.2 290.4,490.2 290.5,490.2 290.6,490.3 290.7,490.3 290.8,490.3 290.9,490.3 291.0,490.4 291.1,490.4 291.2,490.4 291.3,490.4 291.4,490.4 291.5,490.5 291.6,490.5 291.7,490.5 291.8,490.5 291.9,490.5 292.0,490.6 292.2,490.6 292.3,490.6 292.4,490.6 292.5,490.6 292.6,490.6 292.7,490.7 292.8,490.7 292.9,490.7 293.0,490.7 293.1,490.7 293.2,490.7 293.3,490.7 293.4,490.8 293.5,490.8 293.6,490.8 293.7,490.8 293.8,490.8 293.9,490.8 294.0,490.8 294.2,490.8 294.3,490.9 294.4,490.9 294.5,490.9 294.6,490.9 294.7,490.9 294.8,490.9 294.9,490.9 295.0,490.9 295.1,490.9 295.2,491.0 295.3,491.0 295.4,491.0 295.5,491.0 295.6,491.0 295.7,491.0 295.8,491.0 295.9,491.0 296.0,491.0 296.2,491.0 296.3,491.1 296.4,491.1 296.5,491.1 296.6,491.1 296.7,491.1 296.8,491.1 296.9,491.1 297.0,491.1 297.1,491.1 297.2,491.1 297.3,491.1 297.4,491.1 297.5,491.2 297.6,491.2 297.7,491.2 297.8,491.2 297.9,491.2 298.0,491.2 298.1,491.2 298.3,491.2 298.4,491.2 298.5,491.2 298.6,491.2 298.7,491.2 298.8,491.2 298.9,491.2 299.0,491.2 299.1,491.3 299.2,491.3 299.3,491.3 299.4,491.3 299.5,491.3 299.6,491.3 299.7,491.3 299.8,491.3 299.9,491.3 300.0,491.3 300.1,491.3 300.3,491.3 300.4,491.3 300.5,491.3 300.6,491.3 300.7,491.3 300.8,491.3 300.9,491.3 301.0,491.4 301.1,491.4 301.2,491.4 301.3,491.4 301.4,491.4 301.5,491.4 301.6,491.4 301.7,491.4 301.8,491.4 301.9,491.4 302.0,491.4 302.1,491.4 302.3,491.4 302.4,491.4 302.5,491.4 302.6,491.4 302.7,491.4 302.8,491.4 302.9,491.4 303.0,491.4 303.1,491.4 303.2,491.4 303.3,491.4 303.4,491.4 303.5,491.5 303.6,491.5 303.7,491.5 303.8,491.5 303.9,491.5 304.0,491.5 304.1,491.5 304.3,491.5 304.4,491.5 304.5,491.5 304.6,491.5 304.7,491.5 304.8,491.5 304.9,491.5 305.0,491.5 305.1,491.5 305.2,491.5 305.3,491.5 305.4,491.5 305.5,491.5 305.6,491.5 305.7,491.5 305.8,491.5 305.9,491.5 306.0,491.5 306.1,491.5 306.3,491.5 306.4,491.5 306.5,491.5 306.6,491.5 306.7,491.5 306.8,491.5 306.9,491.5 307.0,491.6 307.1,491.6 307.2,491.6 307.3,491.6 307.4,491.6 307.5,491.6 307.6,491.6 307.7,491.6 307.8,491.6 307.9,491.6 308.0,491.6 308.1,491.6 308.2,491.6 308.4,491.6 308.5,491.6 308.6,491.6 308.7,491.6 308.8,491.6 308.9,491.6 309.0,491.6 309.1,491.6 309.2,491.6 309.3,491.6 309.4,491.6 309.5,491.6 309.6,491.6 309.7,491.6 309.8,491.6 309.9,491.6 310.0,491.6 310.1,491.6 310.2,491.6 310.4,491.6 310.5,491.6 310.6,491.6 310.7,491.6 310.8,491.6 310.9,491.6 311.0,491.6 311.1,491.6 311.2,491.6 311.3,491.6 311.4,491.6 311.5,491.6 311.6,491.6 311.7,491.6 311.8,491.6 311.9,491.6 312.0,491.7 312.1,491.7 312.2,491.7 312.4,491.7 312.5,491.7 312.6,491.7 312.7,491.7 312.8,491.7 312.9,491.7 313.0,491.7 313.1,491.7 313.2,491.7 313.3,491.7 313.4,491.7 313.5,491.7 313.6,491.7 313.7,491.7 313.8,491.7 313.9,491.7 314.0,491.7 314.1,491.7 314.2,491.7 314.4,491.7 314.5,491.7 314.6,491.7 314.7,491.7 314.8,491.7 314.9,491.7 315.0,491.7 315.1,491.7 315.2,491.7 315.3,491.7 315.4,491.7 315.5,491.7 315.6,491.7 315.7,491.7 315.8,491.7 315.9,491.7 316.0,491.7 316.1,491.7 316.2,491.7 316.4,491.7 316.5,491.7 316.6,491.7 316.7,491.7 316.8,491.7 316.9,491.7 317.0,491.7 317.1,491.7 317.2,491.7 317.3,491.7 317.4,491.7 317.5,491.7 317.6,491.7 317.7,491.7 317.8,491.7 317.9,491.7 318.0,491.7 318.1,491.7 318.2,491.7 318.4,491.7 318.5,491.7 318.6,491.7 318.7,491.7 318.8,491.7 318.9,491.7 319.0,491.7 319.1,491.7 319.2,491.7 319.3,491.7 319.4,491.7 319.5,491.7 319.6,491.7 319.7,491.7 319.8,491.7 319.9,491.7 320.0,491.7 320.1,491.7 320.2,491.7 320.3,491.7 320.5,491.7 320.6,491.7 320.7,491.7 320.8,491.7 320.9,491.8 321.0,491.8 321.1,491.8 321.2,491.8 321.3,491.8 321.4,491.8 321.5,491.8 321.6,491.8 321.7,491.8 321.8,491.8 321.9,491.8 322.0,491.8 322.1,491.8 322.2,491.8 322.3,491.8 322.5,491.8 322.6,491.8 322.7,491.8 322.8,491.8 322.9,491.8 323.0,491.8 323.1,491.8 323.2,491.8 323.3,491.8 323.4,491.8 323.5,491.8 323.6,491.8 323.7,491.8 323.8,491.8 323.9,491.8 324.0,491.8 324.1,491.8 324.2,491.8 324.3,491.8 324.5,491.8 324.6,491.8 324.7,491.8 324.8,491.8 324.9,491.8 325.0,491.8 325.1,491.8 325.2,491.8 325.3,491.8 325.4,491.8 325.5,491.8 325.6,491.8 325.7,491.8 325.8,491.8 325.9,491.8 326.0,491.8 326.1,491.8 326.2,491.8 326.3,491.8 326.5,491.8 326.6,491.8 326.7,491.8 326.8,491.8 326.9,491.8 327.0,491.8 327.1,491.8 327.2,491.8 327.3,491.8 327.4,491.8 327.5,491.8 327.6,491.8 327.7,491.8 327.8,491.8 327.9,491.8 328.0,491.8 328.1,491.8 328.2,491.8 328.3,491.8 328.5,491.8 328.6,491.8 328.7,491.8 328.8,491.8 328.9,491.8 329.0,491.8 329.1,491.8 329.2,491.8 329.3,491.8 329.4,491.8 329.5,491.8 329.6,491.8 329.7,491.8 329.8,491.8 329.9,491.8 330.0,491.8 330.1,491.8 330.2,491.8 330.3,491.8 330.5,491.8 330.6,491.8 330.7,491.8 330.8,491.8 330.9,491.8 331.0,491.8 331.1,491.8 331.2,491.8 331.3,491.8 331.4,491.8 331.5,491.8 331.6,491.8 331.7,491.8 331.8,491.8 331.9,491.8 332.0,491.8 332.1,491.8 332.2,491.8 332.3,491.8 332.4,491.8 332.6,491.8 332.7,491.8 332.8,491.8 332.9,491.8 333.0,491.8 333.1,491.8 333.2,491.8 333.3,491.8 333.4,491.8 333.5,491.8 333.6,491.8 333.7,491.8 333.8,491.8 333.9,491.8 334.0,491.8 334.1,491.8 334.2,491.8 334.3,491.8 334.4,491.8 334.6,491.8 334.7,491.8 334.8,491.8 334.9,491.8 335.0,491.8 335.1,491.8 335.2,491.8 335.3,491.8 335.4,491.8 335.5,491.8 335.6,491.8 335.7,491.8 335.8,491.8 335.9,491.8 336.0,491.8 336.1,491.8 336.2,491.8 336.3,491.8 336.4,491.8 336.6,491.8 336.7,491.8 336.8,491.8 336.9,491.8 337.0,491.8 337.1,491.8 337.2,491.8 337.3,491.8 337.4,491.8 337.5,491.8" fill="none" stroke="#0000ff" stroke-width="1.65" stroke-linejoin="round"/>
<text x="195.25" y="528.7" text-anchor="middle" font-size="12.4" fill="#000">Elution volume (mL)</text>
<text transform="translate(9.2,393.8) rotate(-90)" text-anchor="middle" font-size="12.6" fill="#0000ff">ELSD Response (V)</text>
<text x="54.5" y="297.3" font-size="20.5" font-weight="bold" fill="#000">c</text>
<line x1="259" y1="290.3" x2="282.3" y2="290.3" stroke="#0000ff" stroke-width="1.5"/>
<text x="285.7" y="293.6" font-size="10.65" style="font-kerning:none" fill="#000" stroke="#000" stroke-width="0.15">3V A - 80</text>
<text transform="translate(150.5,416.0) rotate(-90)" text-anchor="middle" font-family='"Liberation Serif", "Times New Roman", serif' font-size="10" fill="#000">Start of gradient</text>
<line x1="146.50" y1="452.50" x2="160.41" y2="486.25" stroke="#000" stroke-width="1.3" stroke-dasharray="1.6 1.6"/>
<polygon points="162.70,491.80 158.19,487.17 162.63,485.34" fill="#000"/>
<line x1="409.1" y1="278.9" x2="704.1" y2="278.9" stroke="#6a6a6a" stroke-width="1.6"/>
<line x1="703.6" y1="278.9" x2="703.6" y2="494.5" stroke="#666" stroke-width="1"/>
<line x1="409.1" y1="494.5" x2="704.1" y2="494.5" stroke="#000" stroke-width="1.2"/>
<line x1="409.6" y1="278.9" x2="409.6" y2="494.5" stroke="#0000ff" stroke-width="1.2"/>
<line x1="409.60" y1="494.5" x2="409.60" y2="498.7" stroke="#222" stroke-width="1"/>
<text x="409.60" y="510.5" text-anchor="middle" font-size="10.4" fill="#000" stroke="#000" stroke-width="0.2">0</text>
<line x1="451.60" y1="494.5" x2="451.60" y2="498.7" stroke="#222" stroke-width="1"/>
<text x="451.60" y="510.5" text-anchor="middle" font-size="10.4" fill="#000" stroke="#000" stroke-width="0.2">1</text>
<line x1="493.60" y1="494.5" x2="493.60" y2="498.7" stroke="#222" stroke-width="1"/>
<text x="493.60" y="510.5" text-anchor="middle" font-size="10.4" fill="#000" stroke="#000" stroke-width="0.2">2</text>
<line x1="535.60" y1="494.5" x2="535.60" y2="498.7" stroke="#222" stroke-width="1"/>
<text x="535.60" y="510.5" text-anchor="middle" font-size="10.4" fill="#000" stroke="#000" stroke-width="0.2">3</text>
<line x1="577.60" y1="494.5" x2="577.60" y2="498.7" stroke="#222" stroke-width="1"/>
<text x="577.60" y="510.5" text-anchor="middle" font-size="10.4" fill="#000" stroke="#000" stroke-width="0.2">4</text>
<line x1="619.60" y1="494.5" x2="619.60" y2="498.7" stroke="#222" stroke-width="1"/>
<text x="619.60" y="510.5" text-anchor="middle" font-size="10.4" fill="#000" stroke="#000" stroke-width="0.2">5</text>
<line x1="661.60" y1="494.5" x2="661.60" y2="498.7" stroke="#222" stroke-width="1"/>
<text x="661.60" y="510.5" text-anchor="middle" font-size="10.4" fill="#000" stroke="#000" stroke-width="0.2">6</text>
<line x1="703.60" y1="494.5" x2="703.60" y2="498.7" stroke="#222" stroke-width="1"/>
<text x="703.60" y="510.5" text-anchor="middle" font-size="10.4" fill="#000" stroke="#000" stroke-width="0.2">7</text>
<line x1="405.1" y1="490.40" x2="409.6" y2="490.40" stroke="#0000ff" stroke-width="1"/>
<text x="402.1" y="493.80" text-anchor="end" font-size="10.4" fill="#0000ff" stroke="#0000ff" stroke-width="0.2">0.0</text>
<line x1="405.1" y1="443.40" x2="409.6" y2="443.40" stroke="#0000ff" stroke-width="1"/>
<text x="402.1" y="446.80" text-anchor="end" font-size="10.4" fill="#0000ff" stroke="#0000ff" stroke-width="0.2">0.5</text>
<line x1="405.1" y1="396.40" x2="409.6" y2="396.40" stroke="#0000ff" stroke-width="1"/>
<text x="402.1" y="399.80" text-anchor="end" font-size="10.4" fill="#0000ff" stroke="#0000ff" stroke-width="0.2">1.0</text>
<line x1="405.1" y1="349.40" x2="409.6" y2="349.40" stroke="#0000ff" stroke-width="1"/>
<text x="402.1" y="352.80" text-anchor="end" font-size="10.4" fill="#0000ff" stroke="#0000ff" stroke-width="0.2">1.5</text>
<line x1="405.1" y1="302.40" x2="409.6" y2="302.40" stroke="#0000ff" stroke-width="1"/>
<text x="402.1" y="305.80" text-anchor="end" font-size="10.4" fill="#0000ff" stroke="#0000ff" stroke-width="0.2">2.0</text>
<polyline points="409.6,490.3 409.7,490.3 409.8,490.3 409.9,490.3 410.0,490.3 410.1,490.3 410.2,490.3 410.3,490.3 410.4,490.3 410.5,490.3 410.7,490.3 410.8,490.3 410.9,490.3 411.0,490.3 411.1,490.3 411.2,490.3 411.3,490.3 411.4,490.3 411.5,490.3 411.6,490.3 411.7,490.3 411.8,490.3 411.9,490.3 412.0,490.3 412.1,490.3 412.2,490.3 412.3,490.3 412.4,490.3 412.5,490.3 412.6,490.3 412.8,490.3 412.9,490.3 413.0,490.3 413.1,490.3 413.2,490.3 413.3,490.3 413.4,490.3 413.5,490.3 413.6,490.3 413.7,490.3 413.8,490.3 413.9,490.3 414.0,490.3 414.1,490.3 414.2,490.3 414.3,490.3 414.4,490.3 414.5,490.3 414.6,490.3 414.7,490.3 414.9,490.3 415.0,490.3 415.1,490.3 415.2,490.3 415.3,490.3 415.4,490.3 415.5,490.3 415.6,490.3 415.7,490.3 415.8,490.3 415.9,490.3 416.0,490.3 416.1,490.3 416.2,490.3 416.3,490.3 416.4,490.3 416.5,490.3 416.6,490.3 416.7,490.3 416.8,490.3 417.0,490.3 417.1,490.3 417.2,490.3 417.3,490.3 417.4,490.3 417.5,490.3 417.6,490.3 417.7,490.3 417.8,490.3 417.9,490.3 418.0,490.3 418.1,490.3 418.2,490.3 418.3,490.3 418.4,490.3 418.5,490.3 418.6,490.3 418.7,490.3 418.8,490.3 418.9,490.3 419.1,490.3 419.2,490.3 419.3,490.3 419.4,490.3 419.5,490.3 419.6,490.3 419.7,490.3 419.8,490.3 419.9,490.3 420.0,490.3 420.1,490.3 420.2,490.3 420.3,490.3 420.4,490.3 420.5,490.3 420.6,490.3 420.7,490.3 420.8,490.3 420.9,490.3 421.0,490.3 421.2,490.3 421.3,490.3 421.4,490.3 421.5,490.3 421.6,490.3 421.7,490.3 421.8,490.3 421.9,490.3 422.0,490.3 422.1,490.3 422.2,490.3 422.3,490.3 422.4,490.3 422.5,490.3 422.6,490.3 422.7,490.3 422.8,490.3 422.9,490.3 423.0,490.3 423.1,490.3 423.3,490.3 423.4,490.3 423.5,490.3 423.6,490.3 423.7,490.3 423.8,490.3 423.9,490.3 424.0,490.3 424.1,490.3 424.2,490.3 424.3,490.3 424.4,490.3 424.5,490.3 424.6,490.3 424.7,490.3 424.8,490.3 424.9,490.3 425.0,490.3 425.1,490.3 425.3,490.3 425.4,490.3 425.5,490.3 425.6,490.3 425.7,490.3 425.8,490.3 425.9,490.3 426.0,490.3 426.1,490.3 426.2,490.3 426.3,490.3 426.4,490.3 426.5,490.3 426.6,490.3 426.7,490.3 426.8,490.3 426.9,490.3 427.0,490.3 427.1,490.3 427.2,490.3 427.4,490.3 427.5,490.3 427.6,490.3 427.7,490.3 427.8,490.3 427.9,490.3 428.0,490.3 428.1,490.3 428.2,490.3 428.3,490.3 428.4,490.3 428.5,490.3 428.6,490.3 428.7,490.3 428.8,490.3 428.9,490.3 429.0,490.3 429.1,490.3 429.2,490.3 429.3,490.3 429.5,490.3 429.6,490.3 429.7,490.3 429.8,490.3 429.9,490.3 430.0,490.3 430.1,490.3 430.2,490.3 430.3,490.3 430.4,490.3 430.5,490.3 430.6,490.3 430.7,490.3 430.8,490.3 430.9,490.3 431.0,490.3 431.1,490.3 431.2,490.3 431.3,490.3 431.4,490.3 431.6,490.3 431.7,490.3 431.8,490.3 431.9,490.3 432.0,490.3 432.1,490.3 432.2,490.3 432.3,490.3 432.4,490.3 432.5,490.3 432.6,490.3 432.7,490.3 432.8,490.3 432.9,490.3 433.0,490.3 433.1,490.3 433.2,490.3 433.3,490.3 433.4,490.3 433.5,490.3 433.7,490.3 433.8,490.3 433.9,490.3 434.0,490.3 434.1,490.3 434.2,490.3 434.3,490.3 434.4,490.3 434.5,490.3 434.6,490.3 434.7,490.3 434.8,490.3 434.9,490.3 435.0,490.3 435.1,490.3 435.2,490.3 435.3,490.3 435.4,490.3 435.5,490.3 435.6,490.3 435.8,490.3 435.9,490.3 436.0,490.3 436.1,490.3 436.2,490.3 436.3,490.3 436.4,490.3 436.5,490.3 436.6,490.3 436.7,490.3 436.8,490.3 436.9,490.3 437.0,490.3 437.1,490.3 437.2,490.3 437.3,490.3 437.4,490.3 437.5,490.3 437.6,490.3 437.8,490.3 437.9,490.3 438.0,490.3 438.1,490.3 438.2,490.3 438.3,490.3 438.4,490.3 438.5,490.3 438.6,490.3 438.7,490.3 438.8,490.3 438.9,490.3 439.0,490.3 439.1,490.3 439.2,490.3 439.3,490.3 439.4,490.3 439.5,490.3 439.6,490.3 439.7,490.3 439.9,490.3 440.0,490.3 440.1,490.3 440.2,490.3 440.3,490.3 440.4,490.3 440.5,490.3 440.6,490.3 440.7,490.3 440.8,490.3 440.9,490.3 441.0,490.3 441.1,490.3 441.2,490.3 441.3,490.3 441.4,490.3 441.5,490.3 441.6,490.3 441.7,490.3 441.8,490.3 442.0,490.3 442.1,490.3 442.2,490.3 442.3,490.3 442.4,490.3 442.5,490.3 442.6,490.3 442.7,490.3 442.8,490.3 442.9,490.3 443.0,490.3 443.1,490.3 443.2,490.3 443.3,490.3 443.4,490.3 443.5,490.3 443.6,490.3 443.7,490.3 443.8,490.3 443.9,490.3 444.1,490.3 444.2,490.3 444.3,490.3 444.4,490.3 444.5,490.3 444.6,490.3 444.7,490.3 444.8,490.3 444.9,490.3 445.0,490.3 445.1,490.3 445.2,490.3 445.3,490.3 445.4,490.3 445.5,490.3 445.6,490.3 445.7,490.3 445.8,490.3 445.9,490.3 446.0,490.3 446.2,490.3 446.3,490.3 446.4,490.3 446.5,490.3 446.6,490.3 446.7,490.3 446.8,490.3 446.9,490.3 447.0,490.3 447.1,490.3 447.2,490.3 447.3,490.3 447.4,490.3 447.5,490.3 447.6,490.3 447.7,490.3 447.8,490.3 447.9,490.3 448.0,490.3 448.1,490.3 448.3,490.3 448.4,490.3 448.5,490.3 448.6,490.3 448.7,490.3 448.8,490.3 448.9,490.3 449.0,490.3 449.1,490.3 449.2,490.3 449.3,490.3 449.4,490.3 449.5,490.3 449.6,490.3 449.7,490.3 449.8,490.3 449.9,490.3 450.0,490.3 450.1,490.3 450.2,490.3 450.4,490.3 450.5,490.3 450.6,490.3 450.7,490.3 450.8,490.3 450.9,490.3 451.0,490.3 451.1,490.3 451.2,490.3 451.3,490.3 451.4,490.3 451.5,490.3 451.6,490.3 451.7,490.3 451.8,490.3 451.9,490.3 452.0,490.3 452.1,490.3 452.2,490.3 452.4,490.3 452.5,490.3 452.6,490.3 452.7,490.3 452.8,490.3 452.9,490.2 453.0,490.2 453.1,490.2 453.2,490.2 453.3,490.2 453.4,490.2 453.5,490.2 453.6,490.2 453.7,490.2 453.8,490.2 453.9,490.2 454.0,490.2 454.1,490.2 454.2,490.2 454.3,490.2 454.5,490.2 454.6,490.2 454.7,490.2 454.8,490.2 454.9,490.2 455.0,490.2 455.1,490.2 455.2,490.2 455.3,490.2 455.4,490.2 455.5,490.2 455.6,490.2 455.7,490.2 455.8,490.2 455.9,490.2 456.0,490.2 456.1,490.2 456.2,490.1 456.3,490.1 456.4,490.1 456.6,490.1 456.7,490.1 456.8,490.1 456.9,490.1 457.0,490.1 457.1,490.1 457.2,490.1 457.3,490.0 457.4,490.0 457.5,490.0 457.6,489.9 457.7,489.9 457.8,489.8 457.9,489.7 458.0,489.5 458.1,489.3 458.2,489.0 458.3,488.5 458.4,487.9 458.5,487.0 458.7,485.8 458.8,484.2 458.9,482.1 459.0,479.3 459.1,475.8 459.2,471.4 459.3,465.9 459.4,459.4 459.5,451.6 459.6,442.6 459.7,432.3 459.8,420.9 459.9,408.3 460.0,395.0 460.1,381.1 460.2,367.1 460.3,353.4 460.4,340.4 460.5,328.6 460.6,318.5 460.8,310.6 460.9,305.2 461.0,302.6 461.1,302.4 461.2,303.1 461.3,304.4 461.4,306.3 461.5,308.7 461.6,311.7 461.7,315.3 461.8,319.3 461.9,323.7 462.0,328.5 462.1,333.7 462.2,339.1 462.3,344.9 462.4,350.8 462.5,356.8 462.6,363.0 462.7,369.2 462.9,375.5 463.0,381.8 463.1,388.0 463.2,394.1 463.3,400.1 463.4,405.9 463.5,411.4 463.6,416.8 463.7,422.0 463.8,427.0 463.9,431.8 464.0,436.3 464.1,440.7 464.2,444.7 464.3,448.5 464.4,452.1 464.5,455.4 464.6,458.5 464.7,461.4 464.8,464.1 465.0,466.5 465.1,468.7 465.2,470.7 465.3,472.6 465.4,474.3 465.5,475.8 465.6,477.2 465.7,478.4 465.8,479.5 465.9,480.5 466.0,481.4 466.1,482.2 466.2,482.9 466.3,483.5 466.4,484.0 466.5,484.5 466.6,485.0 466.7,485.3 466.8,485.7 467.0,486.0 467.1,486.3 467.2,486.5 467.3,486.7 467.4,486.9 467.5,487.1 467.6,487.2 467.7,487.3 467.8,487.5 467.9,487.6 468.0,487.7 468.1,487.8 468.2,487.9 468.3,487.9 468.4,488.0 468.5,488.1 468.6,488.1 468.7,488.2 468.8,488.3 468.9,488.3 469.1,488.4 469.2,488.4 469.3,488.5 469.4,488.5 469.5,488.5 469.6,488.6 469.7,488.6 469.8,488.7 469.9,488.7 470.0,488.7 470.1,488.8 470.2,488.8 470.3,488.8 470.4,488.9 470.5,488.9 470.6,488.9 470.7,488.9 470.8,489.0 470.9,489.0 471.0,489.0 471.2,489.1 471.3,489.1 471.4,489.1 471.5,489.1 471.6,489.1 471.7,489.2 471.8,489.2 471.9,489.2 472.0,489.2 472.1,489.3 472.2,489.3 472.3,489.3 472.4,489.3 472.5,489.3 472.6,489.3 472.7,489.4 472.8,489.4 472.9,489.4 473.0,489.4 473.1,489.4 473.3,489.4 473.4,489.5 473.5,489.5 473.6,489.5 473.7,489.5 473.8,489.5 473.9,489.5 474.0,489.5 474.1,489.6 474.2,489.6 474.3,489.6 474.4,489.6 474.5,489.6 474.6,489.6 474.7,489.6 474.8,489.6 474.9,489.6 475.0,489.7 475.1,489.7 475.2,489.7 475.4,489.7 475.5,489.7 475.6,489.7 475.7,489.7 475.8,489.7 475.9,489.7 476.0,489.7 476.1,489.7 476.2,489.8 476.3,489.8 476.4,489.8 476.5,489.8 476.6,489.8 476.7,489.8 476.8,489.8 476.9,489.8 477.0,489.8 477.1,489.8 477.2,489.8 477.3,489.8 477.5,489.8 477.6,489.8 477.7,489.9 477.8,489.9 477.9,489.9 478.0,489.9 478.1,489.9 478.2,489.9 478.3,489.9 478.4,489.9 478.5,489.9 478.6,489.9 478.7,489.9 478.8,489.9 478.9,489.9 479.0,489.9 479.1,489.9 479.2,489.9 479.3,489.9 479.4,489.9 479.6,489.9 479.7,490.0 479.8,490.0 479.9,490.0 480.0,490.0 480.1,490.0 480.2,490.0 480.3,490.0 480.4,490.0 480.5,490.0 480.6,490.0 480.7,490.0 480.8,490.0 480.9,490.0 481.0,490.0 481.1,490.0 481.2,490.0 481.3,490.0 481.4,490.0 481.6,490.0 481.7,490.0 481.8,490.0 481.9,490.0 482.0,490.0 482.1,490.0 482.2,490.0 482.3,490.0 482.4,490.0 482.5,490.0 482.6,490.0 482.7,490.1 482.8,490.1 482.9,490.1 483.0,490.1 483.1,490.1 483.2,490.1 483.3,490.1 483.4,490.1 483.5,490.1 483.7,490.1 483.8,490.1 483.9,490.1 484.0,490.1 484.1,490.1 484.2,490.1 484.3,490.1 484.4,490.1 484.5,490.1 484.6,490.1 484.7,490.1 484.8,490.1 484.9,490.1 485.0,490.1 485.1,490.1 485.2,490.1 485.3,490.1 485.4,490.1 485.5,490.1 485.6,490.1 485.8,490.1 485.9,490.1 486.0,490.1 486.1,490.1 486.2,490.1 486.3,490.1 486.4,490.1 486.5,490.1 486.6,490.1 486.7,490.1 486.8,490.1 486.9,490.1 487.0,490.1 487.1,490.1 487.2,490.1 487.3,490.1 487.4,490.1 487.5,490.1 487.6,490.1 487.7,490.1 487.9,490.1 488.0,490.1 488.1,490.1 488.2,490.2 488.3,490.2 488.4,490.2 488.5,490.2 488.6,490.2 488.7,490.2 488.8,490.2 488.9,490.2 489.0,490.2 489.1,490.2 489.2,490.2 489.3,490.2 489.4,490.2 489.5,490.2 489.6,490.2 489.7,490.2 489.8,490.2 490.0,490.2 490.1,490.2 490.2,490.2 490.3,490.2 490.4,490.2 490.5,490.2 490.6,490.2 490.7,490.2 490.8,490.2 490.9,490.2 491.0,490.2 491.1,490.2 491.2,490.2 491.3,490.2 491.4,490.2 491.5,490.2 491.6,490.2 491.7,490.2 491.8,490.2 491.9,490.2 492.1,490.2 492.2,490.2 492.3,490.2 492.4,490.2 492.5,490.2 492.6,490.2 492.7,490.2 492.8,490.2 492.9,490.2 493.0,490.2 493.1,490.2 493.2,490.2 493.3,490.2 493.4,490.2 493.5,490.2 493.6,490.2 493.7,490.2 493.8,490.2 493.9,490.2 494.1,490.2 494.2,490.2 494.3,490.2 494.4,490.2 494.5,490.2 494.6,490.2 494.7,490.2 494.8,490.2 494.9,490.2 495.0,490.2 495.1,490.2 495.2,490.2 495.3,490.2 495.4,490.2 495.5,490.2 495.6,490.2 495.7,490.2 495.8,490.2 495.9,490.2 496.0,490.2 496.2,490.2 496.3,490.2 496.4,490.2 496.5,490.2 496.6,490.2 496.7,490.2 496.8,490.2 496.9,490.2 497.0,490.2 497.1,490.2 497.2,490.2 497.3,490.2 497.4,490.2 497.5,490.2 497.6,490.2 497.7,490.2 497.8,490.2 497.9,490.2 498.0,490.2 498.1,490.2 498.3,490.2 498.4,490.2 498.5,490.2 498.6,490.2 498.7,490.2 498.8,490.2 498.9,490.2 499.0,490.2 499.1,490.2 499.2,490.2 499.3,490.2 499.4,490.2 499.5,490.2 499.6,490.2 499.7,490.2 499.8,490.2 499.9,490.2 500.0,490.2 500.1,490.2 500.2,490.2 500.4,490.2 500.5,490.2 500.6,490.2 500.7,490.2 500.8,490.2 500.9,490.2 501.0,490.2 501.1,490.2 501.2,490.2 501.3,490.2 501.4,490.2 501.5,490.2 501.6,490.2 501.7,490.2 501.8,490.2 501.9,490.2 502.0,490.2 502.1,490.2 502.2,490.2 502.3,490.2 502.5,490.2 502.6,490.2 502.7,490.2 502.8,490.2 502.9,490.2 503.0,490.2 503.1,490.2 503.2,490.2 503.3,490.2 503.4,490.2 503.5,490.2 503.6,490.2 503.7,490.2 503.8,490.2 503.9,490.2 504.0,490.2 504.1,490.2 504.2,490.2 504.3,490.2 504.4,490.2 504.6,490.2 504.7,490.2 504.8,490.2 504.9,490.2 505.0,490.2 505.1,490.2 505.2,490.2 505.3,490.3 505.4,490.3 505.5,490.3 505.6,490.3 505.7,490.3 505.8,490.3 505.9,490.3 506.0,490.3 506.1,490.3 506.2,490.3 506.3,490.3 506.4,490.3 506.5,490.3 506.7,490.3 506.8,490.3 506.9,490.3 507.0,490.3 507.1,490.3 507.2,490.3 507.3,490.3 507.4,490.3 507.5,490.3 507.6,490.3 507.7,490.3 507.8,490.3 507.9,490.3 508.0,490.3 508.1,490.3 508.2,490.3 508.3,490.3 508.4,490.3 508.5,490.3 508.7,490.3 508.8,490.3 508.9,490.3 509.0,490.3 509.1,490.3 509.2,490.3 509.3,490.3 509.4,490.3 509.5,490.3 509.6,490.3 509.7,490.3 509.8,490.3 509.9,490.3 510.0,490.3 510.1,490.3 510.2,490.3 510.3,490.3 510.4,490.3 510.5,490.3 510.6,490.3 510.8,490.3 510.9,490.3 511.0,490.3 511.1,490.3 511.2,490.3 511.3,490.3 511.4,490.3 511.5,490.3 511.6,490.3 511.7,490.3 511.8,490.3 511.9,490.3 512.0,490.3 512.1,490.3 512.2,490.3 512.3,490.3 512.4,490.3 512.5,490.3 512.6,490.3 512.7,490.3 512.9,490.3 513.0,490.3 513.1,490.3 513.2,490.3 513.3,490.3 513.4,490.3 513.5,490.3 513.6,490.3 513.7,490.3 513.8,490.3 513.9,490.3 514.0,490.3 514.1,490.3 514.2,490.3 514.3,490.3 514.4,490.3 514.5,490.3 514.6,490.3 514.7,490.3 514.8,490.3 515.0,490.3 515.1,490.3 515.2,490.3 515.3,490.3 515.4,490.3 515.5,490.3 515.6,490.3 515.7,490.3 515.8,490.3 515.9,490.3 516.0,490.3 516.1,490.3 516.2,490.3 516.3,490.3 516.4,490.3 516.5,490.3 516.6,490.3 516.7,490.3 516.8,490.3 516.9,490.3 517.1,490.3 517.2,490.3 517.3,490.3 517.4,490.3 517.5,490.3 517.6,490.3 517.7,490.3 517.8,490.3 517.9,490.3 518.0,490.3 518.1,490.3 518.2,490.3 518.3,490.3 518.4,490.3 518.5,490.3 518.6,490.3 518.7,490.3 518.8,490.3 518.9,490.3 519.0,490.3 519.2,490.3 519.3,490.3 519.4,490.3 519.5,490.3 519.6,490.3 519.7,490.3 519.8,490.3 519.9,490.3 520.0,490.3 520.1,490.3 520.2,490.3 520.3,490.3 520.4,490.3 520.5,490.3 520.6,490.3 520.7,490.3 520.8,490.3 520.9,490.3 521.0,490.3 521.1,490.3 521.3,490.3 521.4,490.3 521.5,490.3 521.6,490.3 521.7,490.3 521.8,490.3 521.9,490.3 522.0,490.3 522.1,490.3 522.2,490.3 522.3,490.3 522.4,490.3 522.5,490.3 522.6,490.3 522.7,490.3 522.8,490.3 522.9,490.3 523.0,490.3 523.1,490.3 523.3,490.3 523.4,490.3 523.5,490.3 523.6,490.3 523.7,490.3 523.8,490.3 523.9,490.3 524.0,490.3 524.1,490.3 524.2,490.3 524.3,490.3 524.4,490.3 524.5,490.3 524.6,490.3 524.7,490.3 524.8,490.3 524.9,490.3 525.0,490.3 525.1,490.3 525.2,490.3 525.4,490.3 525.5,490.3 525.6,490.3 525.7,490.3 525.8,490.3 525.9,490.3 526.0,490.3 526.1,490.3 526.2,490.3 526.3,490.3 526.4,490.3 526.5,490.3 526.6,490.3 526.7,490.3 526.8,490.3 526.9,490.3 527.0,490.3 527.1,490.3 527.2,490.3 527.3,490.3 527.5,490.3 527.6,490.3 527.7,490.3 527.8,490.3 527.9,490.3 528.0,490.3 528.1,490.3 528.2,490.3 528.3,490.3 528.4,490.3 528.5,490.3 528.6,490.3 528.7,490.3 528.8,490.3 528.9,490.2 529.0,490.2 529.1,490.2 529.2,490.2 529.3,490.2 529.4,490.2 529.6,490.2 529.7,490.2 529.8,490.2 529.9,490.2 530.0,490.2 530.1,490.2 530.2,490.2 530.3,490.2 530.4,490.2 530.5,490.2 530.6,490.1 530.7,490.1 530.8,490.1 530.9,490.1 531.0,490.1 531.1,490.1 531.2,490.1 531.3,490.1 531.4,490.0 531.5,490.0 531.7,490.0 531.8,490.0 531.9,490.0 532.0,490.0 532.1,489.9 532.2,489.9 532.3,489.9 532.4,489.9 532.5,489.9 532.6,489.8 532.7,489.8 532.8,489.8 532.9,489.8 533.0,489.7 533.1,489.7 533.2,489.7 533.3,489.7 533.4,489.6 533.5,489.6 533.6,489.6 533.8,489.6 533.9,489.5 534.0,489.5 534.1,489.5 534.2,489.5 534.3,489.4 534.4,489.4 534.5,489.4 534.6,489.4 534.7,489.3 534.8,489.3 534.9,489.3 535.0,489.3 535.1,489.3 535.2,489.3 535.3,489.2 535.4,489.2 535.5,489.2 535.6,489.2 535.8,489.2 535.9,489.2 536.0,489.2 536.1,489.2 536.2,489.2 536.3,489.2 536.4,489.2 536.5,489.2 536.6,489.2 536.7,489.2 536.8,489.2 536.9,489.2 537.0,489.2 537.1,489.2 537.2,489.2 537.3,489.2 537.4,489.2 537.5,489.2 537.6,489.2 537.7,489.2 537.9,489.2 538.0,489.2 538.1,489.2 538.2,489.2 538.3,489.2 538.4,489.2 538.5,489.2 538.6,489.3 538.7,489.3 538.8,489.3 538.9,489.3 539.0,489.3 539.1,489.3 539.2,489.3 539.3,489.3 539.4,489.3 539.5,489.3 539.6,489.4 539.7,489.4 539.8,489.4 540.0,489.4 540.1,489.4 540.2,489.4 540.3,489.4 540.4,489.4 540.5,489.5 540.6,489.5 540.7,489.5 540.8,489.5 540.9,489.5 541.0,489.5 541.1,489.5 541.2,489.5 541.3,489.6 541.4,489.6 541.5,489.6 541.6,489.6 541.7,489.6 541.8,489.6 541.9,489.6 542.1,489.6 542.2,489.7 542.3,489.7 542.4,489.7 542.5,489.7 542.6,489.7 542.7,489.7 542.8,489.7 542.9,489.7 543.0,489.8 543.1,489.8 543.2,489.8 543.3,489.8 543.4,489.8 543.5,489.8 543.6,489.8 543.7,489.8 543.8,489.8 543.9,489.9 544.0,489.9 544.2,489.9 544.3,489.9 544.4,489.9 544.5,489.9 544.6,489.9 544.7,489.9 544.8,489.9 544.9,489.9 545.0,490.0 545.1,490.0 545.2,490.0 545.3,490.0 545.4,490.0 545.5,490.0 545.6,490.0 545.7,490.0 545.8,490.0 545.9,490.0 546.0,490.0 546.1,490.0 546.3,490.0 546.4,490.1 546.5,490.1 546.6,490.1 546.7,490.1 546.8,490.1 546.9,490.1 547.0,490.1 547.1,490.1 547.2,490.1 547.3,490.1 547.4,490.1 547.5,490.1 547.6,490.1 547.7,490.1 547.8,490.1 547.9,490.1 548.0,490.1 548.1,490.1 548.2,490.1 548.4,490.2 548.5,490.2 548.6,490.2 548.7,490.2 548.8,490.2 548.9,490.2 549.0,490.2 549.1,490.2 549.2,490.2 549.3,490.2 549.4,490.2 549.5,490.2 549.6,490.2 549.7,490.2 549.8,490.2 549.9,490.2 550.0,490.2 550.1,490.2 550.2,490.2 550.4,490.2 550.5,490.2 550.6,490.2 550.7,490.2 550.8,490.2 550.9,490.2 551.0,490.2 551.1,490.2 551.2,490.2 551.3,490.2 551.4,490.2 551.5,490.2 551.6,490.2 551.7,490.2 551.8,490.2 551.9,490.2 552.0,490.2 552.1,490.2 552.2,490.2 552.3,490.2 552.5,490.2 552.6,490.2 552.7,490.2 552.8,490.2 552.9,490.2 553.0,490.2 553.1,490.2 553.2,490.2 553.3,490.2 553.4,490.2 553.5,490.2 553.6,490.2 553.7,490.2 553.8,490.2 553.9,490.3 554.0,490.3 554.1,490.3 554.2,490.3 554.3,490.3 554.4,490.3 554.6,490.3 554.7,490.3 554.8,490.3 554.9,490.3 555.0,490.3 555.1,490.3 555.2,490.3 555.3,490.3 555.4,490.3 555.5,490.3 555.6,490.3 555.7,490.3 555.8,490.3 555.9,490.3 556.0,490.3 556.1,490.3 556.2,490.3 556.3,490.3 556.4,490.3 556.5,490.3 556.7,490.3 556.8,490.3 556.9,490.3 557.0,490.3 557.1,490.3 557.2,490.3 557.3,490.3 557.4,490.3 557.5,490.3 557.6,490.3 557.7,490.3 557.8,490.3 557.9,490.3 558.0,490.3 558.1,490.3 558.2,490.3 558.3,490.3 558.4,490.3 558.5,490.3 558.6,490.3 558.8,490.3 558.9,490.3 559.0,490.3 559.1,490.3 559.2,490.3 559.3,490.3 559.4,490.3 559.5,490.3 559.6,490.3 559.7,490.3 559.8,490.3 559.9,490.3 560.0,490.3 560.1,490.3 560.2,490.3 560.3,490.3 560.4,490.3 560.5,490.3 560.6,490.3 560.7,490.3 560.9,490.3 561.0,490.3 561.1,490.3 561.2,490.3 561.3,490.3 561.4,490.3 561.5,490.3 561.6,490.3 561.7,490.3 561.8,490.3 561.9,490.3 562.0,490.3 562.1,490.3 562.2,490.3 562.3,490.3 562.4,490.3 562.5,490.3 562.6,490.3 562.7,490.3 562.8,490.3 563.0,490.3 563.1,490.3 563.2,490.3 563.3,490.3 563.4,490.3 563.5,490.3 563.6,490.3 563.7,490.3 563.8,490.3 563.9,490.3 564.0,490.3 564.1,490.3 564.2,490.3 564.3,490.3 564.4,490.3 564.5,490.3 564.6,490.3 564.7,490.3 564.8,490.3 565.0,490.3 565.1,490.3 565.2,490.3 565.3,490.3 565.4,490.3 565.5,490.3 565.6,490.3 565.7,490.3 565.8,490.3 565.9,490.3 566.0,490.3 566.1,490.3 566.2,490.3 566.3,490.3 566.4,490.3 566.5,490.3 566.6,490.3 566.7,490.3 566.8,490.3 566.9,490.3 567.1,490.3 567.2,490.3 567.3,490.3 567.4,490.3 567.5,490.3 567.6,490.3 567.7,490.3 567.8,490.3 567.9,490.3 568.0,490.3 568.1,490.3 568.2,490.3 568.3,490.3 568.4,490.3 568.5,490.3 568.6,490.3 568.7,490.3 568.8,490.3 568.9,490.3 569.0,490.3 569.2,490.3 569.3,490.3 569.4,490.3 569.5,490.3 569.6,490.3 569.7,490.3 569.8,490.3 569.9,490.3 570.0,490.3 570.1,490.3 570.2,490.3 570.3,490.3 570.4,490.3 570.5,490.3 570.6,490.3 570.7,490.3 570.8,490.3 570.9,490.3 571.0,490.3 571.1,490.3 571.3,490.3 571.4,490.3 571.5,490.3 571.6,490.3 571.7,490.3 571.8,490.3 571.9,490.3 572.0,490.3 572.1,490.3 572.2,490.3 572.3,490.3 572.4,490.3 572.5,490.3 572.6,490.3 572.7,490.3 572.8,490.3 572.9,490.3 573.0,490.3 573.1,490.3 573.2,490.3 573.4,490.3 573.5,490.3 573.6,490.3 573.7,490.3 573.8,490.3 573.9,490.3 574.0,490.3 574.1,490.3 574.2,490.3 574.3,490.3 574.4,490.3 574.5,490.3 574.6,490.3 574.7,490.3 574.8,490.3 574.9,490.3 575.0,490.3 575.1,490.3 575.2,490.3 575.3,490.3 575.5,490.3 575.6,490.3 575.7,490.3 575.8,490.3 575.9,490.3 576.0,490.3 576.1,490.3 576.2,490.3 576.3,490.3 576.4,490.3 576.5,490.3 576.6,490.3 576.7,490.3 576.8,490.3 576.9,490.3 577.0,490.3 577.1,490.3 577.2,490.3 577.3,490.3 577.4,490.3 577.6,490.3 577.7,490.3 577.8,490.3 577.9,490.3 578.0,490.3 578.1,490.3 578.2,490.3 578.3,490.3 578.4,490.3 578.5,490.3 578.6,490.3 578.7,490.3 578.8,490.3 578.9,490.3 579.0,490.3 579.1,490.3 579.2,490.3 579.3,490.3 579.4,490.3 579.6,490.3 579.7,490.3 579.8,490.3 579.9,490.3 580.0,490.3 580.1,490.3 580.2,490.3 580.3,490.3 580.4,490.3 580.5,490.3 580.6,490.3 580.7,490.3 580.8,490.3 580.9,490.3 581.0,490.3 581.1,490.3 581.2,490.3 581.3,490.3 581.4,490.3 581.5,490.3 581.7,490.3 581.8,490.3 581.9,490.3 582.0,490.3 582.1,490.3 582.2,490.3 582.3,490.3 582.4,490.3 582.5,490.3 582.6,490.3 582.7,490.3 582.8,490.3 582.9,490.3 583.0,490.3 583.1,490.3 583.2,490.3 583.3,490.3 583.4,490.3 583.5,490.3 583.6,490.3 583.8,490.3 583.9,490.3 584.0,490.3 584.1,490.3 584.2,490.3 584.3,490.3 584.4,490.3 584.5,490.3 584.6,490.3 584.7,490.3 584.8,490.3 584.9,490.3 585.0,490.3 585.1,490.3 585.2,490.3 585.3,490.3 585.4,490.3 585.5,490.3 585.6,490.3 585.7,490.3 585.9,490.3 586.0,490.3 586.1,490.3 586.2,490.3 586.3,490.3 586.4,490.3 586.5,490.3 586.6,490.3 586.7,490.3 586.8,490.3 586.9,490.3 587.0,490.3 587.1,490.3 587.2,490.3 587.3,490.3 587.4,490.3 587.5,490.3 587.6,490.3 587.7,490.3 587.8,490.3 588.0,490.3 588.1,490.3 588.2,490.3 588.3,490.3 588.4,490.3 588.5,490.3 588.6,490.3 588.7,490.3 588.8,490.3 588.9,490.3 589.0,490.3 589.1,490.3 589.2,490.3 589.3,490.3 589.4,490.3 589.5,490.3 589.6,490.3 589.7,490.3 589.8,490.3 589.9,490.3 590.1,490.3 590.2,490.3 590.3,490.3 590.4,490.3 590.5,490.3 590.6,490.3 590.7,490.3 590.8,490.3 590.9,490.3 591.0,490.3 591.1,490.3 591.2,490.3 591.3,490.3 591.4,490.3 591.5,490.3 591.6,490.3 591.7,490.3 591.8,490.3 591.9,490.3 592.1,490.3 592.2,490.3 592.3,490.3 592.4,490.3 592.5,490.3 592.6,490.3 592.7,490.3 592.8,490.3 592.9,490.3 593.0,490.3 593.1,490.3 593.2,490.3 593.3,490.3 593.4,490.3 593.5,490.3 593.6,490.3 593.7,490.3 593.8,490.3 593.9,490.3 594.0,490.3 594.2,490.3 594.3,490.3 594.4,490.3 594.5,490.3 594.6,490.3 594.7,490.3 594.8,490.3 594.9,490.3 595.0,490.3 595.1,490.3 595.2,490.3 595.3,490.3 595.4,490.3 595.5,490.3 595.6,490.3 595.7,490.3 595.8,490.3 595.9,490.3 596.0,490.3 596.1,490.3 596.3,490.3 596.4,490.3 596.5,490.3 596.6,490.3 596.7,490.3 596.8,490.3 596.9,490.3 597.0,490.3 597.1,490.3 597.2,490.3 597.3,490.3 597.4,490.3 597.5,490.3 597.6,490.3 597.7,490.3 597.8,490.3 597.9,490.3 598.0,490.3 598.1,490.3 598.2,490.3 598.4,490.3 598.5,490.3 598.6,490.3 598.7,490.3 598.8,490.3 598.9,490.3 599.0,490.3 599.1,490.3 599.2,490.3 599.3,490.3 599.4,490.3 599.5,490.3 599.6,490.3 599.7,490.3 599.8,490.3 599.9,490.3 600.0,490.3 600.1,490.3 600.2,490.3 600.3,490.3 600.5,490.3 600.6,490.3 600.7,490.3 600.8,490.3 600.9,490.3 601.0,490.3 601.1,490.3 601.2,490.3 601.3,490.3 601.4,490.3 601.5,490.3 601.6,490.3 601.7,490.3 601.8,490.3 601.9,490.3 602.0,490.3 602.1,490.3 602.2,490.3 602.3,490.3 602.4,490.3 602.6,490.3 602.7,490.3 602.8,490.3 602.9,490.3 603.0,490.3 603.1,490.3 603.2,490.3 603.3,490.3 603.4,490.3 603.5,490.3 603.6,490.3 603.7,490.3 603.8,490.3 603.9,490.3 604.0,490.3 604.1,490.3 604.2,490.3 604.3,490.3 604.4,490.3 604.5,490.3 604.7,490.3 604.8,490.3 604.9,490.3 605.0,490.3 605.1,490.3 605.2,490.3 605.3,490.3 605.4,490.3 605.5,490.3 605.6,490.3 605.7,490.3 605.8,490.3 605.9,490.3 606.0,490.3 606.1,490.3 606.2,490.3 606.3,490.3 606.4,490.3 606.5,490.3 606.7,490.3 606.8,490.3 606.9,490.3 607.0,490.3 607.1,490.3 607.2,490.3 607.3,490.3 607.4,490.3 607.5,490.3 607.6,490.3 607.7,490.3 607.8,490.3 607.9,490.3 608.0,490.3 608.1,490.3 608.2,490.3 608.3,490.3 608.4,490.3 608.5,490.3 608.6,490.3 608.8,490.3 608.9,490.3 609.0,490.3 609.1,490.3 609.2,490.3 609.3,490.3 609.4,490.3 609.5,490.3 609.6,490.3 609.7,490.3 609.8,490.3 609.9,490.3 610.0,490.3 610.1,490.3 610.2,490.3 610.3,490.3 610.4,490.3 610.5,490.3 610.6,490.3 610.7,490.3 610.9,490.3 611.0,490.3 611.1,490.3 611.2,490.3 611.3,490.3 611.4,490.3 611.5,490.3 611.6,490.3 611.7,490.3 611.8,490.3 611.9,490.3 612.0,490.3 612.1,490.3 612.2,490.3 612.3,490.3 612.4,490.3 612.5,490.3 612.6,490.3 612.7,490.3 612.8,490.3 613.0,490.3 613.1,490.3 613.2,490.3 613.3,490.3 613.4,490.3 613.5,490.3 613.6,490.3 613.7,490.3 613.8,490.3 613.9,490.3 614.0,490.3 614.1,490.3 614.2,490.3 614.3,490.3 614.4,490.3 614.5,490.3 614.6,490.3 614.7,490.3 614.8,490.3 614.9,490.3 615.1,490.3 615.2,490.3 615.3,490.3 615.4,490.3 615.5,490.3 615.6,490.3 615.7,490.3 615.8,490.3 615.9,490.3 616.0,490.3 616.1,490.3 616.2,490.3 616.3,490.3 616.4,490.3 616.5,490.3 616.6,490.3 616.7,490.3 616.8,490.3 616.9,490.3 617.0,490.3 617.2,490.3 617.3,490.3 617.4,490.3 617.5,490.3 617.6,490.3 617.7,490.3 617.8,490.3 617.9,490.3 618.0,490.3 618.1,490.3 618.2,490.3 618.3,490.3 618.4,490.3 618.5,490.3 618.6,490.3 618.7,490.3 618.8,490.3 618.9,490.3 619.0,490.3 619.1,490.3 619.3,490.3 619.4,490.3 619.5,490.3 619.6,490.3 619.7,490.3 619.8,490.3 619.9,490.3 620.0,490.3 620.1,490.3 620.2,490.3 620.3,490.3 620.4,490.3 620.5,490.3 620.6,490.3 620.7,490.3 620.8,490.3 620.9,490.3 621.0,490.3 621.1,490.3 621.3,490.3 621.4,490.3 621.5,490.3 621.6,490.3 621.7,490.3 621.8,490.3 621.9,490.3 622.0,490.3 622.1,490.3 622.2,490.3 622.3,490.3 622.4,490.3 622.5,490.3 622.6,490.3 622.7,490.3 622.8,490.3 622.9,490.3 623.0,490.3 623.1,490.3 623.2,490.3 623.4,490.3 623.5,490.3 623.6,490.3 623.7,490.3 623.8,490.3 623.9,490.3 624.0,490.3 624.1,490.3 624.2,490.3 624.3,490.3 624.4,490.3 624.5,490.3 624.6,490.3 624.7,490.3 624.8,490.3 624.9,490.3 625.0,490.3 625.1,490.3 625.2,490.3 625.3,490.3 625.5,490.3 625.6,490.3 625.7,490.3 625.8,490.3 625.9,490.3 626.0,490.3 626.1,490.3 626.2,490.3 626.3,490.3 626.4,490.3 626.5,490.3 626.6,490.3 626.7,490.3 626.8,490.3 626.9,490.3 627.0,490.3 627.1,490.3 627.2,490.3 627.3,490.3 627.4,490.3 627.6,490.3 627.7,490.3 627.8,490.3 627.9,490.3 628.0,490.3 628.1,490.3 628.2,490.3 628.3,490.3 628.4,490.3 628.5,490.3 628.6,490.3 628.7,490.3 628.8,490.3 628.9,490.3 629.0,490.3 629.1,490.3 629.2,490.3 629.3,490.3 629.4,490.3 629.5,490.3 629.7,490.3 629.8,490.3 629.9,490.3 630.0,490.3 630.1,490.3 630.2,490.3 630.3,490.3 630.4,490.3 630.5,490.3 630.6,490.3 630.7,490.3 630.8,490.3 630.9,490.3 631.0,490.3 631.1,490.3 631.2,490.3 631.3,490.3 631.4,490.3 631.5,490.3 631.6,490.3 631.8,490.3 631.9,490.3 632.0,490.3 632.1,490.3 632.2,490.3 632.3,490.3 632.4,490.3 632.5,490.3 632.6,490.3 632.7,490.3 632.8,490.3 632.9,490.3 633.0,490.3 633.1,490.3 633.2,490.3 633.3,490.3 633.4,490.3 633.5,490.3 633.6,490.3 633.8,490.3 633.9,490.3 634.0,490.3 634.1,490.3 634.2,490.3 634.3,490.3 634.4,490.3 634.5,490.3 634.6,490.3 634.7,490.3 634.8,490.3 634.9,490.3 635.0,490.3 635.1,490.3 635.2,490.3 635.3,490.3 635.4,490.3 635.5,490.3 635.6,490.3 635.7,490.3 635.9,490.3 636.0,490.3 636.1,490.3 636.2,490.3 636.3,490.3 636.4,490.3 636.5,490.3 636.6,490.3 636.7,490.3 636.8,490.3 636.9,490.3 637.0,490.3 637.1,490.3 637.2,490.3 637.3,490.3 637.4,490.3 637.5,490.3 637.6,490.3 637.7,490.3 637.8,490.3 638.0,490.3 638.1,490.3 638.2,490.3 638.3,490.3 638.4,490.3 638.5,490.3 638.6,490.3 638.7,490.3 638.8,490.3 638.9,490.3 639.0,490.3 639.1,490.2 639.2,490.2 639.3,490.2 639.4,490.2 639.5,490.2 639.6,490.2 639.7,490.2 639.8,490.2 639.9,490.2 640.1,490.2 640.2,490.2 640.3,490.2 640.4,490.2 640.5,490.2 640.6,490.2 640.7,490.2 640.8,490.2 640.9,490.2 641.0,490.2 641.1,490.2 641.2,490.2 641.3,490.1 641.4,490.1 641.5,490.1 641.6,490.1 641.7,490.1 641.8,490.1 641.9,490.0 642.0,490.0 642.2,490.0 642.3,490.0 642.4,490.0 642.5,489.9 642.6,489.9 642.7,489.9 642.8,489.8 642.9,489.8 643.0,489.7 643.1,489.7 643.2,489.7 643.3,489.6 643.4,489.6 643.5,489.5 643.6,489.5 643.7,489.4 643.8,489.3 643.9,489.3 644.0,489.2 644.1,489.1 644.3,489.1 644.4,489.0 644.5,488.9 644.6,488.9 644.7,488.8 644.8,488.7 644.9,488.6 645.0,488.6 645.1,488.5 645.2,488.4 645.3,488.3 645.4,488.3 645.5,488.2 645.6,488.1 645.7,488.1 645.8,488.0 645.9,487.9 646.0,487.9 646.1,487.8 646.2,487.8 646.4,487.8 646.5,487.7 646.6,487.7 646.7,487.7 646.8,487.7 646.9,487.7 647.0,487.7 647.1,487.7 647.2,487.7 647.3,487.7 647.4,487.7 647.5,487.7 647.6,487.7 647.7,487.7 647.8,487.8 647.9,487.8 648.0,487.8 648.1,487.8 648.2,487.8 648.4,487.9 648.5,487.9 648.6,487.9 648.7,488.0 648.8,488.0 648.9,488.0 649.0,488.1 649.1,488.1 649.2,488.1 649.3,488.2 649.4,488.2 649.5,488.2 649.6,488.3 649.7,488.3 649.8,488.4 649.9,488.4 650.0,488.4 650.1,488.5 650.2,488.5 650.3,488.6 650.5,488.6 650.6,488.6 650.7,488.7 650.8,488.7 650.9,488.8 651.0,488.8 651.1,488.8 651.2,488.9 651.3,488.9 651.4,488.9 651.5,489.0 651.6,489.0 651.7,489.1 651.8,489.1 651.9,489.1 652.0,489.2 652.1,489.2 652.2,489.2 652.3,489.3 652.4,489.3 652.6,489.3 652.7,489.4 652.8,489.4 652.9,489.4 653.0,489.4 653.1,489.5 653.2,489.5 653.3,489.5 653.4,489.5 653.5,489.6 653.6,489.6 653.7,489.6 653.8,489.6 653.9,489.7 654.0,489.7 654.1,489.7 654.2,489.7 654.3,489.7 654.4,489.8 654.5,489.8 654.7,489.8 654.8,489.8 654.9,489.8 655.0,489.9 655.1,489.9 655.2,489.9 655.3,489.9 655.4,489.9 655.5,489.9 655.6,489.9 655.7,489.9 655.8,490.0 655.9,490.0 656.0,490.0 656.1,490.0 656.2,490.0 656.3,490.0 656.4,490.0 656.5,490.0 656.6,490.0 656.8,490.0 656.9,490.1 657.0,490.1 657.1,490.1 657.2,490.1 657.3,490.1 657.4,490.1 657.5,490.1 657.6,490.1 657.7,490.1 657.8,490.1 657.9,490.1 658.0,490.1 658.1,490.1 658.2,490.1 658.3,490.1 658.4,490.1 658.5,490.1 658.6,490.1 658.7,490.1 658.9,490.2 659.0,490.2 659.1,490.2 659.2,490.2 659.3,490.2 659.4,490.2 659.5,490.2 659.6,490.2 659.7,490.2 659.8,490.2 659.9,490.2 660.0,490.2 660.1,490.2 660.2,490.2 660.3,490.2 660.4,490.2 660.5,490.2 660.6,490.2 660.7,490.2 660.8,490.2 661.0,490.2 661.1,490.2 661.2,490.2 661.3,490.2 661.4,490.2 661.5,490.2 661.6,490.2 661.7,490.2 661.8,490.2 661.9,490.2 662.0,490.2 662.1,490.2 662.2,490.2 662.3,490.2 662.4,490.2 662.5,490.2 662.6,490.2 662.7,490.2 662.8,490.2 663.0,490.2 663.1,490.2 663.2,490.2 663.3,490.2 663.4,490.2 663.5,490.2 663.6,490.2 663.7,490.2 663.8,490.2 663.9,490.2 664.0,490.2 664.1,490.2 664.2,490.2 664.3,490.2 664.4,490.2 664.5,490.2 664.6,490.2 664.7,490.2 664.8,490.2 664.9,490.2 665.1,490.2 665.2,490.2 665.3,490.2 665.4,490.2 665.5,490.2 665.6,490.2 665.7,490.2 665.8,490.2 665.9,490.2 666.0,490.2 666.1,490.2 666.2,490.2 666.3,490.2 666.4,490.2 666.5,490.2 666.6,490.2 666.7,490.2 666.8,490.2 666.9,490.2 667.0,490.3 667.2,490.3 667.3,490.3 667.4,490.3 667.5,490.3 667.6,490.3 667.7,490.3 667.8,490.3 667.9,490.3 668.0,490.3 668.1,490.3 668.2,490.3 668.3,490.3 668.4,490.3 668.5,490.3 668.6,490.3 668.7,490.3 668.8,490.3 668.9,490.3 669.0,490.3 669.1,490.3 669.3,490.3 669.4,490.3 669.5,490.3 669.6,490.3 669.7,490.3 669.8,490.3 669.9,490.3 670.0,490.3 670.1,490.3 670.2,490.3 670.3,490.3 670.4,490.3 670.5,490.3 670.6,490.3 670.7,490.3 670.8,490.3 670.9,490.3 671.0,490.3 671.1,490.3 671.2,490.3 671.4,490.3 671.5,490.3 671.6,490.3 671.7,490.3 671.8,490.3 671.9,490.3 672.0,490.3 672.1,490.3 672.2,490.3 672.3,490.3 672.4,490.3 672.5,490.3 672.6,490.3 672.7,490.3 672.8,490.3 672.9,490.3 673.0,490.3 673.1,490.3 673.2,490.3 673.3,490.3 673.5,490.3 673.6,490.3 673.7,490.3 673.8,490.3 673.9,490.3 674.0,490.3 674.1,490.3 674.2,490.3 674.3,490.3 674.4,490.3 674.5,490.3 674.6,490.3 674.7,490.3 674.8,490.3 674.9,490.3 675.0,490.3 675.1,490.3 675.2,490.3 675.3,490.3 675.4,490.3 675.6,490.3 675.7,490.3 675.8,490.3 675.9,490.3 676.0,490.3 676.1,490.3 676.2,490.3 676.3,490.3 676.4,490.3 676.5,490.3 676.6,490.3 676.7,490.3 676.8,490.3 676.9,490.3 677.0,490.3 677.1,490.3 677.2,490.3 677.3,490.3 677.4,490.3 677.6,490.3 677.7,490.3 677.8,490.3 677.9,490.3 678.0,490.3 678.1,490.3 678.2,490.3 678.3,490.3 678.4,490.3 678.5,490.3 678.6,490.3 678.7,490.3 678.8,490.3 678.9,490.3 679.0,490.3 679.1,490.3 679.2,490.3 679.3,490.3 679.4,490.3 679.5,490.3 679.7,490.3 679.8,490.3 679.9,490.3 680.0,490.3 680.1,490.3 680.2,490.3 680.3,490.3 680.4,490.3 680.5,490.3 680.6,490.3 680.7,490.3 680.8,490.3 680.9,490.3 681.0,490.3 681.1,490.3 681.2,490.3 681.3,490.3 681.4,490.3 681.5,490.3 681.6,490.3 681.8,490.3 681.9,490.3 682.0,490.3 682.1,490.3 682.2,490.3 682.3,490.3 682.4,490.3 682.5,490.3 682.6,490.3 682.7,490.3 682.8,490.3 682.9,490.3 683.0,490.3 683.1,490.3 683.2,490.3 683.3,490.3 683.4,490.3 683.5,490.3 683.6,490.3 683.7,490.3 683.9,490.3 684.0,490.3 684.1,490.3 684.2,490.3 684.3,490.3 684.4,490.3 684.5,490.3 684.6,490.3 684.7,490.3 684.8,490.3 684.9,490.3 685.0,490.3 685.1,490.3 685.2,490.3 685.3,490.3 685.4,490.3 685.5,490.3 685.6,490.3 685.7,490.3 685.8,490.3 686.0,490.3 686.1,490.3 686.2,490.3 686.3,490.3 686.4,490.3 686.5,490.3 686.6,490.3 686.7,490.3 686.8,490.3 686.9,490.3 687.0,490.3 687.1,490.3 687.2,490.3 687.3,490.3 687.4,490.3 687.5,490.3 687.6,490.3 687.7,490.3 687.8,490.3 687.9,490.3 688.1,490.3 688.2,490.3 688.3,490.3 688.4,490.3 688.5,490.3 688.6,490.3 688.7,490.3 688.8,490.3 688.9,490.3 689.0,490.3 689.1,490.3 689.2,490.3 689.3,490.3 689.4,490.3 689.5,490.3 689.6,490.3 689.7,490.3 689.8,490.3 689.9,490.3 690.1,490.3 690.2,490.3 690.3,490.3 690.4,490.3 690.5,490.3 690.6,490.3 690.7,490.3 690.8,490.3 690.9,490.3 691.0,490.3 691.1,490.3 691.2,490.3 691.3,490.3 691.4,490.3 691.5,490.3 691.6,490.3 691.7,490.3 691.8,490.3 691.9,490.3 692.0,490.3 692.2,490.3 692.3,490.3 692.4,490.3 692.5,490.3 692.6,490.3 692.7,490.3 692.8,490.3 692.9,490.3 693.0,490.3 693.1,490.3 693.2,490.3 693.3,490.3 693.4,490.3 693.5,490.3 693.6,490.3 693.7,490.3 693.8,490.3 693.9,490.3 694.0,490.3 694.1,490.3 694.3,490.3 694.4,490.3 694.5,490.3 694.6,490.3 694.7,490.3 694.8,490.3 694.9,490.3 695.0,490.3 695.1,490.3 695.2,490.3 695.3,490.3 695.4,490.3 695.5,490.3 695.6,490.3 695.7,490.3 695.8,490.3 695.9,490.3 696.0,490.3 696.1,490.3 696.2,490.3 696.4,490.3 696.5,490.3 696.6,490.3 696.7,490.3 696.8,490.3 696.9,490.3 697.0,490.3 697.1,490.3 697.2,490.3 697.3,490.3 697.4,490.3 697.5,490.3 697.6,490.3 697.7,490.3 697.8,490.3 697.9,490.3 698.0,490.3 698.1,490.3 698.2,490.3 698.3,490.3 698.5,490.3 698.6,490.3 698.7,490.3 698.8,490.3 698.9,490.3 699.0,490.3 699.1,490.3 699.2,490.3 699.3,490.3 699.4,490.3 699.5,490.3 699.6,490.3 699.7,490.3 699.8,490.3 699.9,490.3 700.0,490.3 700.1,490.3 700.2,490.3 700.3,490.3 700.4,490.3 700.6,490.3 700.7,490.3 700.8,490.3 700.9,490.3 701.0,490.3 701.1,490.3 701.2,490.3 701.3,490.3 701.4,490.3 701.5,490.3 701.6,490.3 701.7,490.3 701.8,490.3 701.9,490.3 702.0,490.3 702.1,490.3 702.2,490.3 702.3,490.3 702.4,490.3 702.5,490.3 702.7,490.3 702.8,490.3 702.9,490.3 703.0,490.3 703.1,490.3 703.2,490.3 703.3,490.3 703.4,490.3 703.5,490.3 703.6,490.3" fill="none" stroke="#0000ff" stroke-width="1.65" stroke-linejoin="round"/>
<text x="561.60" y="528.7" text-anchor="middle" font-size="12.4" fill="#000">Elution volume (mL)</text>
<text transform="translate(373.0,393.2) rotate(-90)" text-anchor="middle" font-size="12.6" fill="#0000ff">ELSD Response (V)</text>
<text x="420.5" y="297.3" font-size="21" font-weight="bold" fill="#000">d</text>
<text x="651.7" y="291.8" font-size="10.65" style="font-kerning:none" fill="#000" stroke="#000" stroke-width="0.15">3V A - 90</text>
<text transform="translate(516.0,415.0) rotate(-90)" text-anchor="middle" font-family='"Liberation Serif", "Times New Roman", serif' font-size="10" fill="#000">Start of gradient</text>
<line x1="512.60" y1="453.00" x2="526.01" y2="485.45" stroke="#000" stroke-width="1.3" stroke-dasharray="1.6 1.6"/>
<polygon points="528.30,491.00 523.79,486.37 528.23,484.54" fill="#000"/>
<text x="513.1" y="148.8" font-size="11.6" fill="#000">iPP</text>
<line x1="506.80" y1="133.80" x2="481.61" y2="119.72" stroke="#000" stroke-width="1.1"/>
<polygon points="475.50,116.30 482.73,117.71 480.49,121.72" fill="#000"/>
<line x1="525.80" y1="163.80" x2="533.79" y2="202.74" stroke="#000" stroke-width="1.1"/>
<polygon points="535.20,209.60 531.54,203.21 536.05,202.28" fill="#000"/>
<text transform="translate(545.9,161.6) rotate(-90)" text-anchor="middle" font-size="11.6" fill="#000">EPC</text>
<text transform="translate(564.8,164.8) rotate(-90)" text-anchor="middle" font-size="11.6" fill="#000">(Propylene rich)</text>
<text transform="translate(604.2,83.8) rotate(-90)" text-anchor="middle" font-size="11.6" fill="#000">EPC</text>
<text transform="translate(622.8,87.3) rotate(-90)" text-anchor="middle" font-size="11.6" fill="#000">(Ethylene rich)</text>
<text x="630.6" y="31.8" font-size="11.3" fill="#000">PE</text>
</svg>
</body></html>
